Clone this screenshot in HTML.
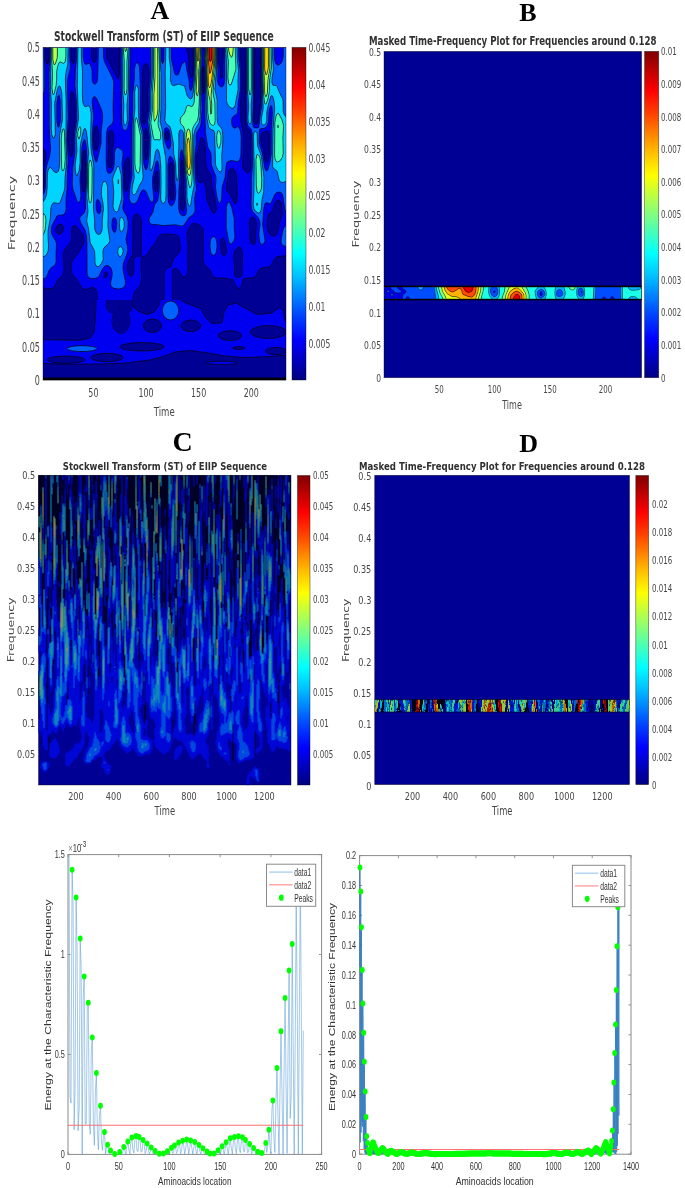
<!DOCTYPE html>
<html><head><meta charset="utf-8"><title>Stockwell Transform figure</title>
<style>html,body{margin:0;padding:0;background:#fff;width:685px;height:1188px;overflow:hidden}svg{display:block;filter:blur(0.5px)}</style>
</head><body>
<svg width="685" height="1188" viewBox="0 0 685 1188"><defs>
<linearGradient id="jg" x1="0" y1="0" x2="0" y2="1"><stop offset="0" stop-color="#800000"/><stop offset="0.06" stop-color="#bf0000"/><stop offset="0.12" stop-color="#ff0000"/><stop offset="0.19" stop-color="#ff4000"/><stop offset="0.25" stop-color="#ff8000"/><stop offset="0.31" stop-color="#ffbf00"/><stop offset="0.38" stop-color="#ffff00"/><stop offset="0.44" stop-color="#bfff40"/><stop offset="0.5" stop-color="#80ff80"/><stop offset="0.56" stop-color="#40ffbf"/><stop offset="0.62" stop-color="#00ffff"/><stop offset="0.69" stop-color="#00bfff"/><stop offset="0.75" stop-color="#0080ff"/><stop offset="0.81" stop-color="#0040ff"/><stop offset="0.88" stop-color="#0000ff"/><stop offset="0.94" stop-color="#0000bf"/><stop offset="1" stop-color="#000080"/></linearGradient>
</defs>
<text x="160" y="18.9" font-size="26" font-weight="bold" font-family="Liberation Serif, serif" text-anchor="middle" fill="#000">A</text>
<text x="54" y="40.7" font-size="14.2" fill="#303030" font-weight="bold" font-family="DejaVu Sans, sans-serif" textLength="219.6" lengthAdjust="spacingAndGlyphs" text-anchor="start">Stockwell Transform (ST) of EIIP Sequence</text>
<rect x="43" y="47.4" width="243" height="332.6" fill="#000094"/>
<clipPath id="ca"><rect x="43" y="47.4" width="243" height="332.6"/></clipPath><g clip-path="url(#ca)"><path fill="#0000f1" d="M44 47.4l1.6 0 .1 11 .3 2.8 1 2.8 1-.8 .6-3.8 .3-12 1.1 0-.1 11-.8 14 .2 56.1 1.3 20.1-1 8-2.6 8-.8 4-.6 11-.4 10.1-.8 3-1.4 2.1 0-5.3 1.1-4.9 0-16 1.9-14-.9-4-2.1-1.2 0-54.1 1.3-3.8 .4-5zM70.1 47.4l1.2 0 .2 11 .6 3.5 1 1.7 1-.9 .8-4.3 .2-11 1.4 0 0 11-1.2 13-.3 15.1 1.4 14 .4 19-2.2 15.1 .5 17-2.3 16-.5 18 1.1 5.1 3.7 10.5 1 1.1 1-.1 1.1-1.5 .7-5-1-16.1 1.4-14 .6-18 1.3-6.1 1-2.1 1 1.2 1 5 .8 10-.6 14 0 16-1 12.1 .1 11-1.3 4.3-3.8 3.7-.8 2 1.1 4 4.5 7.6 1.1 4.4 .7 9.1-.1 28 .7 4 1.6 2 4 .8 4-.9 2-2.1 2.7-5.8 2.1-3 2.3-1.3 2 .2 2.6 2.1 1.2 3 0 5-1.6 8 .8 2.7 2 1.6 3 .8 4-.1 3-1.3 1.5-1.7 .7-3-2.3-12-.3-5 .9-4 3.3-8 .7-4-.2-3-1.7-7.1 2-11 .1-8-.9-4-3.6-6-.7-3 1.1-9-1-11 0-13.1-1-10 1.1-10-.2-3-1.5-2-2-1.4-2-.8-1 .5-1 1.6-.8 3.1-.2 12-1.2 5-1.8 2.8-2 1-1-.3-1-1.2-.9-3.3-.3-10 .3-25 1.1-5.1 1.3-2 3.5-2.9 1-3.1-.3-13 .7-24-.3-3-1.1-3-8-16.1-.9-5 .1-9 3.3 0-.3 7 .8 4.4 11 20.5 1.1-6.9 .2-25 1.5 0 .5 75.1 1.1 6 1.6 1.9 1 0 1-.6 1.4-2.3 1.4-7 1.2-73.1 20.2 0 .4 28.1-1.5 17 .3 16-2.2 13 2.1 15.1-.5 18-.7 7-1 5.8-1 2.3-1-.3-.3-.8-1.3-5-.6-10 0-20-.6-4.1-2-7-.4-4 .2-27-.8-23.1-.4-3-1-2-.8-.6-1 .3-1 1.6-1 4.7 0 9.1-1.7 16 0 15-.8 18-.2 35.1 .3 12-2.1 13.1-.8 9 .4 3 .9 2.4 2 1.7 2-.1 1.7-1 1.3-1.8 4-9.8 1-1 2-.2 2 2.4 3 7.8 2 1.8 1.6-.2 .5-1 .2-3-1.2-13.1 .1-7 2.9-13.3 1-3.1 1-.3 1.1 3.7 .9 9.1 .1 10.9-.6 9.1-1.5 7.3-2.8 3.7-2 8-3.3 5-.3 3 1.3 3 2.1 .8 5 .2 5 .8 12-.8 6.1 1.4 2-.2 2.4-2.2 2.8-5 5.2-4 1.8-3 .3-4-.5-9 1.8-10-1.3-14.1-.3-13 .2-8 1.2-10-.2-8 .7-3 3.1-5.1 1.1-3 1.1-16-.6-17-.1-18.1 1.2-16-.8-10 1.1 0 .9 2.5 .2-2.5 1.1 0-.7 11 .9 12 .1 22.1-.6 14 .8 26.1 2.2 14.4 2.9 5.6 .5 2 .1 10 4.6 12 .3 3-.6 8.1 1.9 11 1.3 3.8 1 .6 1-1 .6-1.4 .6-4 .2-10 2.7-8.1 1.4-14 1.4-3 1.2-.6 3-.4 5 1.2 1-.2 1-.7 1-1.6 1.1-4.7 .3-18-.9-6-1.5-3.4-1-.5-3 1.5-1.6-.7-1.1-2-.6-4 .6-4 .7-1 4-2.2 1-3 .6-9.8 1.6-9 .4-6-.1-16.1-1.6-13-.1-10 1.7 0 0 9 1.6 14 .2 13.1-.2 7-1.4 12 .2 16 .4 4 2.1 9.1 .3 5-.1 17-.9 12 .8 3 1.2 2 1.3 1.5 2 .8 1-.6 1.1-1.9 .8-3.8 .3-5-.5-13 .2-14-.8-3.1-3.6-5-.9-6-.2-73.1 1.2 0 .1 42.1 .6 16-.3 15 1.1 5 3.7 4 .5 4.1 .5 30-1.3 16 .2 11.1-.5 13 .5 5 1.4 3.3 4.6 4.7 2.2 4 .5 3-1.2 9 .4 7 .5 2.5 1 1.7 1 .5 1-.2 1.5-1.4 .6-2.1-2.4-16 1.2-16 1.1-4.9 1-1.1 1 0 3 1.1 1-.7 3.7-8.4 2.4-2.4 3-.3 2 1.5 1.3 4.2 1.5 12 1.2 2.9 0 12.9-2 2-1 2.5-1.6 7.7-.4 4.1 1.2 3 1.8 1.1 2 .5 0 9.4-7 .5-3 1-1.4 1.5-3.7 7-2 1.3-6 .5-2.9 1.2-1.5 2-2.6 5.2-2 1.6-10.1 1-.9 1.2-1 5-1.1 2.5-1 1-2 0-2.4-2.5-1.6-4.6-1-1.5-9.1-1.8-8 0-2-.7-1-1-3-6.5-5-4.9-1.3-3-.4-5 .6-23.1-.8-5-2.2-2.8-4-2.1-3-.4-2.3 1.3-2.8 4-1.5 5 1 11.1-.4 13 .5 11-.8 5-1.7 2.6-2 .7-2-1.4-3-5.4-2.1-1.6-3-.1-1 2.2-.2 109.2-8 0-.1-106.2 1.4-4 1.9-1.6 3.1-1.4 .8-1 2.1-7.1 5.5-5.9 1-3 .2-4-1.1-8.1-1.4-2-1.2-.7-12-1-4 .8-2.1 1.9-2.9 6.3-4.3 4.8-3.8 6.6-2 1.5-3.7 .9-.5 7 .4 15-.4 4-1 3-4.9 5-1.8 4-.4 4.1 .5 10-.1 71.1-36.2 0 .1-82.1-.5-6.1-1.4-3-2.3-1.2-2.9 .2-5.1 1.8-2-.6-1-.8-5.1-8.3-4-4.2-1.3-2.9-.6-3 0-5 1.1-4 1.1-2 4.4-5 5.8-10 .5-5.1-.7-3-1-2-6.3-7.3-2-1-1 .4-1 1.7-.5 2.2 0 9-.7 3.1-1.8 2.7-4 4.3-1.6 4-.3 4 .9 12-.3 3-1 3-1.5 2-3.5 3-2.9 6-1.9 2.2-3 .7-7-.8 0-8.8 2-.8 1.5-1.5 2.9-7 1.6-1.9 4-3 1.1-3.1-.1-9 .5-9-1-3.1-2.5-4-1.3-3-.5-4 .7-4 1.1-2.8 4.1-6.9 1-.7 4-.3 2-.8 1.1-1.5 .9-3.6-.1-9.4 1.1-11 .2-12.1 .9-17-1.3-19 1.2-22.1-.6-36 .5-5 2.2-9.1-.6-14 0-7zM144.3 64.4l-1 2-.5 4-.7 47.1 .3 4 1 2.5 1 1.2 .4-1.7 3.1-14-.3-18 1.4-18.1-.6-6.5-.9-2.5-1.1-.8-1 0zM203.4 66.4l-.7 1.1-.3 2.9 0 17.1 .3 5.3 1 1.5 .5-4.8 0-18.1-.5-5.4zM70.9 92.5l-1 9 0 20-1.7 12.1-.2 7 .6 6 1.5 7.8 1 2.5 1.1-1.3 .9-5.9 .2-17.1 1.9-12.1-.1-16-.6-6-1.4-5-1-2-1 0zM145.1 128.5l-.4 26.1 .7 5.1 1 .5 .5-1.6 .7-5 .4-18-.6-3.9-1-2.6-1-1.5zM110.2 130.6l-1.2 2-.6 3 .3 12-.7 14 .3 3.1 1 2.9 1 .4 1.3-1.4 .8-4-.2-11 1.6-10 .1-4-.4-4-.7-2-1.5-1.3zM200.9 137.6l-4.3 18.3 .5 20.7 .5 3.3 1 2.4 1 .7 3.1-1.3 1 .1 1 1.4 1.1 4.5 .7 11 5.5 13 1.7 1.5 1-.3 1-1.3 .6-2.9-.4-5-1.2-6.6-2.5-9.4-.8-11.1-1.1-3-3.3-5-.9-3-.3-12-1.4-11-1.7-4.7-1-.7zM84.1 149.6l-1 4-1.5 28 .6 7.1 1 3.2 1-.2 1-6.1 .4-29-.4-5.3zM127.5 157.6l-2.2 3.2-1.1 5.8 .3 20.1 .8 4.2 1 .9 1-1.8 .9-4.4 1.7-13-.5-12.6-1-2.8zM231 168.6l-1.4 1-1.2 3-2.1 16.1 .5 2.1 3.4 3.9 3.6 7.8 1 1.1 1-.1 1.3-3.8 .2-5-.6-18.1-.7-4-1.1-2-2.1-1.8zM156.2 171.6l-1.5 5-.4 6 1.1 8.1 1.1 1.8 1.1-2.8 .6-9.1-.7-8.3-1-1.3zM276.7 200.7l-1.7 3-2.5 7-1.6 2-2.6 2-.9 5-.2 7 .7 4.1 1 2.2 2 2.3 3.1 .8 2-1.1 1.9-3.3 1.9-10 2.4-7-.1-7-1.1-5.1-1-1.8-1-.8-1-.1zM227.8 202.7l-1 2.7-.5 3.3 0 20 2.6 13.1 .9 1.6 1 .6 1.9-1.2 1.7-3.1 .5-3-.7-9-.1-10-1.4-7-1.9-5.9-1-1.9-1-.7zM134.5 214.7l-1.2 2-.6 4 .3 20-.5 13.1-.6 2-3.5 5.4-1.2 5.6 .6 5 1.6 3.7 1 1 1 0 1.4-1.7 1.1-4-.1-10 .6-3 2-1.4 4-.3 .5-.3 .3-2 .2-33.1-1-3.4-2-2.5-2-.8zM250.6 217.7l-.7 1.9-.3 2.1 .2 18 1 3.1 1.1 1.3 2 .4 1-.9 .8-3.9-.1-8 .9-7-.1-3-.7-2-1.8-1.9-2-.6zM58.7 224.7l-1.6 1.2-1 1.4-.5 3.4 .9 2 1.6 1.3 2 .2 1-.4 2.1-3.1 .2-4-1.3-2-2-.4zM213.1 236.7l-1.4 .8-1.1 2.2-.5 4.1 .1 5 .5 3.7 1 2.1 1 .6 1.9-.4 1.1-1.4 .9-2.6 .2-8-1.1-4.4-1-1.3zM221.8 238.7l-1.1 5.1 .4 8 .6 2.1 1 1.4 1 .4 1-.3 1.4-1.6 .4-2-.5-6-1.3-5.4-1-1.9-1-.6zM237.1 247.8l-2.3 3-1.2 4 .8 9 0 9 .4 3 .7 1 3.3 .4 2.1-.4 1.2-2 .4-21-.7-3.9-1-2-1-.9-1-.1zM105.2 271.8l-1 2 0 3 1.1 1.1 1-.5 1-1.6 .1-3-1.1-1.3zM84.2 47.4l7.4 0 0 10 1.4 4 1.2 1.5 1-.6 1-3.9 .1-11 2.2 0 0 11-.7 11 0 8.1-.6 4-1 2.1-1 .6-1-.1-1-.9-1.2-3.7 0-9.1-1-4-1.8-2.9-1 0-2 1.1-1-.3-1.1-1.9-.8-4-.2-5 .1-6zM161.5 47.4l2.5 0 0 11-.5 3.7-.8 1.3-1.2-2.4-.4-3.6 0-10zM171.5 47.4l14.8 0 2.3 9.4 .4 13.6 1.6 6 1 1.3 1-2 .6-5.3 0-23 .8 0 .1 26-1.5 12.5-1 3.9-1 .9-1-2.2-.7-9-1.9-8.1-1.4-9.3-1-.3-3 2.8-3 9.6-1 .8-2.1-.1-1-1.8-3.1-13.7-.3-6 .1-6zM217.7 47.4l.5 0 .2 12 2 10 .3 8.4 1 1 .9-3.3-.3-6.1 .8-11 .1-11 1.3 0 .2 10 .2 19.1-.6 7-.7 2-.9 1.1-1 .4-2-.9-1-1.1-1-4.5 .2-11.1-.7-16 0-6zM253.9 47.4l.6 0 0 39.1-.7 32 .2 3 .9 2.6 1 .4 1-.7 .9-2.3 2.7-17 0-57.1 .9 0 0 4 .2 56.1-1.7 10-1 9.7-1 .7-1 .1-3-.5-1.1-2-.2-5 .9-32-.1-41.1zM275 47.4l8.2 0-.2 11-.8 3-1.2 2-2 1.5-1 .2-1-.3-1.6-2.4-1.1-7 .1-8zM59.1 95.2l1.1 5.3 .2 19-1 6-.3 1-1 .7-1.3-5.7 0-18 1.1-7zM93.2 97.4l1-.7 1 .1 1.5 1.7 4.8 11 1.1 5 0 5-1.4 11.1-.1 13-3.4 15-.5 2.5-1 1-1-1.8-1.8-6.7-.8-6-.3-14 1.4-17.1-1.6-15 .2-2zM95.7 126.5l-1.5 4.1-.6 9 .7 8 .9 3 1.1 0 .9-1.5 1.3-4.5 .5-7-1.3-10.1-.5-1.2-1-.5zM270.9 105.5l1 1.2 .5 4.8-1 18-.2 26.1-1.1 6-2.2 7.9-1 1.5-1-.5-1.1-2.9-2.6-15-3-9-.2-5 .4-8 .5-1.6 5-.9 2.5-2.6 1.1-4 .5-10 .9-4.3zM264.6 131.6l-1.7 .6-1.3 1.4-.7 2.3-.2 3.7 .5 3 2.2 6 1.5 10.4 1 2.9 1 .2 1-1.6 1.5-5.9-.2-20-.3-2.2-1-1.4zM165.5 127.8l2 .2 1 .9 1.4 3.7 .9 11-.3 2.3-1 2.7-1 .5-1-.9-2-4.3-.8-3.3-.6-9 .4-2.3zM166 132.6l-.4 3 .8 4 1.1 1.3 1-1.1 .3-3.2-.4-3-.9-1.9-1-.1zM181.6 149.6l1 1.7 1.1 7.3 1.8 24 0 15.1 1.1 11-.4 5-.6 1.2-2 .9-2-.4-1.6-1.7-1-3-.4-4 .3-18 1-12.1-.1-18 .8-6.6zM181.5 159.6l-.5 5 .3 14-.8 27.1 1.1 4.3 1 .7 1-.4 .7-1.6 .3-3-.8-10 .1-16.1-1.1-18-.2-1.4zM170.5 156.2l2 2.1 1.7 5.3 .4 15 1.3 12.1-.7 9-.9 3-1.2 2-1.6 1-1-.2-1-.8-1-2.5-.5-4.5-.1-33.1 .9-6 .7-1.9zM170.6 162.6l-1 3-.3 3 .6 14-.3 12.1 .9 4.7 1 1 1-.4 1-2.5 .5-3.8-.9-13.1 .2-12-.8-5-1-1.3zM97.2 199.2l1 .5 1 1.3 1 2.1 .8 3.6-.4 5-1.4 2.1-1-.2-1-1.3-1-3.6 0-6.8zM114.3 217.6l1 .5 .9 1.6 .5 4-.5 6-.9 2.4-1 .3-1-.9-1-2.5-.5-4.3 .5-5 1-1.8z"/><path fill="#0063ff" d="M43.9 48.4l0 10 .8 13 0 15.1-.4 5-1.3 3.8 0-47.9 .9 0zM50 47.4l.8 0-.2 42.1 .8 15-.1 25 .7 6.4 1 2.1 1 0 1-2.1 .5-2.3-.9-29.1 .7-6 1.8-7.7 1-3.4 1-1.5 1 .5 1.1 3.1 .8 5 .5 25-3 16.1 .2 24-.6 9.2-1 2.6-1 1-2.1 0-4-4.6-1-.2-1 .8-.9 2.2-.9 6 0 11.1-.6 6-1.4 5-2.2 3.1 0-7 1.7-3.1 .8-4 .5-18.1 1-5 2.6-8 1-7-1.3-22.1-.2-55.1 .8-13zM58.8 95.5l-.7 .6-1.2 5.4-.1 18 .7 6 .6 1.7 1-.7 1.1-4 .3-5-.4-18-.6-3-.4-1.3zM68.1 47.4l1.5 0 0 10 .7 10-.5 4-1.8 6.1-.5 5 .6 36-1.2 22.1 1.3 19-.9 17-.2 12.1-1.1 11 .1 9-.5 3-1.5 2.5-2 .8-4 .3-1 .7-4.1 6.9-1.1 2.8-.7 4 .5 4 1.3 3 2.5 4 1 3.1-.5 9 .1 9-1.1 3.1-4 3-1.6 1.9-1.9 5-1.8 3-2.7 1.3 0-22.5 2-.6 1.5-1.2 1.7-4 .4-5-.6-8.1 .1-7 2.4-14 .5-9.4 .9-2.6 1.1-1.5 2-.5 3.1 .7 1-.1 1-.8 4-11.5 .8-4.3 .1-9.1 1.3-11 .4-8-.8-16 .2-40.1-.7-24 .4-5.1 2-9zM77.1 47.4l.9 0-.7 39.1 1.2 32-2.5 15.1 1 17-1.8 14 0 5 .9 5.2 1 .9 2-5.2 1-7.9 0-13 .5-6 2.6-11.9 1-2.8 1-.3 1.3 3 2.1 21-1.1 15 0 17-.6 12.1 1.1 15-1.3 9 2 9 1.5 13.1 3.8 7 .7 2 .4 12 1.1 2.2 1 .7 1 0 1-.5 2-2.4 2-4-.3-8 .6-3 1.8-2.5 3.3-2.5 1.3-3.1-2-14 .2-12-.5-28-1.2-4.1-1.1-.9-1-.1-1.1 .6-.7 1.4-.9 4.1-.3 7 1.6 8 .5 6-1.2 12 .1 7-.4 3-1.7 3.3-2 .5-2.1-1.8-1.4-4 0-8-1.3-12 .5-41.1-.5-5-2-10-.5-6-.2-15 .5-17.7-.9-5.4-1.1-2.3-1-.4-3 1-.5-.3-1.3-2-.7-3-.3-6 .1-24.1-1.1-12-.1-12 1.9 0 0 9 1 6.3 1 1.6 1 .3 2-1.1 1 0 1 1.1 1.2 2.8 .6 3 .2 10.4 1 2.4 1 .9 1 .1 1.7-1.7 .8-4 .8-31.1 4.7 0 .2 9 .9 5 8 16.1 1.1 3 .3 3-.7 24 .3 13-1 3.1-3.5 2.9-1.3 2-1.1 5.1-.3 26 .5 10 .7 2.3 1 1.2 1 .3 2-1 1.8-2.8 1.2-5 .2-12 .8-3.1 1-1.6 1-.5 2 .8 2 1.4 1.5 2 .2 3-1.1 10 1 10 0 13.1 1 11-1.1 9 .7 3 3.6 6 1 5-.2 7-2 11 1.7 7.1 .1 4-1 4-3.2 8-.6 4 .3 4 2.1 10 .1 3-.6 2-1.5 1.7-2 1-3 .5-5-.9-2.4-2.3-.3-3 1.5-7 .1-4-1.3-4-2.4-2-2.2-.3-2 1-2.4 3.3-2.7 5.8-1 1.3-2 1.2-4 .5-3-.8-1.1-1-1-3-.1-30-.5-8.1-1.3-5.4-4.5-7.6-1.1-4 .8-2 3.8-3.7 1.3-4.3-.1-11 1-12.1 0-16 .6-14-.8-10-1-5-1-1.2-1 2.1-1.3 6.1-.6 18-1.4 14 1 16.1-.7 5-1.1 1.5-1 .1-1-1.1-4-11.5-.9-6.1 .6-16 2.2-15-.3-19 2.1-14.1-.4-19-1.4-15 .3-14.1 1.2-13 0-11zM93.2 97.5l-.9 2-.2 2 1.6 15-1.4 17.1 .3 14 .8 6 1.8 6.7 1 1.8 .6-.5 1.1-4 3.2-14 .1-13 1.4-11.1 0-5-1.1-5-4.8-11-1.5-1.7-1-.1zM117.3 166.6l-4.1 10-.6 3 1.2 11.1-.9 13 .2 4 1.2 3 1 .9 2 .2 1-1.3 2.8-9.8 .7-5-.6-21.1-1.9-6.8-1-1.6zM96.9 199.7l-.8 3 .1 6.1 1 3.5 1 1.3 1.1 .1 .9-.9 .7-2.1 0-5-1.7-4.7-1-1.3-1-.5zM114 217.7l-.7 .2-1 1.9-.4 6.9 1.4 4.8 1 .9 1-.3 1.1-3.4 .2-7-.9-3zM120.3 217.7l-.9 6 .5 6 .4 1.4 1 .8 1-.5 1-1.5 1.1-4.2-.5-5-1.6-2.9-1-.6zM120.1 246.8l-.8 .2-1.1 1.8-.4 4 .5 2 1 1.5 1 .3 1-.6 1.4-2.2 .5-3-.9-2.7-1-1.1zM121.3 47.4l.9 0 .4 11 .1 32.1 1.2 15-.6 14 .7 4 .3 1 1 .7 1.3-1.7 .8-4-.5-14 1.5-17 .2-29.1 .5-12 1.2 0-.1 3-1.1 70.1-.5 4-1.3 3.8-1 1.5-1 .6-1 0-1-.9-1-2-.7-6zM151.4 47.4l.8 0 .1 30.1-1.5 15 .2 18-1.9 12 1.9 14.1-1 31 .4 3.1 1-.1 1.1-2.4 2.6-14.6 1.4-3.9 1-.5 1.5 2.4 1.1 6 .8 10 .2 15-.4 16.1 .6 3 1.2 1.4 1 .1 1-.6 1-2.1 .4-2.8 .2-32.1-.6-9-2.4-14-.7-12-2.2-9.1 .8-12 .1-36.1-1.2-15 0-11 1.2 0 .1 11 .3 2.6 1 2.7 1-1.6 .4-2.7 .1-12 1.9 0-.7 27 .5 33.1-.9 10 .3 4 1.1 2 3.3 2.7 1.4 3.3 2.5 14.1 .3 10 2 10 .5 14 .3 2 1.1 1 1-6-.3-14 .6-15-.1-12 .8-3 1-.8 1 .1 1 .8 .7 1.9 .3 3-.2 10 1.9 24 1.6 15 .1 13.1 .6 4.4 1 3 1 1.1 1.2-1.5 1.2-9 2-9-.5-17.1 .2-34 .9-5 4-6.8 1.3-5.3 .5-9 .1-28 .1-11.1 .8-12-.4-11 .7 0 .7 9-1.1 17 .7 36.1-1.1 15-1.1 3-3.1 5.1-.7 3 .2 8-1.2 10-.2 8 .3 13 1.3 14.1-1.8 10 .6 10-.6 3.7-1.6 2.3-4.4 3.1-3.6 5.9-2.4 2.2-2 .2-6.1-1.4-12 .8-5-.8-5-.2-2-.8-1.4-3 .3-3 3.3-5 2-8 2.8-3.7 1.5-7.3 .6-9.1-.1-10.9-.9-9.1-1.1-3.7-1 .3-1 3.1-2.9 13.3-.1 7 1.2 13.1-.2 3-.5 1-1.6 .2-2-1.8-3-7.8-2-2.4-2 .2-1 1-4 9.8-1.3 1.8-1.7 1-2 .1-2-1.7-.9-2.4-.4-3 .8-9 2.1-13.1-.3-12 .2-35.1 .8-18 0-15 1.7-16 0-9.1 1-4.7 1-1.6 1-.3 .8 .6 1 2 .4 3 .8 23.1-.2 27 .4 4 2 7 .6 4.1 0 20 .6 10 1.3 5 .3 .8 1 .3 1-2.3 1-5.8 .7-7 .5-18-2.1-15.1 2.1-12-.2-17 1.5-17-.4-28.1zM136.3 85.5l-.9 2-.7 5 .2 16-1.5 16-.2 39.1 1.1 14-1.9 8.6-.4 4.5 .4 2.8 1 1.3 1-.1 2-2.2 3-7 3-4.9 .8-4-1.2-14 0-28-2.4-10.1-.8-6-.5-11 .1-17.9-1-3.9zM164.9 128.5l-.8 5.1 .8 8 2.6 6.6 1 .9 1-.6 1-2.6 .3-3.3-1.1-11-1.2-2.7-1-.9-2-.2zM181.1 150.6l-.8 3-.5 6 .1 17-1 12.1-.3 19 .6 4 1.4 2.9 2 1.1 1.6 0 1.5-1 .9-4-1.2-14 .1-14.1-1.9-25.6-1-5.7-1-1.7zM169.7 156.6l-1.2 3-.6 6 .1 33.1 .5 3.5 1 2.5 1 .8 1 .2 2-1.5 1.7-4.5 .8-7-1.4-14.1-.2-13-.6-4-1.3-3.3-2-2.1zM169.5 47.4l1.7 0 .2 12 3.1 13.7 1 1.8 2.1 .1 1-.8 3-9.6 3-2.8 1 .3 1.4 9.3 1.9 8.1 .7 9 1 2.2 1-.9 1-3.9 1.3-10.4 .4-8.1-.3-20 .7 0 .4 21-.3 8.1-1.9 19-1.2 3-1.1 .5-2-1.2-1.5-2.3-2.5-9.4-6-2-5.1 1.6-1-.4-1.2-1.8-.9-4 .3-10.1-1.5-12zM205.7 47.4l-.4 11 .6 11 .7 46.1 .9 7 1.2 4.7 1 1.5 4 1.9 1 2.4 .6 29.6 1.4 5.4 3 3.7 1 .3 1.1-1.4-.1-15 1.3-17-.3-6-.7-3.1-1.1-2-2.7-3-.7-2-.4-5 0-18-2.2-10 1.6-19.1-.1-23 .8 0 0 11 .7 12-.2 10.1 .4 3 1.6 2.6 2 .9 1-.4 .9-1.1 .7-2 .6-8-.4-28.1 1.2 0 .8 16-.2 34.1 .4 4 1.1 3.4 2.5 2.6 2.5 .7 1-.4 1-1.3 3.3-17-.2-9 .6-10.1-1.4-13-.2-10 1.7 0 .1 10 1.6 14-.1 19.1-1.8 11-.9 11-.9 2-2.8 1.4-1.7 1.6-.6 4 .6 4 1.1 2 1.6 .7 3-1.5 1 .5 1.8 4.4 .6 6-.4 18-1 3.7-1 1.6-1 .7-7-1-3 .9-1 1.3-.7 2.8-1.1 12-2.9 9.1-.6 13-1.3 3-.5 .4-1-.6-1.6-4.8-1.5-9 .2-12.1-4.6-12-.1-10-.5-2-2.9-5.6-2.2-14.4-.8-26.1 .6-14-.1-22.1-.9-13 .7-10zM246.8 47.4l.6 0 .2 43.1 1.1 15-.7 13 .8 4.6 1.1 1 1-.9 .4-3.7-.2-14 1.4-18-.1-40.1 1 0 .1 41.1-.9 31 .5 7 .8 1 2 .5 2-.1 1-.7 1-9.7 1.7-10-.2-60.1 .8 0 .3 43.1 .7 17-.2 3-1.6 8 0 4 .5 1.6 1 .9 2-.3 1-1.3 .9-3.9 .4-10 2.7-10.6 1-2.7 1-.9 1.3 2.2 1.1 5 .4 6-1.6 19-.7 38.1 .5 2.2 3.1 2.2 1.2 1.6 1.8 7.9 1 2 2 1.1 4-1 0 31-1.3-3.9-1.8-13-.9-2.2-2-1.5-3 .3-2 1.9-4.1 8.9-1 .7-3-1.1-1 0-.9 1-1.1 4-1.3 17 2.4 16-.6 2.1-1.5 1.4-1 .2-1-.5-.8-1.1-1.1-7.1 .1-4 1.1-7-.5-4-2.2-4-4.9-5-1.1-3-.4-3 .2-27.1 1.3-15-.5-30-.5-4.1-3.7-4-1.1-5 .3-15-.6-16-.1-36.1 0-6zM270.4 106.5l-1.4 5-.5 10-1.1 4-2.5 2.6-5 .9-.6 2.6-.1 12 3 9 2.7 15.7 1 2.2 1 .5 1-1.5 2.2-7.9 1.1-6 .2-26.1 1-18-.5-4.8-1-1.2zM254.9 131.6l-1 1.4-.4 3.6 .7 28-.3 28.1-.7 12 .8 4 1.9 2.7 3 1.7 1-.3 .7-1.1 .7-3 .7-9 1.7-8 .3-14.1-2.6-21-3.9-11-.3-12-1.3-2zM272.9 47.4l1.5 0-.1 8 .7 5.6 1 2.7 1 1.1 1 .3 1-.2 1.9-1.5 1.7-3 .7-5-.1-8 2.8 0 0 55.1 0 14.4-1-1-1.2-2.4-.7-3 .1-8-.7-4-2.6-5-2.9-7-1-1-3.1-.3-.7-1.7-.3-4.5 1.6-9.6-.9-13 0-9zM228.8 202.2l1 .7 2 4.8 2.4 11 0 9 .7 9-1 4-2.1 2.9-1 .4-1-.6-1-2-2.6-13.7 .2-20 .9-4 .5-1zM286 225.5l0 20.9-3-1-1-.9-.8-1.7 0-4.1 1.9-9 .9-2.2zM213.7 236.7l1 .4 1.2 1.6 .8 3.1 .3 4-.3 4-.7 3-1.3 1.9-1 .5-2-.6-.9-1.8-.8-7 .3-4 .7-3.1 .7-1.2z"/><path fill="#00d4ff" d="M51 47.4l.7 0 .1 13 .7 12-.5 16.3 1 6 1-.5 2.1-8.6 .6-6.1 0-9.1 1.4-5.6 1-2.2 1-.8 3 1.5 1-.2 1-1.5 .8-5.2 0-9 2.1 0-.2 17-2.1 10-.4 5.1 .8 23-.2 40.1 .8 19-1.7 15-.1 10.1-.7 4-4.1 11.8-1 .8-1 .1-4.1-.7-1.4 1-1.1 2-.7 3-.4 9-2.3 13-.1 7 .6 8.1-.4 5-1.7 4-1.5 1.2-2 .6 0-4.8 0-17.3 1-1.2 1-2.8 1-9.8-.7-5-1.3-1.7-1-.4 0-11.8 2-2.7 1.5-4.4 .6-6 .3-14.1 .6-3.9 1-2.3 1-.8 1 .2 3 3.8 2.1 1.1 1-.3 1-1 1-2.6 .6-7.2-.2-26 3-16.1-.6-26-1.3-6-.5-1.1-1-.5-1 1.5-1 3.4-2.4 11.7 .6 32.1-1.3 3.4-1 0-1.2-3.4-.5-6.1 .1-25-.8-14zM62.8 129.5l-1 3.1-.5 5 .2 27 .6 5.6 1 .7 .6-1.3 1.4-6 .1-6-.7-25-.4-3.4-1-.3zM78.1 47.4l3.2 0 .1 12 1.1 12-.1 25.1 .5 6 1.3 3.6 1 .7 3-1 1 .4 1.1 2.3 .9 5-.5 18.1 .2 15 .6 7 2.3 13-.4 42.1 1.3 12-.2 6 .4 3 1.3 3.2 2 1.6 2-.5 1.7-3.3 .4-3-.1-7 1.2-12-.5-6-1.6-8 .3-7 .9-4.1 .7-1.4 1.1-.6 1 .1 1 .7 1.2 3.2 .6 29.1-.2 12 2 14-1.3 3.1-3.3 2.5-1.8 2.5-.6 3 .4 5-.4 4-1.7 3-2 2.4-2 .5-1.7-1.9-.7-3-.1-10-.7-2-3.8-7-1.5-13.1-1.9-8 0-3 1.2-7-1.1-15 .6-12.1 0-17 1.1-15-1.7-18-.7-4.2-1-1.8-1 .3-1 2.8-2.7 12.9-.4 5 0 13-1 7.9-2 5.2-1-.9-.8-4.2-.2-5 1.9-16-1-15 2.5-16.1-1.2-32zM79.3 127.5l-1.2 2.9-.4 4.2 .4 3.7 1 .6 1.1-2.3 .7-6-.7-3.9zM89.9 160.6l-.7 1.7-.5 5.3-.3 28.1 .8 6.1 1 1.3 .8-1.4 1-8 .2-25.1-1-7.2-1-1.5zM122.3 47.4l.9 0 .9 11 0 30.1 .2 3.5 1 3.1 1-1.4 .7-6.2 0-28.1 1.1-12 1 0-.6 15 0 17.1-.2 12-1.3 13 .3 16-1 3.8-1 .9-1-.7-.6-2-.4-5 .6-12-1.2-15zM152.5 47.4l1 0 0 29.1-1.3 16 .1 18-1.4 10 0 4 2.6 13.5 .6 1.6 .4 .4 2-.4 3 .5 1-1.3 .2-1.2-.2-5-2-5.7-.5-3.4 1.5-15 .1-36.1-.8-25 1.1 0 0 11 1.2 15-.1 36.1-.8 12 2.3 9.9 .7 12.2 2.3 12.9 .5 5.1 .1 32.1-.6 7-1 1.9-1 .6-1-.1-1-1-.6-2.4-.1-34.1-.9-10-1.4-5.3-1-1.1-1 .5-1 2.4-2 11.9-2.1 6.6-1 .1-.4-2.1 1-32-1.9-14.1 1.9-13-.2-16 1.5-16zM166.5 47.4l2.7 0 .1 11 1.4 11-.3 10.1 1.1 4.5 1 1.3 1 .4 5.1-1.6 6 2 2.5 9.4 1.5 2.3 2 1.2 1-.4 1-1.9 1-6.7 1.4-16.6-.3-26 .7 0 .5 25-1.8 30.1-1.5 3.6-1 .5-3-1.1-1 0-.9 1-2.1 6.5-3.7 4.5-.8 3 .6 3 2.9 3.3 1.3 3.8-.3 15 1.1 21 .9 6.9 3 14.1 1-.2 .6-1.8 .7-5 .5-16-.1-34 1.1-4.1 4.2-6.2 1.1-5.8 1-25 .1-18.1 .9-13-.3-11 .6 0 .4 11-.9 13-.4 45.1-1 6-4 7-1.3 5.1-.3 35 .6 16-2.2 11.1-1.1 8-1.2 1.5-1-1.1-1-3-.6-4.4-.1-13.1-1.6-15-1.9-24 .2-10-.3-3-.7-1.9-1-.8-1-.1-1 .8-.8 3 .1 12-.6 15 .3 14-1 6-1.1-1-.3-2-.5-14-2-10-.3-10-2.5-14.1-1.1-3-3.6-3-1.3-3 .8-13-.5-35.1 .7-25zM205.7 48.1l0-.7 .6 0-.3 10 .6 12-.1 12.1 1.1 19 .1 11 1 7.6 1 3.4 2 2.5 2 .2 1-1.2 .3-1.5-.1-20-1.6-8-.3-4 2.4-22.1 .2-21 .8 0 .1 21-1.6 20.1 .3 3 1.5 5.2 .6 5.8 .1 19 .8 3 2.7 3 1.1 2 .8 4.1 .1 6-1.2 16 .4 11-.4 4.2-1 1.2-2-1.1-2-2.9-1.1-3.4-.9-31.6-1-2.4-4-1.9-1-1.5-1.2-4.7-.9-7-.7-46.1-.6-11zM217.4 131.6l-.7 5 .3 7 .7 3.4 1 1.3 1-1 1.3-5.7-.1-7-1.2-3.2-1-.7zM225.8 47.4l1.1 0 1.2 12-.2 18.1 .9 6.1 1 1.4 1-.2 .7-1.3 4.3-13.2 .3-3.9-.8-10-.1-9 1.7 0 .2 10 1.4 12-.6 11.1 .2 9-3 16-1.3 2.3-2 .4-2-1-2-2.3-.9-2.4-.5-4 .1-35.1zM247.8 47.4l.9 0 .1 43.4 1.1 4.2 1-2.1 .3-3.4-.1-42.1 1.3 0 0 29.1 0 15-1.3 14 .2 15-.4 2.7-1 .9-1.1-1-.6-2.6-.2-4 .7-10-1.2-18-.1-41.1zM262.9 47.4l.5 44.1 1 10 .5 2.2 1 .6 2-5 1.2-5.8 .6-14 1.7-12.1-.3-20 1.5 0 0 10 .9 12-1.5 9.1-.1 4 1 2.7 3.1 .3 1 1 2.9 7 2.6 5 .5 2 .2 11 1 3 1.8 2.4 0 39.7 0 25-4 1-2-1.1-1-2-1.8-7.9-1.2-1.6-2.4-1.4-1-2 .5-38.1 1.6-21-.7-7-1.1-3.7-1-1.5-1 .9-1 2.7-2.5 9.6-.6 4 0 7-.9 3.9-1 1.3-2 .3-1-.9-.5-1.6 0-4 1.8-10-1.1-42.1 .1-19zM277.7 113.5l-.7 .5-1 2.3-1.2 7.2-.1 32.1 .3 3 1 2.6 1 .7 1 0 2.1-1.3 2.1-3 1-4-.3-16 .6-11.1-.6-4-1.6-4-2.3-4.5-1-.7zM136.4 85.3l1 .4 1 3.9-.1 17.9 .5 11 .8 6 2.4 10.1 0 28 1.2 14-.8 4-3 4.9-3.1 7.2-1.9 2-1 .1-1-1.3-.4-2.8 .4-4.5 1.9-8.6-1.1-14 .2-39.1 1.5-16-.2-16 .7-5zM135.9 118.5l-.5 1-.5 5 0 40.1 1.5 6.5 1 1.6 1 .3 1-1.3 .9-9.1 .3-27-3.2-15.2-1-2.7zM254.9 131.5l1 .1 1.3 2 .3 12 3.9 11 2.6 21-.3 14.1-1.7 8-.8 10-1.3 3-1 .4-1-.3-2.7-2.1-1.3-2.3-.7-3.7 .7-12 .3-28.1-.7-28 .4-3.6zM257.2 154.6l-.8 2-.4 5 .3 25.1 .6 4.1 1 2.3 1 0 1-.9 1.4-3.5 .6-5.1-.8-18-1.2-7.8-1-2.3-1-1zM256.7 203.7l.2 1.8 .7-.8-.7-1.6zM117.3 166.5l1-.3 1 1.6 1.9 6.8 .6 21.1-.5 4.1-3 10.7-1 1.3-1 .2-2-1.3-1.3-4 .8-15-1.2-12.1 .6-3zM118.3 179.6l0 4zM120.3 217.6l1-.4 1 .6 1 1.3 .9 2.6 0 5-1.4 4-1.5 1.2-1-.8-.6-2.4-.3-6zM120.3 246.7l1 .3 1 1.1 .9 2.7-.9 3.9-2 1.9-1-.3-1-1.5-.6-3 .6-3.4 1-1.4z"/><path fill="#47ffb8" d="M52 47.4l.8 0 .1 12 1.1 5.2 1-.2 .5-1 1.6-5 .3-4-.1-7 8.6 0 0 9-.8 5.2-1 1.5-1 .2-3-1.5-1 .8-2 5.8-.5 4 0 8.1-.7 6-1.9 7.7-1 .5-.3-1.2-.7-6 .5-14.1-.8-15 0-11zM123.3 47.4l1.4 0 .6 4.2 1-.9 .4-3.3 1.4 0-1.2 14 0 28.1-.6 4.2-1 1.4-1.1-4.6 0-30.1zM154.5 47.4l.4 0 .2 28.1-1.2 18 .2 27 .4 1 2-4.1 1-3.8 .4-4.1-.3-62.1 1.2 0 .8 25-.2 37.1-1.4 14 .5 3.4 2 5.7 .2 5-.2 1.2-1 1.3-3-.5-2 .4-1-2-2.8-15.5 1.6-12-.1-18 1.3-16 0-29.1zM195.6 47.4l.5 0 1 24-1 19.1 .5 4.6 1 .8 1.1-5.4 0-19.1 1.2-13-.2-11 .7 0 .3 10-.9 14-.1 20.1-1.4 26-1.3 4-3.6 5-1.1 4.1 .1 17 0 18-.5 16-.3 2.7-1 3.1-1 .2-3-14.1-.9-6.9-1.1-21 .3-15-1.3-3.8-2.9-3.3-.6-3 .8-3 3.7-4.5 2.1-6.5 .9-1 1 0 3 1.1 1-.5 1.5-3.6 1.8-30.1zM187.6 129.5l-1 3.7-1 10.4 .8 21 1.2 8.1 1 2.4 1 .4 .5-.9 .8-3 .5-7-.5-25-1.3-9.5-1-1.2zM206.7 47.4l.7 37.1 1.3 10.5 1.4 5.5 .6 13.7 .8-.7 .1-1 .2-8-.7-6 0-4 3.3-28.1 .4-19 .8 0 0 12-.4 12-2.2 19.1 .3 4 1.6 8 .2 19-.4 2.5-1 1.2-2-.2-1-.8-1-1.7-1-3.4-1-7.6-1.7-53.1 .3-11zM227.8 47.4l.6 0 .4 3.5 1 3.5 1 2.2 1 .7 1-3.7 .4-6.2 2 0 .9 20-.3 3-1.1 3-3.7 11.1-1.2 .5-1.1-1.5-.8-7 .4-15.1-1.4-14zM248.8 47.4l2.3 0 .2 40.1-.4 5.4-.8 1.6-.2 .5-.7-2.5-.5-4zM263.7 48.4l0 19 .9 13.1 0 10 .3 4 1 2.3 1-1.8 .5-2.5 .6-13 1.8-11.1 0-21 1.3 0 0 8 .3 12-1.7 12.1-.4 13-2.4 10-1 1.8-1-.6-1-5.1-.4-5.1-.6-25.1 0-21 .8 0zM278 113.3l1 .7 2.8 5.5 1.3 4 .4 3-.6 11.1 .3 16-1 4-2.2 3.2-2 1.1-1 0-1-.7-1-2.6-.4-4 .3-32.1 1.1-6.2 1-2.3zM277.9 125.5l.1 2zM136.4 117.7l1 2.7 3.2 16.2-.5 29-.5 5-.8 2-.4 .4-1-.3-1-1.6-1-3.1-.5-4.4 0-39.1 .5-5zM80.2 126.7l.6 2.8-.2 5.1-1.5 4.3-.6-.3-.8-3 .2-4 1.2-3.9zM63.1 128.9l1 .3 .4 3.4 .7 27-.6 7-.5 2.5-.9 1.5-.1 .3-1-.7-.5-3.6-.3-27 .4-6zM217.7 131l1-.3 1 .7 1.3 4.2-.1 7-1.4 5-.8 .7-1-1.3-.8-4.4-.1-7zM257.9 154.5l1 1 1 2.3 .7 3.8 1.2 18-.3 8.1-.6 2.4-1.6 2.6-.4 .4-1 0-.7-1.4-.9-6.1-.3-26 .9-4.9zM90.2 159.9l1.3 2.7 .7 6.4-.3 25.7-.6 6-.8 2-.3 .4-1-1.3-.8-6.1 .3-28.1 .5-5.3zM118.3 179.6l0 4.2zM256.9 203.1l.7 1.6-.7 .8zM43.3 213.7l1.7 1.3 1 4.7-.5 8-1.5 5.6-1 1.2z"/><path fill="#b8ff47" d="M53 47.4l4.3 0 0 9-.7 4-1.1 3-.5 1-1 .2-1-3.4-.3-7.8zM125.3 47.4l1.4 0-.4 3.3-.7 .7-.9-4zM155.5 47.4l2.1 0 .4 26-.1 36.1-.4 4.1-2 6.4-1 1.5-.6-3 0-25 1.1-15-.1-31.1zM196.6 47.4l.5 0 .5 13.8 1-.8 .1-1 0-12 1 0 .2 10-1.2 13 .1 12.1-.2 8.4-1 5-1-.8-.4-3.6 .9-19.1-.9-18-.1-7zM207.4 48.4l0 10 1.3 27.8 1 1.6 1-2.6 1-5.2 2.1-18.6 .2-14 .8 0 0 10-1.2 17-2.4 18.1-.1 6 .7 8-.3 7-.8 .7-.6-13.7-1.4-5.5-1.3-11.5-.7-27.1 .2-9 .6 0zM228.8 47.4l4.4 0-.4 6.2-.7 2.8-.3 .9-1-.7-1-2.2-1.1-4-.3-3zM263.9 47.4l.9 0-.1 20 .2 3.3 1 4.1 1-.6 1.2-4.8 .4-5-.1-17 1.4 0 0 21-1.8 11.1-.8 14-1.3 3.3-1-2.3-1.2-27.1zM278 125.1l0 2.8zM187.6 129.5l1-.6 1.1 1.7 .9 5 .4 7 .4 23-.8 7.7-1 2.2-1-.4-1-2.4-1.3-9.1-.6-21 .9-9.4zM188 138.6l-.5 1-.6 5 .2 17 .5 5.6 1.2 2.4 .8-.7 .3-1.3 .4-7-.7-17.3-1-5.2z"/><path fill="#ffd500" d="M197.6 47.4l1.1 0-.1 13-1 .8-.2-2.8-.3-11zM207.7 47.4l.5 0 0 11 1.5 15.2 1-1.4 2-10.2 .4-14.6 .9 0-.2 14-2 18.1-1.1 5.7-1 2.6-1-1.6-1.4-28.8zM264.9 47.4l3.5 0 0 19-.5 4.4-1 3.4-1 .6-1.1-5.4zM188.6 138.1l1 5.2 .7 18.3-.6 7-1.1 1.1-1-2.5-.3-2.6-.4-19 .7-6.8z"/><path fill="#ff6300" d="M208.7 47.4l.5 0 .3 12 .2 1.3 1 1 1.1-4.3 .1-10 1.2 0-.2 12-2.2 12.8-1 1.4-1.6-16.2 .1-10z"/><path fill="#f10000" d="M209.7 47.4l2.2 0-.1 10-1 4-1.1-.7-.4-3.3-.1-10z"/><path fill="none" stroke="#000" stroke-width="0.7" stroke-opacity="0.85" d="M45.6 47.4l.1 11 .3 2.8 1 2.8 1-.8 .6-3.8 .3-12M71.3 47.4l.2 11 .6 3.5 1 1.7 1-.9 .8-4.3 .2-11M91.6 47.4l0 10 1.4 4 1.2 1.5 1-.6 1-3.9 .1-11M106.8 47.4l-.3 7 .8 4.4 11 20.5 1.1-6.9 .2-25M186.3 47.4l2.3 9.4 .4 13.6 1.6 6 1 1.3 1-2 .7-6.3-.1-22M202.8 47.4l.9 2.5 .2-2.5M218.2 47.4l.3 13 1.9 9 .3 8.1 1 1.3 .9-3.3-.3-6.1 .8-11 .1-11M240.3 47.4l0 9 1.6 14 .2 13.1-.2 7-1.4 12 .2 16 .4 4 2.1 9.1 .3 5-.1 17-.9 12 .8 3 1.2 2 1.3 1.5 2 .8 1-.6 1.1-1.9 1-4.9-.4-17.9 .4-11-1-5-3.6-5.1-.8-5-.3-74.1M254.5 47.4l0 43.1-.7 29 .8 4 1.3 1 1-.7 1-2.8 2.7-18.5-.1-55.1M43 189.5l1.1-3.9 0-17 1.9-14-.9-4-2.1-1.2M286 255.8l-7 .5-3 1-1.4 1.5-3.7 7-2 1.3-6 .5-2.9 1.2-1.5 2-2.6 5.2-2 1.6-10.1 1-.9 1.2-1 5-1.1 2.5-1 1-2 0-2.4-2.5-1.6-4.6-1-1.5-9.1-1.8-8 0-2-.7-1-1-3-6.5-5-4.9-1.3-3-.4-5 .6-23.1-.8-5-2.4-3-4.8-2.2-3 .2-2 1.7-2.5 4.3-1.1 4 1 11.1-.4 13 .5 11-.8 5-1.7 2.6-2 .7-2-1.4-3-5.4-2.1-1.6-3-.1-.8 1.2-.4 2 0 108.2M97.3 380l.1-82.1-.5-6.1-1.4-3-2.3-1.2-2.9 .2-5.1 1.8-2-.6-1-.8-5.1-8.3-4-4.2-1.3-2.9-.6-3 0-5 1.1-4 1.1-2 4.4-5 5.8-10 .5-5.1-.7-3-1-2-6.3-7.3-2-1-1 .4-1 1.7-.5 2.2 0 9-.7 3.1-1.8 2.7-4 4.3-1.6 4-.3 4 .9 12-.3 3-1 3-1.5 2-3.5 3-2.9 6-1.9 2.2-3 .7-7-.8M164.3 380l-.1-106.2 1.4-4 1.9-1.6 3.1-1.4 .8-1 2.1-7.1 5.5-5.9 1-3 .2-3-.8-8.1-.8-2-1-1.1-3.1-1-10-.6-3 .4-2.2 1.3-1.4 2-2.4 5.3-4.3 4.8-3.8 6.6-2 1.5-3.7 .9-.3 .6-.2 11.4 .4 10-.4 4-1.7 4-4.9 5-1.4 5 .4 12.1-.1 71.1M144.4 64.3l-1.1 2.1-.5 4-.7 47.1 .3 4 1 2.5 1 1.2 .2-.7 3.3-15-.3-18 1.4-17.1-.3-6-.8-3-.5-1.1-1-.7zM203.7 66l-1 1.5-.4 5.9 .2 17.1 .2 2.3 1 1.5 .5-4.8 0-17.1-.5-6.4M71.1 91.5l-1.2 10 0 20-1.6 11.1-.3 7 .4 6 1.7 8.8 1 2.5 1-1.2 1-6 .2-17.1 1.9-12.1-.1-16-1-8.1-2-4.9zM96.2 125.8l-1 1.3-1 3.2-.6 7.3 .6 9.6 1 3.4 1 .2 2-4.8 .8-6.4-.8-9.9-1-3.4zM145.4 127.6l-.5 4-.3 21 .8 7.1 1 .5 1.2-5.6 .5-18-.7-4.9-2-4.1M110.3 130.5l-1.3 2.1-.6 3 .3 12-.7 14 .3 3.1 1 2.9 1 .4 1-.8 1.1-3.6-.2-12 1.6-10 .1-4-.4-4-.7-2-1.5-1.3zM264.9 131.5l-2 .7-1.3 1.4-.7 2.3-.2 3.7 .5 3 2.2 6 1.5 10.4 .9 2.6 1.1 .5 1-1.6 1.3-4.9 .4-4-.4-16-.3-3.2-1-1.4zM166.5 131.6l-.8 2 0 3 .8 3.3 1 1 .4-.3 .8-2 0-4-1.2-2.9zM201.7 137.2l-1.1 .6-.2 .8-1.1 7-2.6 10 0 16 .5 6 1.4 4.7 1 .7 3.1-1.3 1 .1 1 1.4 1.1 4.5 .7 11 5.2 12.6 1 1.4 1 .5 1.2-.5 1.1-2 .3-3-.6-5-1.1-6-2.4-9-.8-11.1-.7-2.2-3.2-4.8-1.2-3-.5-4 0-9-1.1-10-1-3.9-1-1.8-1-.7M84.2 149.5l-1.1 4.1-1.5 28 .6 7.1 1 3.2 1-.2 1-6.1 .4-28-.4-6.3zM128.4 157.2l-1.1 .5-2 3.1-1.1 4.8 .3 20 .8 5.3 .9 .8 1.1-1.7 .6-2.3 2-14.1-.4-12zM181.6 159.5l-.6 5.1 .3 14-.8 26.1 .5 4 .6 1.3 1.1 .7 1.2-1 .7-4-.8-10-.2-23.8-1-11.7zM171.5 162.3l-1 .4-.7 1.9-.5 6 .6 12-.2 13.1 .8 3.7 1 1 1-.4 1-2.3 .5-5-.9-12.1 .2-13-.8-4-1-1.3M231.8 168.5l-2 .8-1.2 2.3-2.3 17.1 .5 2.1 3.4 3.9 3.2 7 1.4 1.9 1-.1 1.3-3.8-.4-22.1-.4-4-.7-2-1.8-2.2zM156.5 171l-1.4 3.6-.8 6 .3 6.1 1.3 5 .6 .8 1-2.1 .6-6.8-.4-10-.2-1.3zM277 200.4l-1.6 2.3-2.9 8-1.6 2-2.6 2-.7 3-.4 8 .7 5 2 3.7 3 1.8 2.1-.4 1-.8 1.9-3.3 1.9-10 2.4-7-.1-7-1.1-5.1-1-1.8-1-.8zM135.4 214.2l-1 .6-1 1.7-.6 3.2 .2 21-.5 13.1-.6 2-3.5 5.4-1.2 4.6 .3 5 1.4 4 1.5 1.7 1 0 1-.8 1-2.2 .5-2.7-.1-10 .6-3 2-1.4 4-.3 .5-.3 .3-2 .2-33.1-.8-3-1.2-2-2-1.4zM250.9 217.5l-.8 1.2-.5 3 .2 18 1 3.1 1.1 1.3 2 .4 .8-.7 1-4.1-.1-8 .9-7-.1-3-.7-2-1.8-1.9-2-.6zM59.1 224.5l-2.7 2.2-.9 3 1 3 2.6 1.6 2-.5 1-1 1.1-2.1 .3-2-.4-2.9-.9-1.1-1.1-.4-2 .2M222.7 237.9l-1 .9-.6 1.9-.4 7.7 1 5.5 1 1.4 1 .4 1-.3 1.4-1.6 .5-4-1.9-9.4-1-1.9-1-.6M237.8 247.3l-3 3.5-1.2 5 .8 8 .1 11 1 2 2.3 .5 3.1-.5 1.2-2 .4-19-.2-4-1-3-1.5-1.8-2 .3M105.3 271.8l-1 1.7-.3 2.3 .3 1.2 1.1 .8 .9-.4 1-1.5 .3-2.1-1-2zM43.9 47.4l.8 39.1-.4 5-1.3 3.8M69.6 47.4l.6 21-2.2 9.1-.5 5 .6 36-1.2 22.1 1.3 19-.9 17-.2 12.1-1.1 10 0 11-.8 3-1.1 1.5-2 .8-4 .3-1 .7-5.1 9.3-.8 4.4 .5 4 1.3 3 2.5 4 1 3.1-.5 9 .1 9.2-1.1 2.9-4 3-1.6 1.9-2.9 7-1.5 1.5-2 .8M83.2 47.4l0 9 1 6.3 1 1.6 1 .3 2-1.1 1 0 1 1.1 1.2 2.8 .6 3 .2 10.4 1 2.4 1 .9 1 .1 1.7-1.7 .8-4 .8-31.1M103.5 47.4l-.1 9 .9 5 8 16.1 1.1 3 .3 3-.7 24 .3 13-1 3.1-3.5 2.9-1.3 2-1.1 5.1-.3 26 .5 10 .7 2.3 1 1.2 1 .3 2-1 1.8-2.8 1.2-5 .2-12 .8-3.1 1-1.6 1-.5 2 .8 2 1.4 1.5 2 .2 3-1.1 10 1 10 0 13.1 1 11-1.1 9 .7 3 3.6 6 1 5-.2 7-2 11 1.7 7.1 .1 4-1 4-3.2 8-.6 4 .3 4 2.1 10 .1 3-.6 2-1.5 1.7-2 1-3 .5-5-.9-2.4-2.3-.3-3 1.5-7 .1-4-1.3-4-2.4-2-2.2-.3-2 1-2.4 3.3-2.7 5.8-1 1.3-2 1.2-4 .5-3-.8-1.1-1-1-3-.1-30-.5-8.1-1.3-5.4-4.5-7.6-1.1-4 .8-2 3.8-3.7 1.3-4.3-.1-11 1-12.1 0-16 .6-14-.8-10-1-5-1-1.2-1 2.1-1.3 6.1-.6 18-1.4 14 1 16.1-.7 5-1.1 1.5-1 .1-1-1.1-4-11.5-.8-5.1 .5-17 2.2-15-.3-19 2.1-14.1-.4-19-1.4-14 .3-15.1 1.2-13 0-11M130.3 47.4l-1.2 73.1-1.4 7-1.4 2.3-1 .6-1 0-1.6-1.9-1.1-6-.5-75.1M161.1 47.4l.1 11 .3 2.6 1 2.7 1-1.6 .4-2.7 .1-12M171.2 47.4l.2 12 3.3 14 .8 1.5 1 .3 2.1-1 3-9.6 3-2.8 1 .3 1.4 9.3 1.9 8.1 .7 9 1 2.2 1-.9 1-3.9 1.3-10.4 .4-8.1-.3-20M201.7 47.4l.8 10-1.2 16 .1 18.1 .6 17-1.1 16-1.1 3-3.1 5.1-.7 3 .2 8-1.2 10-.2 8 .3 13 1.3 14.1-1.8 10 .4 12-1.4 3.4-5 3.7-4 6.5-1 1-2 .8-6.1-1.4-12 .9-6-.9-5-.2-2.1-.8-1-1.5-.4-2.5 .4-2 3.3-5 2-8 2.8-3.7 1.2-5.3 .8-9 .1-11.1-.8-10-1.3-4.7-1 .3-1 3.1-2.9 13.3-.1 7 1.2 13.1-.2 3-.5 1-1.6 .2-1.5-1.2-3.5-8.4-1-1.6-2-1-2 1.4-4 9.8-2 2.3-2 .7-2-.7-1.2-1.5-.9-3 .2-8 2.5-16.1-.3-12 .2-35.1 .8-18 0-15 1.7-16 0-9.1 1-4.7 1-1.6 1-.3 .8 .6 1 2 .4 3 .8 23.1-.2 27 .4 4 2 7 .6 4.1 0 20 .6 10 1.3 5 .3 .8 1 .3 1-2.3 1-5.8 .7-7 .5-18-2.1-15.1 2.2-13-.3-16 1.5-17-.4-28.1M217.2 47.4l0 11 .7 12-.2 11.1 1 3.5 1 1.1 2 .9 1-.4 1-1.3 1-5.1-.2-32.8M238.6 47.4l.1 10 1.6 14-.1 19.1-1.8 11-.9 11-.9 2-2.8 1.4-1.7 1.6-.6 4 .6 4 1.1 2 1.6 .7 3-1.5 1 .5 1.5 3.4 .9 6-.3 18-1.1 4.7-1 1.6-1 .7-7-1-3 .9-1 1.3-.7 2.8-1.1 12-2.9 9.1-.4 12-1 3.4-1 1-1-.6-1-2.4-1-4.4-1.2-9 .6-7.1-.3-3-4.6-12-.1-10-.5-2-2.9-5.6-2.2-14.4-.8-26.1 .6-14-.1-22.1-.9-12 .7-11M253.4 47.4l.1 41.1-.8 35 .4 3 .8 1 3 .5 1.8-.5 .3-1 .9-9 1.9-12-.4-58.1M274.4 47.4l-.1 8 .5 5 1.2 3.3 1 1.1 1 .3 1-.2 1.9-1.5 1.7-3 .7-5-.1-8M43 194.8l1.4-2.1 .8-3 .8-20.1 1-5 2.6-8 1-7-1.3-21.1-.2-56.1 .8-14 .1-11M286 212.6l-1.3-3.9-1.8-13-.9-2.2-2-1.5-3 .3-2 1.9-4.1 8.9-1 .7-3-1.1-1 0-1 1.1-1.1 4.9-1.2 16 2.4 16-1.1 2.8-2 .9-1-.5-1-1.7-.8-4.5-.1-5 1.2-9-.5-3-2.2-4-4.6-4.7-1.4-3.3-.5-5 .5-13-.2-11.1 1.3-16-.5-30-.5-4.1-3.7-4-1.1-5 .3-15-.6-16-.1-42.1M286 246.4l-2-.5-1.8-1.1-1-2-.2-2.1 2.1-11 .9-2.2 2-2M59.1 95.2l-1.2 1.3-1.1 7 0 18 1.3 5.7 1-.7 .3-1 1-6-.2-19-1.1-5.3M93.2 97.4l-.9 2.1-.2 2 1.6 15-1.4 17.1 .3 14 .8 6 1.8 6.7 1 1.8 1-1 .5-2.5 3.4-15 .1-13 1.4-11.1 0-5-1.1-5-4.8-11-1.5-1.7-1-.1zM270.9 105.5l-1 1.7-.9 4.3-.5 10-1.1 4-2.5 2.6-5 .9-.7 3.6-.2 8 .4 4 2.8 8 2.7 15.7 1 2.2 1 .5 1-1.5 2-7 1.4-8.9 .1-24.1 1-18-.5-4.8-1-1.2M165.5 127.8l-1 1.5-.4 2.3 .6 9 .8 3.3 2 4.3 1 .9 1-.5 1-2.7 .3-2.3-.9-11-1.4-3.7-1-.9zM181.6 149.6l-1 2.4-.8 6.6 .1 18-1 12.1-.3 18 .4 4 1 3 1.6 1.7 2 .4 2-.9 .6-1.2 .4-5-1.1-11 0-15.1-1.8-24-1.1-7.3zM170.5 156.2l-1 .5-.7 1.9-.9 6 .1 33.1 .5 4.5 1 2.5 1 .8 1 .2 1.6-1 1.2-2 .9-3 .7-9-1.3-12.1-.4-15-1.7-5.3zM97.2 199.2l-1 2.7 0 6.8 1 3.6 1 1.3 1 .2 1.4-2.1 .4-5-.8-3.6-1-2.1-1-1.3zM228.8 202.2l1 .7 2 4.8 2.4 11 0 9 .7 9-1 4-2.1 2.9-1 .4-1-.6-1-2-2.6-13.7 .2-20 .9-4 .5-1zM114.3 217.6l-1 .3-1 1.8-.5 5 .5 4.3 1 2.5 1 .9 1-.3 .9-2.4 .5-6-.5-4-.9-1.6zM213.7 236.7l1 .4 1.2 1.6 .8 3.1 .3 4-.3 4-.7 3-1.3 1.9-1 .5-2-.6-.9-1.8-.8-7 .3-4 .7-3.1 .7-1.2zM68 47.4l-.2 17-2 9-.4 5.1 .7 24-.2 40.1 .8 16-.4 8-1.3 11-.2 10.1-.7 3.3-4 11.5-1 .8-1 .1-4.1-.7-1.4 1-1.1 2-.7 3-.4 9-2.3 13-.1 7 .6 8.1-.4 5-1.7 4-1.5 1.2-2 .6M81.3 47.4l.1 12 1.1 12-.1 24.1 .3 6 .7 3 1.3 2 .5 .3 3-1 1 .4 1.1 2.3 .9 5.4-.5 17.7 .2 15 .5 6 2 10 .5 5-.5 41.1 1.3 12 0 8 1.4 4 2.1 1.8 2-.5 1.7-3.3 .4-3-.1-7 1.2-12-.5-6-1.6-8 .3-7 .9-4.1 .7-1.4 1.1-.6 1 .1 1.1 .9 1.2 4.1 .5 28-.2 12 2 14-1.3 3.1-3.3 2.5-1.8 2.5-.6 3 .3 8-2 4-2 2.4-1 .5-1 0-1-.7-1.1-2.2-.4-12-.7-2-3.8-7-1.5-13.1-2-9 1.3-9-1.1-15 .6-12.1 0-17 1.1-15-2.1-21-1.3-3-1 .3-1 2.8-2.6 11.9-.5 6 0 13-1 7.9-2 5.2-1-.9-.9-5.2 0-5 1.8-14-1-17 2.5-15.1-1.2-32 .7-39.1M129.1 47.4l-.6 15-.1 26.1-1.5 17 .5 14-.8 4-1.3 1.7-1-.7-.3-1-.7-4 .6-14-1.2-15 0-30.1-.5-13M159.9 47.4l0 11 1.2 15-.1 36.1-.8 12 2.2 9.1 .8 13 2.3 13 .5 8 0 32.1-.5 4-1 1.9-1 .6-1-.1-1-1-.8-3.4 .4-16.1-.3-16-.8-10-1.4-6-1.1-1.4-1 .5-1 2.4-2 11.9-2.1 6.6-1 .1-.4-3.1 1-31-1.9-14.1 2-14-.3-16 1.5-16-.1-29.1M169.2 47.4l.1 11 1.4 11-.3 10.1 .9 4 1.2 1.8 1 .4 5.1-1.6 6 2 2.5 9.4 1.5 2.3 2 1.2 1.1-.5 1.2-3 1.7-17 .5-10.1-.4-21M201 47.4l.4 11-.9 13-.4 45.1-1 6-4 7-1.3 5.1-.3 35 .6 16-2.2 11.1-1.1 8-1.2 1.5-1-1.1-1-3-.6-4.4-.1-13.1-1.6-15-1.9-24 .2-10-.3-3-.7-1.9-1-.8-1-.1-1 .8-.8 3 .1 12-.6 15 .3 14-1 6-1.1-1-.3-2-.5-14-2-10-.3-10-2.5-14.1-1.1-3-3.6-3-1.3-3 .8-13-.5-33.1 .7-27M216.4 47.4l.1 23-1.6 19.1 2.2 10 0 18 .4 5 .7 2 2.7 3 1.1 2 .9 6.1-.1 8-1.1 13 .3 12-.3 2.2-1 1.2-1-.3-2-2-1.6-3.1-.7-3-.8-31-.9-2-4-1.9-1-1.5-1.8-8.7-.6-8-.4-41.1-.6-11 .4-11M236.9 47.4l.2 10 1.4 13-.6 10.1 .2 9-3 16-1 2-1.3 .7-2-.4-2-1.5-1.6-2.8-.7-3 0-37.1-.8-16M252.4 47.4l0 42.1-1.3 16 .2 15-.4 2.7-1 .9-1.3-1.6-.6-4 .7-13-1.1-16-.2-42.1M272.6 47.4l0 10 .9 12-1.5 9.1-.1 4 1 2.7 3.1 .3 1 1 2.9 7 2.6 5 .6 3 .1 10 1 3 1.8 2.4M286 181.6l-4 1-2-1.1-1-2-1.8-7.9-1.2-1.6-2.4-1.4-1-2 .5-38.1 1.6-20-.4-6-1.4-5.7-1-1.5-1 .9-3 10.3-1 5-.2 9-.8 2.9-1 1.3-2 .3-1-.9-.5-1.6 0-4 1.6-8 .2-3-.7-17-.3-43.1M43 201.8l2-2.7 1.5-4.4 .6-6 .3-14.1 .6-3.9 1-2.3 1-.8 1 .2 3 3.8 2.1 1.1 1-.3 1-1 1-2.6 .6-7.2-.2-26 3-16.1-.6-26-1.3-6-.5-1.1-1-.5-1 1.5-1 3.4-2.4 11.7 .6 32.1-1.3 3.4-1 0-1.2-3.4-.5-6.1 .1-25-.8-14 .2-42.1M136.4 85.3l1 .4 1 3.9-.1 17.9 .5 11 .8 6 2.4 10.1 0 28 1.2 14-.8 4-3 4.9-3.1 7.2-1.9 2-1 .1-1-1.3-.4-2.8 .4-4.5 1.9-8.6-1.1-14 .2-39.1 1.5-16-.2-16 .7-5zM254.9 131.5l1 .1 1.3 2 .3 12 3.9 11 2.6 21-.3 14.1-1.7 8-.8 10-1.3 3-1 .4-1-.3-2.7-2.1-1.3-2.3-.7-3.7 .7-12 .3-28.1-.7-28 .4-3.6zM117.3 166.5l1-.3 1 1.6 1.9 6.8 .6 21.1-.5 4.1-3 10.7-1 1.3-1 .2-2-1.3-1.3-4 .8-15-1.2-12.1 .6-3zM120.3 217.6l1-.4 1 .6 1 1.3 .9 2.6 0 5-1.4 4-1.5 1.2-1-.8-.6-2.4-.3-6zM120.3 246.7l1 .3 1 1.1 .9 2.7-.9 3.9-2 1.9-1-.3-1-1.5-.6-3 .6-3.4 1-1.4zM65.9 47.4l0 9-.8 5.2-1 1.5-1 .2-3-1.5-1 .8-1.5 3.8-.9 5 0 8.1-.6 6.1-2.1 8.6-1 .5-1-6.2 .5-15.1-.7-13-.1-13M128.1 47.4l-1.2 15 .1 26.1-.7 5.2-1 1.4-1-3.1-.2-2.5 .1-29.1-1-13M158.8 47.4l.8 25-.1 35.1-1.5 16 .4 3 2.1 6 .2 2.1-.2 4.2-1 1.3-3-.5-2 .4-.4-.4-.6-1.6-2.7-14.5 1.6-14-.2-17 1.3-16 0-29.1M200.4 47.4l.3 11-.9 13-.1 18.1-1 25-1.1 5.8-4.2 6.2-1.1 4.1 .1 34-.5 16-.7 5-.6 1.8-1 .2-3-14.1-.9-6.9-1.1-21 .3-15-1.3-3.8-2.9-3.3-.6-3 .8-3 3.7-4.5 2.1-6.5 .9-1 1 0 3 1.1 1-.5 1.5-3.6 1.8-30.1-.5-25M215.6 47.4l-.2 21-2.4 22.1 .3 4 1.6 8 .2 18-.4 3.5-1 1.2-1 .2-2-1.2-1-1.7-1.1-4-.8-6-.2-12-1-18 0-13.1-.6-12 .3-10M235.2 47.4l.7 22-4.1 13.5-1 1.9-1 .2-1.1-1.5-.8-5 .4-17.1-1.4-14M251.1 47.4l.2 40.1-.4 5.4-1 2.1-1.2-6.5 0-41.1M271.1 47.4l.3 20-1.7 12.1-.3 12-1.5 7.8-2 5-1-.6-.3-1.2-1.1-9-.6-46.1M43 213.6l1 .4 1.3 1.7 .7 5-1 9.8-1 2.8-1 1.2M278 113.3l1 .7 2.8 5.5 1.3 4 .4 3-.6 11.1 .3 16-1 4-2.2 3.2-2 1.1-1 0-1-.7-1-2.6-.4-4 .3-32.1 1.1-6.2 1-2.3zM136.4 117.7l1 2.7 3.2 16.2-.5 29-.5 5-.8 2-.4 .4-1-.3-1-1.6-1-3.1-.5-4.4 0-39.1 .5-5zM80.2 126.7l.6 2.8-.2 5.1-1.5 4.3-.6-.3-.8-3 .2-4 1.2-3.9zM63.1 128.9l1 .3 .4 3.4 .7 27-.6 7-.5 2.5-.9 1.5-.1 .3-1-.7-.5-3.6-.3-27 .4-6zM217.7 131l1-.3 1 .7 1.3 4.2-.1 7-1.4 5-.8 .7-1-1.3-.8-4.4-.1-7zM257.9 154.5l1 1 1 2.3 .7 3.8 1.2 18-.3 8.1-.6 2.4-1.6 2.6-.4 .4-1 0-.7-1.4-.9-6.1-.3-26 .9-4.9zM90.2 159.9l1.3 2.7 .7 6.4-.3 25.7-.6 6-.8 2-.3 .4-1-1.3-.8-6.1 .3-28.1 .5-5.3zM118.3 179.6l0 4.2zM256.9 203.1l.7 1.6-.7 .8zM57.3 47.4l.1 7-.3 4-1.6 5-.5 1-1 .2-1.1-5.2-.1-12M126.7 47.4l-.4 3.3-1 .9-.6-4.2M157.6 47.4l.3 62.1-.4 4.1-1 3.8-2 4.1-.6-3 0-24 1.1-17-.1-30.1M199.7 47.4l.2 10-1.2 14 0 18.1-1.1 6.4-1-.8-.5-4.6 1-18.1-1-25M214.8 47.4l-.4 19-3.3 28.1 0 4 .7 6-.2 8-.1 1-.8 .7-.6-13.7-1.4-5.5-1.3-10.5-.7-27.1 .2-10M233.2 47.4l-.4 6.2-1 3.7-1-.7-1-2.2-1-3.5-.4-3.5M269.8 47.4l0 21-1.8 11.1-.6 13-.5 2.5-1 1.8-1-2.3-.3-4 0-10-.9-13.1 0-20M278 125.1l0 2.8zM187.6 129.5l1-.6 1.1 1.7 .9 5 .4 7 .4 23-.8 7.7-1 2.2-1-.4-1-2.4-1.3-9.1-.6-21 .9-9.4zM198.7 47.4l0 12-.1 1-1 .8-.5-13.8M214 47.4l-.4 16-1.9 16.6-1 5.2-1 2.6-1-1.6-.5-4.7-.1-12.1-.8-12 .2-10M268.4 47.4l0 20-1.5 6.8-1 .6-1-4.1-.2-3.3 .1-20M188.6 138.1l1 5.2 .7 18.3-.6 7-1.1 1.1-1-2.5-.3-2.6-.4-19 .7-6.8zM213.1 47.4l-.4 14.6-2 10.2-1 1.4-1.5-15.2 0-11M211.9 47.4l-.1 10-1.1 4.3-1-1-.3-2.3-.2-11"/></g><clipPath id="cab"><rect x="43" y="300" width="243" height="80"/></clipPath><g clip-path="url(#cab)"><rect x="43" y="300" width="243" height="80" fill="#000094"/><path d="M96 297 L127 297 L131 304 L138 311 L147 314.5 L154 312 L159 305 L161 297 L176 297 L186 303 L200.6 308.5 L206 318 L212 323.5 L222 322.7 L224 312 L228 305 L236 303 L245 308 L257.6 314.5 L272 313 L279 307.5 L283 310 L284.5 318 L286.5 323 L286.5 355 L270 356.5 L245 357.5 L225 356 L205 352.5 L190 350.5 L175 352 L165 356 L150 360 L125 363 L100 364 L70 364.2 L42.5 363.5 L42.5 339.6 L60 340 L80 340.3 L90 338 L94 332 L95.5 318 L96 300Z" fill="#0000f1" stroke="#000" stroke-width="0.8" stroke-opacity="0.85"/><ellipse cx="82" cy="348.6" rx="15" ry="2.9" fill="#0063ff" stroke="#000" stroke-width="0.8" stroke-opacity="0.85"/><ellipse cx="170.5" cy="310.5" rx="8.2" ry="9.5" fill="#0063ff" stroke="#000" stroke-width="0.8" stroke-opacity="0.85"/><ellipse cx="113" cy="304.5" rx="7" ry="8.5" fill="#000094" stroke="#000" stroke-width="0.8" stroke-opacity="0.85"/><ellipse cx="126" cy="305" rx="6.5" ry="9" fill="#000094" stroke="#000" stroke-width="0.8" stroke-opacity="0.85"/><ellipse cx="121" cy="321" rx="9" ry="12.5" fill="#000094" stroke="#000" stroke-width="0.8" stroke-opacity="0.85"/><ellipse cx="113" cy="304.5" rx="7" ry="8.5" fill="#000094"/><ellipse cx="126" cy="305" rx="6.5" ry="9" fill="#000094"/><ellipse cx="121" cy="321" rx="9" ry="12.5" fill="#000094"/><ellipse cx="152.5" cy="325.8" rx="9" ry="6.8" fill="#000094" stroke="#000" stroke-width="0.8" stroke-opacity="0.85"/><ellipse cx="190.8" cy="325.8" rx="9.8" ry="5.8" fill="#000094" stroke="#000" stroke-width="0.8" stroke-opacity="0.85"/><ellipse cx="230" cy="335.6" rx="11.6" ry="4.9" fill="#000094" stroke="#000" stroke-width="0.8" stroke-opacity="0.85"/><ellipse cx="268.5" cy="332" rx="18" ry="6.5" fill="#000094" stroke="#000" stroke-width="0.8" stroke-opacity="0.85"/><ellipse cx="142" cy="346.8" rx="22" ry="4.2" fill="#000094" stroke="#000" stroke-width="0.8" stroke-opacity="0.85"/><ellipse cx="66" cy="359.7" rx="19" ry="3.6" fill="#000094" stroke="#000" stroke-width="0.8" stroke-opacity="0.85"/><ellipse cx="107" cy="357.5" rx="16" ry="4.2" fill="#000094" stroke="#000" stroke-width="0.8" stroke-opacity="0.85"/><ellipse cx="238.8" cy="348.1" rx="6.2" ry="1.4" fill="#000094" stroke="#000" stroke-width="0.8" stroke-opacity="0.85"/><ellipse cx="276" cy="351" rx="10.5" ry="3.6" fill="#000094" stroke="#000" stroke-width="0.8" stroke-opacity="0.85"/><ellipse cx="222" cy="362.8" rx="16" ry="1.6" fill="#0000f1" stroke="#000" stroke-width="0.8" stroke-opacity="0.85"/></g><rect x="43" y="377.6" width="243" height="2.6" fill="#000"/>
<rect x="292" y="47.4" width="14" height="332.6" fill="url(#jg)"/>
<text transform="translate(39.9,384.9) scale(0.6,1)" font-size="13.4" text-anchor="end" fill="#474747" font-family="DejaVu Sans, sans-serif">0</text>
<text transform="translate(39.9,351.65) scale(0.6,1)" font-size="13.4" text-anchor="end" fill="#474747" font-family="DejaVu Sans, sans-serif">0.05</text>
<text transform="translate(39.9,318.4) scale(0.6,1)" font-size="13.4" text-anchor="end" fill="#474747" font-family="DejaVu Sans, sans-serif">0.1</text>
<text transform="translate(39.9,285.15) scale(0.6,1)" font-size="13.4" text-anchor="end" fill="#474747" font-family="DejaVu Sans, sans-serif">0.15</text>
<text transform="translate(39.9,251.9) scale(0.6,1)" font-size="13.4" text-anchor="end" fill="#474747" font-family="DejaVu Sans, sans-serif">0.2</text>
<text transform="translate(39.9,218.65) scale(0.6,1)" font-size="13.4" text-anchor="end" fill="#474747" font-family="DejaVu Sans, sans-serif">0.25</text>
<text transform="translate(39.9,185.4) scale(0.6,1)" font-size="13.4" text-anchor="end" fill="#474747" font-family="DejaVu Sans, sans-serif">0.3</text>
<text transform="translate(39.9,152.15) scale(0.6,1)" font-size="13.4" text-anchor="end" fill="#474747" font-family="DejaVu Sans, sans-serif">0.35</text>
<text transform="translate(39.9,118.9) scale(0.6,1)" font-size="13.4" text-anchor="end" fill="#474747" font-family="DejaVu Sans, sans-serif">0.4</text>
<text transform="translate(39.9,85.65) scale(0.6,1)" font-size="13.4" text-anchor="end" fill="#474747" font-family="DejaVu Sans, sans-serif">0.45</text>
<text transform="translate(39.9,52.4) scale(0.6,1)" font-size="13.4" text-anchor="end" fill="#474747" font-family="DejaVu Sans, sans-serif">0.5</text>
<text transform="translate(93.4,397) scale(0.635,1)" font-size="12.5" text-anchor="middle" fill="#474747" font-family="DejaVu Sans, sans-serif">50</text>
<text transform="translate(146,397) scale(0.635,1)" font-size="12.5" text-anchor="middle" fill="#474747" font-family="DejaVu Sans, sans-serif">100</text>
<text transform="translate(198.6,397) scale(0.635,1)" font-size="12.5" text-anchor="middle" fill="#474747" font-family="DejaVu Sans, sans-serif">150</text>
<text transform="translate(251.2,397) scale(0.635,1)" font-size="12.5" text-anchor="middle" fill="#474747" font-family="DejaVu Sans, sans-serif">200</text>
<text transform="translate(164.2,415.5) scale(0.68,1)" font-size="12.6" text-anchor="middle" fill="#474747" font-family="DejaVu Sans, sans-serif">Time</text>
<text transform="translate(14.9,213) rotate(-90) scale(1,0.58)" font-size="14.4" text-anchor="middle" fill="#474747" font-family="DejaVu Sans, sans-serif">Frequency</text>
<text transform="translate(308.4,347.5) scale(0.62,1)" font-size="12.4" text-anchor="start" fill="#474747" font-family="DejaVu Sans, sans-serif">0.005</text>
<text transform="translate(308.4,310.6) scale(0.62,1)" font-size="12.4" text-anchor="start" fill="#474747" font-family="DejaVu Sans, sans-serif">0.01</text>
<text transform="translate(308.4,273.7) scale(0.62,1)" font-size="12.4" text-anchor="start" fill="#474747" font-family="DejaVu Sans, sans-serif">0.015</text>
<text transform="translate(308.4,236.8) scale(0.62,1)" font-size="12.4" text-anchor="start" fill="#474747" font-family="DejaVu Sans, sans-serif">0.02</text>
<text transform="translate(308.4,199.9) scale(0.62,1)" font-size="12.4" text-anchor="start" fill="#474747" font-family="DejaVu Sans, sans-serif">0.025</text>
<text transform="translate(308.4,163) scale(0.62,1)" font-size="12.4" text-anchor="start" fill="#474747" font-family="DejaVu Sans, sans-serif">0.03</text>
<text transform="translate(308.4,126.1) scale(0.62,1)" font-size="12.4" text-anchor="start" fill="#474747" font-family="DejaVu Sans, sans-serif">0.035</text>
<text transform="translate(308.4,89.2) scale(0.62,1)" font-size="12.4" text-anchor="start" fill="#474747" font-family="DejaVu Sans, sans-serif">0.04</text>
<text transform="translate(308.4,52.3) scale(0.62,1)" font-size="12.4" text-anchor="start" fill="#474747" font-family="DejaVu Sans, sans-serif">0.045</text>
<text x="528" y="21.2" font-size="26" font-weight="bold" font-family="Liberation Serif, serif" text-anchor="middle" fill="#000">B</text>
<text x="369" y="45" font-size="12.3" fill="#303030" font-weight="bold" font-family="DejaVu Sans, sans-serif" textLength="287.5" lengthAdjust="spacingAndGlyphs" text-anchor="start">Masked Time-Frequency Plot for Frequencies around 0.128</text>
<rect x="384" y="51.4" width="257.6" height="326.3" fill="#000094"/>
<clipPath id="cb"><rect x="384" y="286.8" width="257.6" height="12.399999999999977"/></clipPath><g clip-path="url(#cb)"><path fill="#0000e6" d="M385.5 286.8l5 0 .5 2.1 2.5 1.5 1 2.1 2 .4 4-.2 .5-.4 .4-.9-.4-1.1-2-.9-1.2-1-.5-1.6 5 0 .2 1.6 2.5 1.3 1 1.2-.3 1.6-1.7 1.3-1 .6-.3 .7-.2 4.1-5.4 0-.2-1-.9-.6-1 .6-.1 1-5.8 0-.1-1-1-.6-1 .6-.1 1-2.9 0 0-3.1 1-.4 .3-.6-.3-1.1-1-.4 0-4.9 .8-.3 .3-1.6zM387.2 290.4l-.6 1 .4 .8 1 .4 1-.2 .6-1-.5-1-1.1-.3zM391.6 293.5l-.8 .5-.1 1.1 .8 .8 1 0 .9-.8-.1-1.1-.7-.5zM494 290.8l.7 .1 .5 .5-.7 1.3-.5 .2-.5-.9-.1-.6zM541.1 291.4l.6 .6 .7 2.6-.3 .6-1 .5-1-.5-.4-.6 .7-2.6zM581.1 291.4l.6 0-.1 1.2-.6-.6zM611.6 296.6l1-.1 1.6 1.7 .2 1-1.3 0-3 0 .5-1.6zM407 296.8l1-.2 1.3 1 .5 1.6-1.3 0-2.8 0 .3-1.4zM603.6 297l1 0 1.3 1.2 .2 1-1.5 0-2.5 0 .2-1z"/><path fill="#004dff" d="M384.5 286.8l.6 0-.3 1.6-.8 .3 0-1.9zM391 286.8l6.3 0 .1 1 .6 .8 3.1 1.8 .3 1-.6 1.1-.8 .3-3 .1-2.5-.4-1-2.1-2.5-1.5-.5-2.1zM402.5 286.8l15.4 0 .1 1 .7 1.1 1.3 1 1 .2 1-.4 .9-.8 .5-1.1 .1-1 10.7 0 1.6 12.4-2.8 0-23.2 0-.2-1-.6-.9-1.5-.7-1.4 1-.4 1.6-3.2 0 .4-4.6 2.4-1.6 .8-1.6-.9-1.5-2.7-1.5-.2-1.6zM491.5 286.8l5.3 0 1.3 4.6-.7 3.2-1.3 1.5-1.6 .8-1-.1-2.1-2.2-1.1-3.2 1-4.6zM493.8 290.9l-.4 .5 .1 .6 .5 .9 .7-.4 .5-1.1-.7-.6zM596.1 286.8l24.2 0 .6 12.4-6.3 0-1-1.9-1.5-.9-1.5 1.2-.5 1.6-4 0-.6-1.6-1.4-.7-1.4 .7-.6 1.6-6.9 0 .3-8.3 .4-4.1zM579.6 288l2.5 .6 1.2 2.3-.1 4.2-.6 1-1 .5-2.5-.8-.8-1.2-.2-3.7 .7-2zM581 291.4l.1 .8 .5 .3 .1-1.1zM540.6 289.3l1.5 .2 2 1.4 .6 3.1-.1 1.1-.5 1-2.8 2.1-.7 0-2-1.2-1-1.3-.4-1.1 .4-3.2 1-1zM540.9 291.4l-.5 .6-.7 2.6 .9 1 .9 0 .7-.5 .1-1.1-.6-2zM559.1 289.4l1-.2 1.5 1.3 .6 .9 .6 2.6-.2 1.1-.5 .5-2 1.1-2.5-.4-.8-.7-.4-1 .7-3.8 .5-.6zM387.5 290.2l1 0 1 .7-.1 1.1-.7 .5-1.2 0-.7-.5-.1-1.1zM392 293.5l1 .2 .4 .9-.3 1-1.1 .4-1.1-.4-.3-1 .4-.8zM384.5 293.7l.5 .3 .3 1.1-.8 .9-.5 .1 0-2.5zM388 297.6l1 .6 .1 1-1.1 0-1.1 0 .1-1zM396 297.6l.9 .6 .2 1-1.1 0-1.1 0 .1-1z"/><path fill="#00b3ff" d="M418 286.8l5.5 0-.1 1-.9 1.5-1.5 .8-1-.2-1.8-1.5zM434.5 286.8l1.6 0 .4 2.6 2.2 8.2 .2 1.6-.4 0-2.7 0-1.5-10.8-.1-1.6zM489 286.8l2.3 0-1 4.1 .1 1.1 1.3 3.1 1.3 1.3 1 .5 1-.2 1.5-.9 1.1-1.8 .5-3.1-1.2-3.1-.1-1 2.3 0 0 1 .5 4.2-.3 3.1-.8 2-1.3 1.6-.1 .5-5.2 0-.4-1-1.9-2.1-.6-2.1-.5-2.5zM538.6 286.8l5.4 0 .3 1 1.5 2.1 .5 4.1-.3 2.6-1.1 2.6-2.3 0-6 0-1.2-4.1-.5-3.7 1.2-2 1.7-1.6 .3-1zM540.2 289.4l-1.6 1-1 1-.3 3.7 .8 1.4 1 .9 1.5 .8 1-.1 2-1.5 1-1.3-.1-3.3-.4-1.1-1.2-1-1.3-.6zM555.6 286.8l8.3 0 .1 1 1.2 3.6 0 3.2-.5 2-1.2 1.6-.4 1-6.9 0-1-2.6-.3-2 0-3.7zM559 289.4l-1.4 .8-.6 .7-.4 2-.1 2.2 1.1 1.2 2 .4 .8-.1 2.2-1.5 0-2.1-.4-1.6-1.1-1.4-1-.8zM577.6 286.8l6.3 0 .8 4.6-.2 3.2-.4 2.2-1 1.8-.2 .6-3.7 0-1.8-2.1-.6-2-.1-3.7 .5-4.6zM579.2 288.4l-.6 1-.5 2 .4 3.7 1.1 1 1.5 .5 1-.1 .8-.9 .4-1 .1-3.2-.2-1-.6-1.2-1-.9-1.5-.3zM594.1 286.8l1.8 0-.8 12.4-1.8 0zM620.6 286.8l1.8 0 .1 12.4-.4 0-1.2 0-.6-11.4 0-1zM628.6 286.8l12.2 0-.4 1.6-.8 .8-4 1.1-4.5-.2-1.5-.6-1-1-.4-1.7zM630.1 297.1l2-.5 3.5 .3 1.1 .7 .6 1.1 .1 .5-1.3 0-7.5 0 .2-1z"/><path fill="#1affe5" d="M436.5 286.8l2 0 .2 1.6 1.3 4.5 2.7 5.3 .2 1-.4 0-3.6 0-.7-4.1-1.9-6.7-.2-1.6zM484 286.8l5 0-.5 4.6 .5 2.6 .6 2.1 1.9 2.1 .4 1-2.4 0-8.3 0 .6-3.6 1.2-4.2 .6-4.6zM499.5 286.8l5.4 0-.4 4.6-1.7 4.2-.8 3.6-4.9 0 .1-.5 1.3-1.7 .8-1.9 .4-3.7-.6-4.6zM526.6 286.8l11.5 0-.3 1-1.7 1.6-1.2 2 .9 5.2 .8 2.6-7.4 0-.1-4.6-1-3.7-1.8-3.1-.1-1zM544.1 286.8l11.5 0-.7 4.1 0 3.7 .3 2 1 2.6-1.1 0-10.2 0 1.3-3.6 0-3.6-.6-2.6-1.3-1.6zM564.1 286.8l4.8 0 .2 1 1 1.1 1.5 .8 1.5 .3 1.5-1.1 .5-2.1 2.1 0-.5 4.6 .1 3.7 .6 2 1.2 1.3 .6 .8-16.1 0 1.6-2.6 .5-2 0-3.2-1.2-3.6zM584.1 286.8l9.8 0-.6 12.4-1.7 0-8.7 0 1.2-2.4 .4-1.7 .2-3.7-.7-3.6zM622.6 286.8l5.6 0 .3 1.6 1.6 1.4 1.5 .4 3 .1 4.5-.8 1.3-1.1 .4-1.6 .8 0 0 11.9 0 .5-4.2 0-.3-1.1-1.5-1.2-3.5-.3-1.5 .2-1 .6-.8 .8-.2 1-6.1 0-.2-7.8 .1-4.6z"/><path fill="#80ff80" d="M439 286.8l2.5 0 1 4.6 2.4 4.2 1.1 2.6 0 1-3.1 0-.2-1-1.7-3-1.3-3.2-1.1-4.2-.1-1zM481 286.8l2.6 0-.7 5.2-1 3.1-.9 4.1-2.9 0 2.4-7.8zM505 286.8l4.2 0-.1 1-3.1 6.8-.7 3.6-.1 1-3.2 0 .8-3.6 1.7-4.2zM522.6 286.8l3.6 0 .1 1 1.5 2.6 1.2 3.6 .1 5.2-2.9 0-.2-4.6-1.1-2.6-2.6-4.2-.1-1zM569.1 286.8l6 0-.2 1.6-.8 1.1-1.5 .5-1.7-.6-1.8-1.6z"/><path fill="#e5ff1a" d="M441.5 286.8l2.7 0 .2 1.6 .9 2.5 2.2 3.1 4.5 2.5 4 .2 1.5 .5 2 1 .6 .5 .1 .5-.2 0-13.9 0-.1-1-1.1-2.6-2.4-4.2zM479 286.8l2 0-.4 4.1-2.5 8.3-1.1 0-1.5 0 0-.5 2.5-7.3 .5-4.6zM509.5 286.8l12.7 0 .1 1 2.8 4.4 1 2.9 .1 4.1-2.1 0-.2-4.6-1.3-2.1-2.3-2.6-3.2-2-1.5 .2-2.5 1-2.6 1.9-1.5 2.2-.8 1.9-.6 4.1-2.4 0 .8-4.6 3.1-6.8 .1-1z"/><path fill="#ffb300" d="M444.5 286.8l2.1 0 .1 1 .8 1.3 2.9 2.3 1.6 .7 2-.5 5-3.2 1-.2 1.6 2.2 .8 3.1 .6 .9 4.5 1.8 4 1 1.5-.8 1.8-1.8 1-3.7 .4-4.1 .8 0 1.5 0 0 1.6-.5 3-2.5 7.8-15.3 0-.7-1-3-1.4-4.5-.3-4.5-2.5-1-1-2-4.1-.3-2.1zM515.1 288.2l2-.3 1.5 .7 2 1.5 2.4 2.9 1 2.1 .1 4.1-2 0-.2-3.6-.3-1-1.5-1.8-3-1.8-3 1.1-2.9 2.5-.6 1.5-.5 3.1-2.5 0 .6-4.1 1.8-3.6 2.5-2.1z"/><path fill="#ff4c00" d="M447 286.8l16.4 0 .3 1.6 1.7 2.5 1.6 1.1 1.5 .4 2.5-.7 1-.8 1-2.5 .2-1.6 3 0-.4 4.1-1 3.7-1.8 1.8-1.5 .8-4-1-4-1.5-1-.8-.7-3-.8-1.5-1-1.2-.5 0-6 3.6-1 .3-1-.1-1.1-.6-3.1-2.5-.7-1.6 0-.5zM515.6 291.4l1.5-.4 1 .5 2.5 1.8 1.2 1.8 .3 4.1-2.3 0-.2-2-.8-2.1-1.2-.8-1-.1-1.3 .9-.7 .9-1 2.1-.2 1.1-3.3 0 .5-3.1 .6-1.5 2.4-2.2z"/><path fill="#e50000" d="M463.5 286.8l9.7 0-.2 1.6-1 2.5-1 .8-2 .6-1 .1-1.1-.4-1.5-1.1-.9-1-1-2.1zM516.1 294.5l1-.3 1 .4 1 1 .5 1.6 .2 2-2.7 0-3.7 0 .7-2.3 1.2-1.8z"/><path fill="none" stroke="#000" stroke-width="0.5" stroke-opacity="0.8" d="M385.1 286.8l-.1 1.2-1 .7M397.3 286.8l.5 1.6 1.2 1 2 .9 .4 1.1-.4 .9-.5 .4-4 .2-2-.4-1-2.1-2.5-1.5-.5-2.1M384 293.6l1 .4 .3 1.1-.3 .6-1 .4M386.9 299.2l.1-1 1-.6 1 .6 .1 1M394.9 299.2l.1-1 1-.6 .9 .6 .2 1M402.5 299.2l.4-4.6 2.4-1.6 .8-1.6-.9-1.5-2.7-1.5-.2-1.6M409.8 299.2l-.2-1-.6-.9-1.5-.7-1.4 1-.4 1.6M606.1 299.2l-.6-1.6-1.4-.7-1.4 .7-.6 1.6M614.4 299.2l-.5-1.6-.8-.8-1-.4-1.5 1.2-.5 1.6M387.5 290.2l1 0 1 .7-.1 1.1-.7 .5-1.2 0-.7-.5-.1-1.1zM494 290.8l-.6 .6 .6 1.5 .5-.2 .7-1.3-.5-.5-.7-.1M541.1 291.4l-.7 .6-.7 2.6 .4 .6 1 .5 1-.5 .3-.6-.7-2.6zM581.1 291.4l-.1 .6 .6 .6 .1-1.2zM392 293.5l1 .2 .4 .9-.3 1-1.1 .4-1.1-.4-.3-1 .4-.8zM423.5 286.8l-.1 1-.5 1.1-.9 .8-1 .4-1-.2-1.3-1-.7-1.1-.1-1M491.3 286.8l-1 4.1 .1 1.1 1.3 3.1 1.3 1.3 1 .5 1-.2 1.5-.9 1.1-1.8 .5-3.1-1.2-3.1-.1-1M595.9 286.8l-.7 12.4M435.8 299.2l-1.6-12.4M620.9 299.2l-.6-12.4M579.6 288l-.8 .9-.7 2 .2 3.7 .8 1.2 2.5 .8 1-.5 .6-1 .1-4.2-1.2-2.3zM540.6 289.3l-2 1.1-1 1-.4 3.2 .4 1.1 1 1.3 2 1.2 .7 0 2.8-2.1 .5-1 .1-1.1-.6-3.1-2-1.4zM559.1 289.4l-1.5 .8-.5 .6-.7 3.8 .4 1 .8 .7 2.5 .4 2-1.1 .5-.5 .2-1.1-.6-2.6-.6-.9-1.5-1.3-1 .2M489 286.8l-.5 4.6 .5 2.6 .6 2.1 1.9 2.1 .4 1M538.1 286.8l-.3 1-1.7 1.6-1.2 2 .5 3.7 1.2 4.1M555.6 286.8l-.7 4.1 0 3.7 .3 2 1 2.6M577.2 286.8l-.5 4.6 .2 4.2 .7 1.8 1.6 1.8M593.9 286.8l-.6 12.4M628.2 286.8l.3 1.6 1.6 1.4 1.5 .4 3 .1 3-.4 1.8-.5 1-1 .4-1.6M438.9 299.2l-.7-4.1-1.7-5.6-.4-2.7M497.1 299.2l1.7-2.6 .6-2 .3-3.2-.6-4.6M544.9 299.2l1.3-3.6 0-3.6-.6-2.6-1.3-1.6-.3-1M563.1 299.2l1.6-2.6 .5-2 0-3.2-1.2-3.6-.1-1M582.9 299.2l1.3-2.6 .3-2 .2-3.2-.8-4.6M622.5 299.2l-.1-12.4M637.4 299.2l-.3-1-1.1-1.1-.9-.4-2-.1-2 .1-1.1 .4-1.2 1.1-.2 1M483.6 286.8l-.6 4.6-1.2 4.2-.6 3.6M526.2 286.8l.1 1 1.5 2.6 1.2 3.6 .2 5.2M575.1 286.8l-.5 2.1-1.5 1.1-1.5-.3-1.5-.8-1-1.1-.2-1M442.9 299.2l-.2-1-2.7-5.3-1.3-4.5-.2-1.6M502 299.2l.8-3.6 1.7-4.2 .4-4.6M481 286.8l-.5 4.6-2.4 7.8M522.2 286.8l.1 1 2.6 4.2 1.1 2.6 .2 4.6M446.1 299.2l-.1-1-1.1-2.6-2.4-4.2-1-4.6M505.2 299.2l.8-4.6 3.1-6.8 .1-1M478.5 286.8l-.5 4.6-2.5 7.8M460.2 299.2l-.7-1-2-1-1.5-.5-4-.2-4.5-2.5-2.2-3.1-.9-2.5-.2-1.6M507.6 299.2l.6-4.1 1.8-3.6 3.6-2.7 3-1 1 .2 2.5 1.7 3.2 3.8 .7 1.6 .1 4.1M476.2 286.8l-.4 4.1-1 3.7-1.8 1.8-1.5 .8-4-1-4.5-1.8-.6-.9-.8-3.1-1.6-2.2-1 .2-5 3.2-2 .5-1.6-.7-2.9-2.3-.8-1.3-.1-1M510.1 299.2l.5-3.1 .6-1.5 2.9-2.5 3-1.1 3 1.8 1.5 1.8 .3 1 .2 3.6M473.2 286.8l-.2 1.6-1 2.5-1 .8-2.5 .7-1.5-.4-1.6-1.1-1.7-2.5-.3-1.6M513.4 299.2l.3-1.6 1.1-2 1.1-1 1.2-.4 1 .4 1 1 .7 3.6"/></g><rect x="384" y="285.6" width="257.6" height="1.6" fill="#000"/><rect x="384" y="298.8" width="257.6" height="1.5" fill="#000"/>
<rect x="644.6" y="51.4" width="14.1" height="326.3" fill="url(#jg)"/>
<text transform="translate(381,381.8) scale(0.68,1)" font-size="11.2" text-anchor="end" fill="#474747" font-family="DejaVu Sans, sans-serif">0</text>
<text transform="translate(381,349.17) scale(0.68,1)" font-size="11.2" text-anchor="end" fill="#474747" font-family="DejaVu Sans, sans-serif">0.05</text>
<text transform="translate(381,316.54) scale(0.68,1)" font-size="11.2" text-anchor="end" fill="#474747" font-family="DejaVu Sans, sans-serif">0.1</text>
<text transform="translate(381,283.91) scale(0.68,1)" font-size="11.2" text-anchor="end" fill="#474747" font-family="DejaVu Sans, sans-serif">0.15</text>
<text transform="translate(381,251.28) scale(0.68,1)" font-size="11.2" text-anchor="end" fill="#474747" font-family="DejaVu Sans, sans-serif">0.2</text>
<text transform="translate(381,218.65) scale(0.68,1)" font-size="11.2" text-anchor="end" fill="#474747" font-family="DejaVu Sans, sans-serif">0.25</text>
<text transform="translate(381,186.02) scale(0.68,1)" font-size="11.2" text-anchor="end" fill="#474747" font-family="DejaVu Sans, sans-serif">0.3</text>
<text transform="translate(381,153.39) scale(0.68,1)" font-size="11.2" text-anchor="end" fill="#474747" font-family="DejaVu Sans, sans-serif">0.35</text>
<text transform="translate(381,120.76) scale(0.68,1)" font-size="11.2" text-anchor="end" fill="#474747" font-family="DejaVu Sans, sans-serif">0.4</text>
<text transform="translate(381,88.13) scale(0.68,1)" font-size="11.2" text-anchor="end" fill="#474747" font-family="DejaVu Sans, sans-serif">0.45</text>
<text transform="translate(381,55.5) scale(0.68,1)" font-size="11.2" text-anchor="end" fill="#474747" font-family="DejaVu Sans, sans-serif">0.5</text>
<text transform="translate(439.2,392.7) scale(0.66,1)" font-size="10.7" text-anchor="middle" fill="#474747" font-family="DejaVu Sans, sans-serif">50</text>
<text transform="translate(494.6,392.7) scale(0.66,1)" font-size="10.7" text-anchor="middle" fill="#474747" font-family="DejaVu Sans, sans-serif">100</text>
<text transform="translate(550,392.7) scale(0.66,1)" font-size="10.7" text-anchor="middle" fill="#474747" font-family="DejaVu Sans, sans-serif">150</text>
<text transform="translate(605.4,392.7) scale(0.66,1)" font-size="10.7" text-anchor="middle" fill="#474747" font-family="DejaVu Sans, sans-serif">200</text>
<text transform="translate(512,409.4) scale(0.67,1)" font-size="12" text-anchor="middle" fill="#474747" font-family="DejaVu Sans, sans-serif">Time</text>
<text transform="translate(358.6,214) rotate(-90) scale(1,0.64)" font-size="13" text-anchor="middle" fill="#474747" font-family="DejaVu Sans, sans-serif">Frequency</text>
<text transform="translate(661,381.6) scale(0.66,1)" font-size="10.7" text-anchor="start" fill="#474747" font-family="DejaVu Sans, sans-serif">0</text>
<text transform="translate(661,348.97) scale(0.66,1)" font-size="10.7" text-anchor="start" fill="#474747" font-family="DejaVu Sans, sans-serif">0.001</text>
<text transform="translate(661,316.34) scale(0.66,1)" font-size="10.7" text-anchor="start" fill="#474747" font-family="DejaVu Sans, sans-serif">0.002</text>
<text transform="translate(661,283.71) scale(0.66,1)" font-size="10.7" text-anchor="start" fill="#474747" font-family="DejaVu Sans, sans-serif">0.003</text>
<text transform="translate(661,251.08) scale(0.66,1)" font-size="10.7" text-anchor="start" fill="#474747" font-family="DejaVu Sans, sans-serif">0.004</text>
<text transform="translate(661,218.45) scale(0.66,1)" font-size="10.7" text-anchor="start" fill="#474747" font-family="DejaVu Sans, sans-serif">0.005</text>
<text transform="translate(661,185.82) scale(0.66,1)" font-size="10.7" text-anchor="start" fill="#474747" font-family="DejaVu Sans, sans-serif">0.006</text>
<text transform="translate(661,153.19) scale(0.66,1)" font-size="10.7" text-anchor="start" fill="#474747" font-family="DejaVu Sans, sans-serif">0.007</text>
<text transform="translate(661,120.56) scale(0.66,1)" font-size="10.7" text-anchor="start" fill="#474747" font-family="DejaVu Sans, sans-serif">0.008</text>
<text transform="translate(661,87.93) scale(0.66,1)" font-size="10.7" text-anchor="start" fill="#474747" font-family="DejaVu Sans, sans-serif">0.009</text>
<text transform="translate(661,55.3) scale(0.66,1)" font-size="10.7" text-anchor="start" fill="#474747" font-family="DejaVu Sans, sans-serif">0.01</text>
<text x="182.5" y="450.5" font-size="28" font-weight="bold" font-family="Liberation Serif, serif" text-anchor="middle" fill="#000">C</text>
<text x="62.8" y="470.4" font-size="11" fill="#303030" font-weight="bold" font-family="DejaVu Sans, sans-serif" textLength="204.2" lengthAdjust="spacingAndGlyphs" text-anchor="start">Stockwell Transform (ST) of EIIP Sequence</text>
<rect x="38.5" y="475.3" width="252.5" height="309.7" fill="#000094"/>
<g><path stroke="#000008" stroke-width="1.0" d="M39 475.3v41M39 527.3v31M39 675.3v44M40 475.3v57M40 607.3v29M41 475.3v30M42 475.3v129M42 731.3v3M42 736.3v1M42 740.3v4M43 475.3v12M43 573.3v53M44 475.3v114M45 516.3v28M47 475.3v86M47 598.3v132M48 475.3v51M48 537.3v19M48 586.3v43M49 475.3v46M49 737.3v14M50 475.3v96M50 626.3v17M51 553.3v2M51 608.3v34M52 494.3v33M52 559.3v60M53 483.3v96M53 659.3v6M53 666.3v2M53 669.3v2M54 475.3v41M55 475.3v43M56 475.3v50M56 632.3v1M56 634.3v9M57 482.3v63M58 503.3v118M59 475.3v107M60 475.3v37M60 543.3v64M61 475.3v44M61 534.3v68M62 730.3v1M63 480.3v23M63 532.3v22M63 589.3v9M64 475.3v30M64 531.3v67M65 478.3v1M65 578.3v28M66 489.3v80M67 494.3v46M67 694.3v11M68 499.3v63M68 607.3v23M68 683.3v16M69 484.3v96M70 509.3v35M70 562.3v32M71 475.3v1M71 560.3v14M72 536.3v3M72 587.3v11M72 639.3v26M73 475.3v19M73 495.3v1M73 510.3v38M73 568.3v18M74 475.3v20M74 550.3v46M75 475.3v49M75 569.3v25M76 475.3v27M76 521.3v43M77 475.3v104M78 561.3v39M79 496.3v19M79 556.3v28M79 606.3v29M80 548.3v30M81 522.3v58M82 475.3v15M82 513.3v49M83 475.3v19M83 528.3v83M84 475.3v8M84 552.3v21M85 475.3v11M85 582.3v29M85 657.3v39M86 492.3v56M86 589.3v25M86 627.3v11M87 506.3v77M87 609.3v19M88 478.3v42M88 560.3v56M88 665.3v29M89 535.3v58M89 674.3v1M90 475.3v5M90 505.3v32M90 554.3v52M91 475.3v33M91 529.3v12M92 519.3v31M93 475.3v9M93 517.3v28M94 475.3v18M94 548.3v19M94 649.3v19M95 475.3v49M95 574.3v40M96 475.3v6M96 563.3v56M97 540.3v3M97 544.3v1M97 576.3v12M98 475.3v61M98 558.3v33M98 668.3v19M99 475.3v45M99 618.3v2M99 623.3v53M100 475.3v60M100 641.3v21M101 490.3v78M102 475.3v22M103 539.3v84M104 516.3v12M104 581.3v40M105 606.3v18M106 574.3v72M107 475.3v17M107 595.3v33M108 475.3v22M108 550.3v51M109 520.3v18M109 617.3v10M110 475.3v74M110 647.3v26M111 475.3v31M111 527.3v35M112 530.3v36M112 581.3v56M112 676.3v7M113 482.3v103M114 481.3v35M115 493.3v6M115 543.3v22M116 624.3v47M116 673.3v1M117 491.3v31M118 475.3v71M119 475.3v77M120 479.3v2M120 482.3v10M120 493.3v25M120 556.3v64M121 475.3v19M121 546.3v8M121 613.3v28M122 542.3v42M123 475.3v50M124 530.3v147M125 475.3v21M125 554.3v2M125 557.3v2M125 562.3v1M125 566.3v39M125 655.3v30M127 475.3v2M127 537.3v11M127 550.3v2M128 475.3v53M128 565.3v28M129 475.3v48M129 596.3v33M130 475.3v33M131 475.3v68M131 573.3v36M132 475.3v32M132 508.3v2M133 475.3v39M133 658.3v4M134 475.3v53M135 475.3v60M135 540.3v13M136 509.3v103M136 637.3v32M137 475.3v27M137 503.3v2M137 547.3v21M138 475.3v31M138 584.3v3M138 591.3v1M138 603.3v28M139 509.3v30M139 629.3v30M140 476.3v4M140 513.3v48M141 477.3v32M141 566.3v1M142 475.3v46M142 543.3v30M143 475.3v47M143 671.3v29M145 542.3v74M145 673.3v52M146 475.3v27M146 543.3v34M147 475.3v42M148 475.3v54M148 555.3v6M149 475.3v67M150 475.3v18M151 475.3v7M151 497.3v93M152 475.3v30M152 508.3v120M153 475.3v82M154 475.3v56M154 572.3v1M154 579.3v17M154 597.3v2M155 475.3v23M155 534.3v86M156 475.3v40M156 531.3v12M156 611.3v27M157 475.3v24M157 533.3v20M157 606.3v30M158 475.3v90M158 640.3v26M159 504.3v74M160 482.3v16M160 561.3v13M160 635.3v6M161 486.3v40M162 475.3v132M163 475.3v53M163 586.3v32M164 475.3v79M165 475.3v34M165 549.3v59M166 475.3v63M166 554.3v55M167 475.3v76M168 475.3v47M169 560.3v47M169 619.3v65M170 535.3v80M170 644.3v1M171 475.3v9M171 593.3v81M172 612.3v11M172 719.3v5M172 725.3v15M173 475.3v24M173 624.3v13M174 475.3v7M175 503.3v52M175 587.3v59M176 475.3v2M176 553.3v45M177 516.3v47M177 579.3v93M178 475.3v45M178 662.3v31M179 502.3v35M180 475.3v77M180 607.3v19M181 475.3v4M181 543.3v26M181 580.3v21M182 504.3v35M182 579.3v16M183 475.3v14M183 518.3v32M183 598.3v16M184 544.3v59M184 628.3v21M185 475.3v38M185 584.3v19M186 475.3v53M188 475.3v25M188 525.3v29M189 521.3v48M190 475.3v59M191 475.3v22M191 500.3v83M192 497.3v40M193 475.3v114M193 638.3v22M194 486.3v72M194 636.3v28M194 715.3v21M195 475.3v26M195 538.3v39M195 700.3v24M196 475.3v38M197 484.3v20M197 628.3v20M198 475.3v125M199 475.3v46M200 475.3v9M201 475.3v34M202 475.3v11M202 555.3v37M203 475.3v147M204 475.3v2M204 521.3v45M204 601.3v36M205 475.3v13M206 524.3v56M207 526.3v17M207 568.3v8M207 577.3v2M208 490.3v1M208 495.3v87M209 477.3v40M210 533.3v14M210 598.3v14M210 683.3v48M211 475.3v99M212 494.3v36M212 600.3v46M213 510.3v24M214 475.3v34M214 577.3v10M214 643.3v18M215 509.3v78M216 475.3v44M216 520.3v13M216 544.3v35M216 592.3v63M217 475.3v39M217 583.3v56M218 475.3v40M218 579.3v10M219 475.3v29M219 565.3v10M219 655.3v36M220 475.3v15M221 506.3v66M221 602.3v6M222 480.3v74M222 564.3v60M223 488.3v31M224 538.3v73M226 525.3v31M226 622.3v22M227 515.3v69M227 602.3v25M227 672.3v7M229 548.3v24M229 629.3v11M230 475.3v56M230 646.3v11M231 475.3v28M231 569.3v31M231 696.3v17M232 475.3v38M232 578.3v44M233 511.3v27M233 541.3v1M233 545.3v14M233 724.3v37M234 506.3v89M235 475.3v127M235 643.3v6M236 475.3v78M236 621.3v19M237 519.3v49M238 475.3v58M238 554.3v6M239 475.3v135M240 480.3v98M241 475.3v54M241 614.3v3M242 475.3v159M243 475.3v101M243 580.3v1M243 638.3v21M244 488.3v55M244 650.3v23M245 501.3v71M245 616.3v4M246 475.3v3M246 552.3v29M247 498.3v42M247 592.3v23M248 483.3v27M248 553.3v7M248 622.3v14M249 475.3v26M249 524.3v31M249 641.3v16M250 475.3v13M250 575.3v38M250 620.3v38M250 674.3v9M251 505.3v44M251 620.3v36M252 499.3v1M252 501.3v46M253 475.3v37M254 475.3v102M254 664.3v16M255 475.3v5M255 731.3v25M256 475.3v8M256 593.3v29M257 475.3v7M257 528.3v22M257 637.3v13M258 545.3v19M258 611.3v40M259 475.3v34M259 556.3v35M260 475.3v19M260 522.3v19M261 475.3v29M262 475.3v60M262 620.3v33M263 475.3v55M263 636.3v18M264 475.3v172M265 475.3v50M265 594.3v12M266 475.3v1M266 513.3v62M266 614.3v18M267 475.3v52M267 616.3v6M267 623.3v1M268 475.3v20M268 615.3v24M269 475.3v7M270 475.3v14M270 528.3v24M270 600.3v34M271 475.3v36M271 703.3v8M271 713.3v5M272 475.3v3M272 515.3v29M273 475.3v35M273 622.3v21M274 475.3v67M275 505.3v81M276 475.3v11M276 528.3v29M277 475.3v59M278 515.3v94M278 685.3v5M278 691.3v12M279 498.3v67M279 575.3v42M279 679.3v36M280 475.3v28M280 539.3v53M280 646.3v9M281 567.3v12M281 661.3v13M282 475.3v40M282 563.3v15M283 475.3v31M283 522.3v75M284 502.3v30M284 572.3v34M285 475.3v16M285 552.3v8M285 578.3v47M286 512.3v19M286 609.3v7M287 514.3v34M287 591.3v2M289 475.3v7M289 519.3v25M290 475.3v47"/><path stroke="#0008ec" stroke-width="1.0" d="M39 558.3v10M39 594.3v15M39 628.3v8M39 645.3v8M39 671.3v4M39 719.3v14M40 562.3v34M40 644.3v7M40 664.3v7M40 700.3v31M41 505.3v1M41 567.3v37M41 641.3v10M41 658.3v7M41 706.3v28M41 763.3v5M42 604.3v24M42 632.3v24M42 714.3v17M42 734.3v2M42 762.3v8M43 528.3v11M43 632.3v22M43 721.3v24M43 761.3v2M43 766.3v5M44 631.3v22M44 672.3v14M44 728.3v19M44 761.3v2M44 769.3v3M45 555.3v8M45 595.3v15M45 634.3v22M45 667.3v31M45 704.3v45M45 761.3v1M45 770.3v2M46 478.3v56M46 558.3v64M46 624.3v13M46 652.3v31M46 684.3v1M46 689.3v61M46 761.3v1M46 769.3v2M47 569.3v27M47 730.3v20M47 762.3v8M48 561.3v11M48 634.3v26M48 703.3v30M48 748.3v1M48 762.3v7M49 525.3v35M49 574.3v13M49 609.3v39M49 657.3v20M49 708.3v26M49 751.3v1M49 763.3v4M50 571.3v10M50 615.3v11M50 678.3v8M50 713.3v21M50 743.3v13M51 542.3v11M51 555.3v7M51 570.3v18M51 602.3v6M51 685.3v6M51 714.3v19M51 742.3v15M52 475.3v3M52 527.3v21M52 665.3v22M52 712.3v18M52 741.3v17M53 589.3v17M53 665.3v1M53 709.3v8M53 723.3v7M53 740.3v18M54 584.3v42M54 638.3v13M54 695.3v18M54 725.3v7M54 739.3v19M55 580.3v31M55 614.3v16M55 688.3v20M55 727.3v6M55 738.3v20M56 529.3v29M56 568.3v16M56 600.3v27M56 679.3v10M56 727.3v6M56 739.3v18M57 564.3v11M57 607.3v41M57 649.3v30M57 727.3v5M57 741.3v15M58 621.3v16M58 668.3v8M58 725.3v4M58 743.3v12M59 582.3v4M59 638.3v15M59 654.3v1M59 657.3v29M59 721.3v5M59 747.3v6M60 512.3v7M60 541.3v2M60 607.3v15M60 627.3v49M60 717.3v8M61 522.3v12M61 702.3v13M61 720.3v7M62 495.3v18M62 540.3v4M62 641.3v8M62 673.3v2M62 696.3v22M62 723.3v7M63 475.3v5M63 554.3v11M63 635.3v47M63 696.3v21M63 724.3v8M64 598.3v5M64 642.3v41M64 695.3v21M64 722.3v7M65 475.3v3M65 489.3v14M65 536.3v42M65 693.3v18M65 720.3v7M66 589.3v11M66 692.3v13M66 718.3v6M66 753.3v12M67 583.3v6M67 611.3v10M67 676.3v18M67 717.3v6M67 752.3v14M68 579.3v8M68 630.3v2M68 671.3v12M68 719.3v5M68 752.3v14M69 480.3v4M69 591.3v18M69 614.3v23M69 670.3v30M69 722.3v4M69 751.3v15M70 489.3v8M70 594.3v23M70 646.3v2M70 649.3v50M70 724.3v3M70 751.3v13M71 490.3v13M71 549.3v11M71 589.3v10M71 622.3v18M71 642.3v1M71 646.3v2M71 649.3v52M71 724.3v3M71 750.3v13M72 477.3v7M72 510.3v10M72 541.3v26M72 628.3v11M72 667.3v39M72 720.3v6M72 749.3v13M73 554.3v8M73 586.3v9M73 605.3v11M73 667.3v58M73 748.3v13M74 546.3v4M74 596.3v14M74 620.3v20M74 688.3v37M74 747.3v12M75 524.3v4M75 540.3v29M75 616.3v25M75 676.3v50M75 744.3v14M76 502.3v19M76 564.3v44M76 637.3v7M76 675.3v50M76 742.3v16M77 579.3v24M77 637.3v16M77 665.3v57M77 743.3v14M78 497.3v9M78 549.3v12M78 600.3v19M78 643.3v12M78 679.3v40M78 744.3v11M79 491.3v5M79 590.3v11M79 681.3v37M79 743.3v10M80 475.3v18M80 518.3v20M80 588.3v8M80 622.3v8M80 658.3v25M80 701.3v26M80 742.3v10M81 475.3v19M81 512.3v10M81 605.3v25M81 647.3v34M81 699.3v33M81 740.3v10M82 501.3v12M82 611.3v71M82 691.3v24M82 725.3v11M82 737.3v12M83 656.3v11M83 685.3v12M83 726.3v21M84 509.3v4M84 514.3v23M84 573.3v1M84 600.3v5M84 644.3v20M84 682.3v9M84 726.3v18M84 756.3v4M85 495.3v50M85 566.3v8M85 611.3v46M85 696.3v38M85 752.3v11M86 487.3v5M86 560.3v18M86 614.3v13M86 638.3v12M86 659.3v23M86 683.3v20M86 712.3v18M86 750.3v9M86 761.3v2M87 475.3v16M87 583.3v8M87 628.3v49M87 688.3v8M87 717.3v15M87 748.3v6M87 762.3v2M88 475.3v3M88 541.3v5M88 616.3v3M88 718.3v17M88 746.3v6M88 762.3v2M89 500.3v8M89 616.3v7M89 676.3v12M89 718.3v18M89 742.3v8M89 762.3v1M90 480.3v7M90 550.3v4M90 606.3v28M90 645.3v14M90 680.3v5M90 719.3v29M90 762.3v1M91 508.3v12M91 558.3v49M91 722.3v25M91 760.3v2M92 475.3v7M92 507.3v11M92 550.3v22M92 581.3v32M92 662.3v6M92 723.3v23M92 759.3v2M93 484.3v5M93 581.3v15M93 619.3v35M93 662.3v11M93 721.3v22M93 758.3v2M94 493.3v7M94 530.3v7M94 571.3v9M94 630.3v19M94 668.3v6M94 716.3v22M94 756.3v4M95 524.3v3M95 569.3v5M95 669.3v63M95 755.3v4M96 481.3v27M96 540.3v9M96 639.3v20M96 690.3v45M96 755.3v3M97 475.3v4M97 493.3v5M97 528.3v12M97 627.3v9M97 655.3v11M97 686.3v52M97 754.3v3M98 619.3v5M98 656.3v12M98 687.3v52M98 753.3v4M99 520.3v18M99 565.3v21M99 606.3v12M99 620.3v3M99 676.3v65M99 752.3v5M100 594.3v24M100 689.3v20M100 732.3v13M100 749.3v7M101 475.3v10M101 597.3v19M101 641.3v29M101 684.3v24M101 733.3v23M102 518.3v23M102 597.3v26M102 637.3v72M102 730.3v12M102 746.3v11M102 763.3v4M103 475.3v14M103 623.3v1M103 700.3v13M103 726.3v15M103 744.3v24M104 475.3v2M104 621.3v25M104 693.3v62M104 757.3v5M104 763.3v6M105 475.3v1M105 498.3v16M105 545.3v9M105 573.3v33M105 624.3v1M105 648.3v77M105 729.3v23M105 758.3v4M105 763.3v9M106 475.3v5M106 511.3v15M106 662.3v13M106 690.3v30M106 740.3v11M106 760.3v13M107 500.3v26M107 587.3v8M107 645.3v77M107 742.3v9M107 762.3v12M108 515.3v12M108 601.3v27M108 664.3v14M108 686.3v39M108 742.3v8M108 763.3v6M108 770.3v4M109 538.3v2M109 546.3v51M109 608.3v9M109 663.3v38M109 706.3v21M109 742.3v8M109 764.3v10M110 549.3v21M110 597.3v17M110 617.3v30M110 673.3v58M110 740.3v9M110 765.3v7M111 510.3v1M111 586.3v26M111 623.3v40M111 667.3v67M111 736.3v11M111 766.3v1M112 475.3v3M112 511.3v19M112 578.3v3M112 637.3v39M112 683.3v62M113 477.3v5M113 603.3v6M113 659.3v85M114 475.3v6M114 516.3v50M114 601.3v6M114 652.3v48M114 701.3v20M114 727.3v16M115 503.3v27M115 598.3v7M115 628.3v38M115 668.3v2M115 671.3v22M115 728.3v13M116 484.3v49M116 540.3v15M116 573.3v41M116 671.3v2M116 674.3v16M116 728.3v12M117 522.3v20M117 572.3v15M117 644.3v34M117 687.3v11M117 727.3v12M118 546.3v66M118 615.3v18M118 647.3v31M118 686.3v22M118 724.3v14M119 552.3v48M119 635.3v5M119 641.3v27M119 703.3v39M120 475.3v4M120 653.3v8M120 700.3v45M121 494.3v22M121 605.3v8M121 641.3v24M121 697.3v40M121 741.3v6M122 475.3v38M122 514.3v1M122 526.3v16M122 630.3v12M122 662.3v6M122 691.3v10M122 707.3v14M122 744.3v4M123 525.3v27M123 636.3v13M123 660.3v7M123 683.3v7M123 709.3v8M123 745.3v4M124 685.3v7M124 705.3v11M124 746.3v5M125 496.3v9M125 544.3v9M125 705.3v15M125 746.3v5M126 475.3v40M126 517.3v1M126 521.3v15M126 558.3v11M126 607.3v8M126 629.3v12M126 675.3v5M126 709.3v24M126 747.3v5M127 479.3v9M127 503.3v13M127 552.3v2M127 621.3v33M127 680.3v8M127 697.3v36M127 747.3v6M128 630.3v8M128 652.3v10M128 708.3v24M128 747.3v6M129 531.3v16M129 575.3v13M129 629.3v4M129 650.3v10M129 707.3v10M129 723.3v10M129 745.3v7M130 516.3v9M130 581.3v40M130 634.3v10M130 702.3v12M130 726.3v8M130 745.3v6M131 626.3v12M131 668.3v43M131 729.3v7M131 743.3v8M132 556.3v12M132 676.3v33M132 731.3v18M133 533.3v11M133 681.3v31M133 733.3v15M134 540.3v8M134 581.3v7M134 653.3v11M134 705.3v15M134 732.3v17M135 553.3v12M135 631.3v36M135 712.3v39M136 632.3v5M136 726.3v6M136 738.3v14M137 538.3v9M137 617.3v10M137 645.3v26M137 741.3v12M138 506.3v33M138 554.3v19M138 574.3v1M138 592.3v11M138 642.3v13M138 668.3v9M138 697.3v19M138 748.3v7M139 475.3v26M139 539.3v5M139 600.3v27M139 675.3v10M139 692.3v27M139 751.3v5M140 475.3v1M140 480.3v30M140 566.3v71M140 678.3v29M140 712.3v12M140 752.3v4M141 520.3v11M141 559.3v7M141 567.3v12M141 596.3v56M141 667.3v16M141 695.3v13M141 716.3v23M141 753.3v3M142 542.3v1M142 579.3v73M142 662.3v9M142 689.3v15M142 719.3v20M142 753.3v3M143 534.3v13M143 558.3v15M143 609.3v23M143 644.3v11M143 665.3v6M143 723.3v17M143 753.3v2M144 531.3v12M144 547.3v13M144 654.3v22M144 681.3v24M144 722.3v6M144 736.3v4M144 752.3v3M145 537.3v5M145 660.3v13M145 725.3v3M145 735.3v5M145 751.3v3M146 502.3v2M146 577.3v17M146 631.3v35M146 670.3v33M146 719.3v21M146 751.3v3M147 620.3v41M147 683.3v19M147 720.3v6M147 735.3v5M147 750.3v4M148 550.3v5M148 561.3v9M148 603.3v30M148 671.3v29M148 737.3v4M148 750.3v4M149 565.3v9M149 589.3v11M149 613.3v11M149 684.3v21M149 738.3v5M149 749.3v5M150 572.3v44M150 648.3v6M150 669.3v46M150 738.3v15M151 597.3v11M151 643.3v8M151 665.3v31M151 708.3v10M151 739.3v13M152 628.3v48M152 712.3v7M152 739.3v11M153 602.3v11M153 641.3v3M153 645.3v1M153 656.3v23M153 710.3v8M154 609.3v31M154 661.3v17M154 711.3v9M154 740.3v2M155 620.3v12M155 666.3v18M155 710.3v13M155 727.3v18M156 515.3v8M156 554.3v57M156 658.3v7M156 712.3v35M157 564.3v42M157 636.3v3M157 655.3v6M157 706.3v42M158 571.3v18M158 707.3v42M159 709.3v41M160 506.3v26M160 574.3v29M160 708.3v24M160 733.3v18M161 526.3v2M161 562.3v9M161 612.3v6M161 669.3v22M161 710.3v17M161 736.3v16M162 607.3v10M162 662.3v20M162 683.3v12M162 738.3v15M163 618.3v14M163 633.3v1M163 676.3v19M163 738.3v15M164 554.3v37M164 602.3v36M164 678.3v15M164 737.3v17M165 509.3v6M165 526.3v21M165 616.3v18M165 671.3v7M165 736.3v18M166 538.3v2M166 553.3v1M166 621.3v55M166 716.3v37M167 551.3v68M167 635.3v10M167 663.3v8M167 716.3v16M167 740.3v12M168 544.3v35M168 584.3v18M168 639.3v9M168 664.3v8M168 718.3v15M168 742.3v10M169 504.3v13M169 529.3v31M169 719.3v14M169 742.3v8M170 509.3v26M170 646.3v36M170 717.3v17M170 740.3v9M171 493.3v13M171 527.3v66M171 682.3v15M171 711.3v35M172 491.3v27M172 558.3v28M172 601.3v8M172 655.3v8M172 686.3v30M172 740.3v3M173 551.3v31M173 607.3v8M173 656.3v6M173 696.3v16M173 731.3v9M174 482.3v17M174 546.3v12M174 595.3v12M174 655.3v7M174 728.3v11M175 475.3v25M175 555.3v28M175 662.3v9M175 688.3v9M175 727.3v10M175 750.3v10M176 477.3v4M176 615.3v11M176 636.3v12M176 698.3v12M176 724.3v14M176 748.3v11M177 704.3v35M177 747.3v12M178 520.3v15M178 554.3v24M178 580.3v1M178 596.3v12M178 652.3v6M178 710.3v30M178 746.3v12M179 475.3v27M179 537.3v81M179 654.3v9M179 729.3v11M179 746.3v10M180 597.3v10M180 649.3v9M180 732.3v9M180 745.3v10M181 511.3v15M181 601.3v5M181 644.3v10M181 666.3v42M181 713.3v7M181 730.3v9M181 745.3v8M182 490.3v14M182 595.3v10M182 640.3v7M182 664.3v12M182 702.3v40M182 746.3v5M183 489.3v18M183 559.3v22M183 589.3v9M183 637.3v8M183 673.3v9M183 703.3v39M184 489.3v14M184 683.3v63M185 524.3v19M185 639.3v6M185 682.3v37M185 725.3v21M186 528.3v39M186 585.3v14M186 651.3v20M186 672.3v1M186 678.3v11M186 694.3v20M186 733.3v14M187 488.3v7M187 527.3v24M187 563.3v29M187 603.3v15M187 625.3v21M187 660.3v10M187 679.3v7M187 735.3v15M188 563.3v74M188 681.3v5M188 734.3v18M189 475.3v13M189 495.3v16M189 606.3v38M189 676.3v11M189 734.3v20M190 534.3v2M190 604.3v8M190 631.3v18M190 678.3v35M190 733.3v9M190 743.3v13M191 596.3v14M191 627.3v54M191 709.3v12M191 733.3v9M191 748.3v10M192 537.3v4M192 595.3v25M192 661.3v15M192 715.3v9M192 733.3v7M192 751.3v8M193 590.3v15M193 660.3v25M193 716.3v6M193 734.3v7M193 752.3v7M194 475.3v11M194 560.3v30M194 629.3v7M194 687.3v12M194 713.3v2M194 736.3v6M194 752.3v6M195 590.3v13M195 625.3v12M195 686.3v11M195 734.3v8M195 750.3v7M196 539.3v10M196 606.3v57M196 685.3v28M196 732.3v24M197 475.3v9M197 525.3v11M197 553.3v14M197 599.3v10M197 671.3v36M197 730.3v25M198 603.3v11M198 678.3v26M198 726.3v28M199 564.3v32M199 619.3v3M199 651.3v27M199 684.3v16M199 718.3v35M200 488.3v117M200 628.3v8M200 651.3v45M200 713.3v11M200 732.3v21M201 509.3v41M201 597.3v12M201 641.3v11M201 669.3v27M201 714.3v8M201 732.3v22M202 502.3v14M202 534.3v12M202 612.3v16M202 656.3v33M202 713.3v9M202 731.3v24M203 622.3v9M203 647.3v15M203 677.3v7M203 710.3v9M203 732.3v25M204 485.3v26M204 582.3v12M204 637.3v19M204 668.3v11M204 687.3v24M204 734.3v24M205 563.3v22M205 617.3v35M205 669.3v9M205 690.3v17M205 733.3v26M206 580.3v10M206 607.3v9M206 632.3v26M206 667.3v14M206 688.3v15M206 732.3v6M206 742.3v18M207 475.3v51M207 543.3v6M207 550.3v1M207 565.3v3M207 576.3v1M207 579.3v13M207 601.3v13M207 630.3v70M207 730.3v7M207 744.3v17M207 763.3v4M208 483.3v7M208 491.3v4M208 582.3v34M208 637.3v17M208 680.3v24M208 723.3v12M208 746.3v22M209 563.3v76M209 664.3v17M209 686.3v15M209 720.3v12M209 753.3v2M209 764.3v3M210 475.3v6M210 502.3v31M210 547.3v30M210 619.3v16M211 634.3v9M211 672.3v4M211 677.3v1M211 684.3v22M211 717.3v13M212 484.3v8M212 555.3v11M212 655.3v24M212 696.3v34M213 501.3v9M213 556.3v70M213 648.3v8M213 706.3v12M213 727.3v1M214 661.3v36M215 475.3v9M215 504.3v5M215 587.3v5M215 676.3v18M216 519.3v1M216 579.3v4M216 584.3v8M216 677.3v17M216 739.3v7M217 514.3v14M217 564.3v19M217 678.3v20M217 732.3v18M218 528.3v51M218 600.3v25M218 665.3v36M218 730.3v22M219 522.3v14M219 549.3v12M219 605.3v10M219 640.3v15M219 691.3v21M219 726.3v16M219 748.3v5M220 490.3v5M220 514.3v17M220 632.3v10M220 666.3v18M220 707.3v39M220 749.3v6M221 490.3v16M221 637.3v38M221 710.3v16M221 735.3v12M221 750.3v6M222 475.3v5M222 624.3v31M222 657.3v1M222 659.3v22M222 713.3v10M222 735.3v22M223 478.3v10M223 557.3v7M223 604.3v3M223 622.3v14M223 682.3v6M223 713.3v11M223 734.3v23M224 475.3v20M224 624.3v21M224 685.3v8M224 715.3v9M224 734.3v19M224 754.3v5M225 475.3v77M225 585.3v10M225 610.3v19M225 652.3v40M225 733.3v19M225 754.3v5M226 480.3v9M226 556.3v33M226 607.3v9M226 644.3v20M226 670.3v10M226 691.3v8M226 716.3v7M226 733.3v20M226 754.3v6M227 480.3v5M227 586.3v16M227 628.3v30M227 679.3v3M227 695.3v27M227 732.3v29M228 491.3v10M228 551.3v1M228 553.3v39M228 631.3v49M228 699.3v20M228 732.3v7M228 746.3v16M229 503.3v17M229 521.3v27M229 572.3v23M229 674.3v10M229 700.3v14M229 733.3v5M229 749.3v3M229 753.3v8M229 762.3v3M230 531.3v21M230 608.3v13M230 670.3v15M230 698.3v14M230 733.3v6M231 515.3v14M231 543.3v8M231 604.3v42M231 656.3v12M231 689.3v7M231 734.3v7M232 520.3v9M232 550.3v8M232 636.3v29M232 681.3v8M232 701.3v9M232 733.3v8M233 586.3v11M233 633.3v34M233 674.3v10M233 701.3v11M234 485.3v12M234 617.3v13M234 642.3v38M234 695.3v48M235 602.3v1M235 633.3v1M235 636.3v7M235 649.3v32M235 691.3v52M236 553.3v3M236 591.3v26M236 640.3v55M236 704.3v11M236 721.3v23M237 475.3v4M237 568.3v34M237 627.3v20M237 685.3v27M237 724.3v36M238 533.3v8M238 599.3v11M238 618.3v33M238 658.3v52M238 724.3v6M238 739.3v23M239 610.3v32M239 693.3v17M239 725.3v2M239 742.3v8M239 758.3v5M240 621.3v25M240 663.3v12M240 693.3v32M240 760.3v3M241 541.3v1M241 618.3v10M241 654.3v8M241 674.3v8M241 692.3v36M241 760.3v2M242 643.3v20M242 682.3v15M242 699.3v33M242 759.3v3M243 576.3v4M243 581.3v17M243 607.3v16M243 665.3v31M243 698.3v15M243 725.3v16M243 759.3v2M244 475.3v13M244 543.3v51M244 602.3v20M244 624.3v26M244 673.3v36M244 730.3v12M244 758.3v3M245 490.3v11M245 604.3v12M245 620.3v86M245 730.3v12M245 757.3v3M246 487.3v35M246 595.3v7M246 629.3v70M246 728.3v16M246 757.3v3M247 475.3v13M247 540.3v24M247 625.3v6M247 666.3v29M247 727.3v18M247 757.3v3M247 778.3v6M248 560.3v62M248 679.3v27M248 725.3v23M248 756.3v4M248 774.3v11M249 501.3v3M249 520.3v4M249 555.3v8M249 579.3v18M249 621.3v9M249 638.3v3M249 657.3v12M249 678.3v73M249 755.3v5M249 774.3v9M250 528.3v35M250 658.3v2M250 684.3v8M250 715.3v44M250 772.3v4M250 777.3v1M251 475.3v12M251 549.3v5M251 583.3v6M251 656.3v3M251 719.3v40M251 771.3v5M252 548.3v54M252 655.3v13M252 722.3v36M252 770.3v7M253 512.3v31M253 613.3v11M253 646.3v10M253 722.3v36M253 768.3v9M254 577.3v6M254 592.3v9M254 623.3v8M254 651.3v11M254 681.3v76M254 767.3v11M255 551.3v6M255 596.3v7M255 619.3v10M255 653.3v36M255 690.3v41M255 766.3v4M255 771.3v8M256 519.3v15M256 622.3v5M256 636.3v16M256 663.3v61M256 730.3v1M256 732.3v1M256 749.3v5M256 767.3v2M256 776.3v4M257 482.3v1M257 519.3v9M257 550.3v9M257 578.3v19M257 612.3v9M257 650.3v34M257 712.3v21M257 748.3v5M257 767.3v3M257 779.3v2M258 475.3v16M258 537.3v8M258 574.3v14M258 590.3v2M258 593.3v11M258 651.3v28M258 722.3v13M258 747.3v5M258 768.3v11M258 781.3v1M259 538.3v6M259 591.3v7M259 624.3v57M259 699.3v12M259 730.3v7M259 747.3v4M259 769.3v12M260 541.3v9M260 576.3v5M260 626.3v7M260 654.3v12M260 685.3v33M260 732.3v10M260 745.3v5M260 772.3v3M261 526.3v18M261 610.3v10M261 664.3v15M261 713.3v9M261 731.3v19M262 535.3v14M262 675.3v10M262 718.3v30M263 530.3v25M263 607.3v22M263 635.3v1M263 681.3v6M263 724.3v6M264 662.3v12M264 683.3v7M265 525.3v12M265 659.3v34M266 498.3v9M266 576.3v21M266 632.3v12M266 654.3v10M266 680.3v17M266 706.3v17M267 527.3v24M267 574.3v21M267 622.3v1M267 624.3v1M267 642.3v21M267 707.3v22M268 495.3v3M268 544.3v33M268 594.3v8M268 643.3v56M268 700.3v1M268 702.3v1M268 704.3v38M269 513.3v40M269 609.3v3M269 616.3v19M269 694.3v50M270 494.3v21M270 516.3v12M270 552.3v6M270 591.3v9M270 691.3v11M270 715.3v31M271 536.3v20M271 584.3v8M271 616.3v23M271 689.3v9M271 712.3v1M271 718.3v31M272 478.3v7M272 489.3v26M272 544.3v46M272 615.3v26M272 693.3v25M272 740.3v12M273 510.3v10M273 643.3v30M273 698.3v15M273 740.3v11M274 614.3v27M274 671.3v7M274 699.3v14M274 740.3v11M275 475.3v1M275 586.3v8M275 601.3v15M275 626.3v21M275 675.3v13M275 697.3v19M275 722.3v11M275 739.3v10M276 486.3v11M276 518.3v10M276 557.3v36M276 630.3v16M276 684.3v9M276 701.3v45M277 539.3v10M277 561.3v13M277 613.3v32M277 685.3v47M277 737.3v9M278 478.3v34M278 609.3v64M278 679.3v6M278 703.3v25M278 739.3v7M279 485.3v13M279 569.3v6M279 622.3v13M279 646.3v19M279 715.3v9M279 741.3v7M280 503.3v16M280 592.3v11M280 620.3v12M280 655.3v13M280 682.3v40M280 741.3v7M281 475.3v27M281 517.3v18M281 556.3v8M281 602.3v59M281 674.3v35M281 718.3v7M281 741.3v7M282 515.3v37M282 578.3v26M282 608.3v17M282 676.3v10M282 694.3v13M282 715.3v15M282 741.3v7M283 610.3v12M283 632.3v25M283 680.3v5M283 701.3v28M283 742.3v6M284 479.3v11M284 533.3v26M284 606.3v58M284 676.3v8M284 701.3v26M284 743.3v6M285 491.3v15M285 543.3v9M285 560.3v2M285 625.3v9M285 697.3v29M285 742.3v7M286 485.3v27M286 603.3v6M286 698.3v32M286 742.3v7M287 548.3v22M287 617.3v1M287 640.3v32M287 703.3v13M287 718.3v18M287 739.3v10M288 475.3v12M288 532.3v18M288 589.3v31M288 659.3v12M288 709.3v3M288 724.3v26M289 494.3v10M289 512.3v7M289 556.3v11M289 594.3v7M289 625.3v7M289 650.3v9M289 708.3v43M290 551.3v17M290 592.3v8M290 633.3v21M290 673.3v10M290 689.3v45M290 741.3v9"/><path stroke="#0060f8" stroke-width="1.0" d="M39 568.3v26M39 636.3v9M40 559.3v3M40 596.3v11M40 636.3v8M40 671.3v4M40 696.3v4M41 506.3v8M41 566.3v1M41 604.3v37M41 665.3v5M41 699.3v7M42 628.3v4M42 656.3v7M42 703.3v11M43 525.3v3M43 539.3v4M43 626.3v6M43 654.3v11M43 677.3v12M43 699.3v22M43 763.3v3M44 625.3v6M44 653.3v19M44 686.3v42M44 763.3v6M45 554.3v1M45 610.3v6M45 628.3v6M45 656.3v11M45 698.3v6M45 762.3v8M46 475.3v3M46 534.3v4M46 555.3v3M46 622.3v2M46 762.3v7M47 596.3v2M48 536.3v1M48 572.3v14M48 629.3v5M49 560.3v14M49 648.3v9M50 654.3v24M51 522.3v7M51 530.3v12M51 562.3v8M51 678.3v7M52 478.3v9M52 634.3v7M52 657.3v8M53 477.3v1M53 606.3v35M53 655.3v4M53 717.3v6M54 580.3v4M54 713.3v12M55 577.3v3M55 611.3v3M55 708.3v5M55 724.3v3M56 525.3v4M56 558.3v10M56 689.3v22M56 725.3v2M57 562.3v2M57 648.3v1M57 679.3v12M57 701.3v8M57 725.3v2M58 475.3v11M58 637.3v6M58 650.3v18M58 676.3v10M58 721.3v4M59 653.3v1M59 655.3v2M59 686.3v35M60 622.3v5M60 676.3v12M60 694.3v23M61 641.3v15M61 696.3v6M61 715.3v5M62 513.3v27M62 544.3v15M62 571.3v13M62 637.3v4M62 649.3v24M62 675.3v21M62 718.3v5M63 503.3v1M63 565.3v2M63 631.3v4M63 682.3v14M63 717.3v7M64 505.3v2M64 603.3v5M64 632.3v10M64 683.3v12M64 716.3v6M65 503.3v3M65 531.3v5M65 664.3v3M65 668.3v1M65 670.3v1M65 677.3v16M65 711.3v9M66 583.3v6M66 600.3v15M66 681.3v11M66 705.3v13M67 581.3v2M67 621.3v5M67 669.3v7M67 705.3v12M68 575.3v4M68 632.3v5M68 665.3v6M68 699.3v11M68 714.3v5M69 475.3v5M69 587.3v4M69 609.3v5M69 637.3v33M69 700.3v7M69 718.3v4M70 497.3v3M70 699.3v6M70 720.3v4M71 503.3v4M71 546.3v3M71 599.3v3M71 615.3v7M71 701.3v5M71 720.3v4M72 475.3v2M72 520.3v5M72 539.3v2M72 567.3v20M72 598.3v5M72 622.3v6M72 665.3v2M72 706.3v14M73 562.3v2M73 616.3v51M74 610.3v10M74 640.3v6M74 663.3v25M75 609.3v7M75 641.3v4M75 669.3v7M76 644.3v4M76 669.3v6M77 653.3v12M78 506.3v2M78 546.3v3M78 619.3v10M78 631.3v12M78 655.3v24M79 588.3v2M79 653.3v1M79 655.3v1M79 672.3v9M80 493.3v4M80 511.3v7M80 538.3v7M80 586.3v2M80 630.3v6M80 645.3v13M81 494.3v8M81 506.3v6M81 597.3v8M81 630.3v17M82 608.3v3M82 715.3v10M83 621.3v13M83 639.3v17M83 697.3v29M84 537.3v2M84 605.3v3M84 638.3v6M84 691.3v35M85 545.3v5M85 563.3v3M86 554.3v6M86 650.3v9M86 682.3v1M86 759.3v2M87 591.3v3M87 677.3v11M87 754.3v8M88 539.3v2M88 752.3v10M89 495.3v5M89 508.3v5M89 612.3v4M89 750.3v12M90 748.3v5M90 756.3v6M91 747.3v13M92 746.3v13M93 596.3v23M93 654.3v8M93 743.3v15M94 500.3v4M94 528.3v2M94 580.3v3M94 621.3v9M94 738.3v18M95 638.3v31M95 732.3v16M95 751.3v4M96 549.3v2M96 633.3v6M96 659.3v12M96 679.3v11M96 735.3v13M96 750.3v5M97 623.3v4M97 666.3v20M97 738.3v16M98 617.3v2M98 739.3v14M99 538.3v5M99 561.3v4M99 586.3v7M99 597.3v9M99 741.3v11M100 588.3v6M100 618.3v10M100 640.3v1M100 745.3v4M101 485.3v5M101 594.3v3M101 616.3v6M101 630.3v11M102 514.3v4M102 541.3v3M102 593.3v4M102 623.3v14M102 742.3v4M103 489.3v3M103 624.3v25M103 688.3v12M103 741.3v3M104 477.3v4M104 528.3v6M104 646.3v4M104 683.3v10M104 762.3v1M105 476.3v6M105 490.3v8M105 554.3v4M105 567.3v6M105 725.3v4M105 762.3v1M106 480.3v4M106 506.3v5M106 720.3v20M107 492.3v8M107 722.3v20M108 509.3v6M108 628.3v36M108 725.3v17M108 769.3v1M109 519.3v1M109 597.3v11M109 649.3v14M109 701.3v5M109 727.3v15M110 570.3v27M110 731.3v9M111 506.3v4M111 511.3v16M111 576.3v10M111 734.3v2M112 478.3v3M112 508.3v3M112 566.3v12M113 600.3v3M114 566.3v2M114 598.3v3M114 700.3v1M114 721.3v6M115 501.3v2M115 530.3v3M115 595.3v3M115 666.3v2M115 670.3v1M115 693.3v22M115 717.3v11M116 481.3v3M116 533.3v7M116 614.3v10M116 690.3v9M116 725.3v3M117 587.3v14M117 637.3v7M117 698.3v11M117 723.3v4M118 612.3v3M118 708.3v16M119 600.3v7M119 623.3v12M119 640.3v1M119 668.3v35M120 518.3v1M120 645.3v8M120 661.3v8M120 689.3v11M121 516.3v6M121 580.3v25M121 665.3v4M121 690.3v7M121 737.3v4M122 623.3v7M122 668.3v3M122 685.3v6M122 721.3v15M122 737.3v7M123 552.3v5M123 629.3v7M123 667.3v7M123 675.3v8M123 717.3v8M123 742.3v3M124 681.3v4M124 716.3v9M124 743.3v3M125 553.3v1M125 605.3v10M125 720.3v13M125 743.3v3M126 515.3v2M126 518.3v3M126 569.3v12M126 603.3v4M126 641.3v5M126 670.3v5M126 733.3v9M126 743.3v4M127 477.3v2M127 516.3v3M127 548.3v2M127 554.3v7M127 615.3v6M127 654.3v14M127 673.3v7M127 733.3v4M127 743.3v4M128 626.3v4M128 662.3v7M128 689.3v19M128 732.3v4M128 740.3v7M129 527.3v4M129 588.3v3M129 660.3v9M129 693.3v14M129 733.3v12M130 508.3v8M130 644.3v4M130 666.3v36M130 734.3v11M131 638.3v4M131 662.3v6M131 736.3v7M132 568.3v22M132 601.3v25M132 667.3v9M133 544.3v3M133 579.3v3M133 583.3v1M133 662.3v19M134 548.3v2M134 573.3v8M134 588.3v8M134 637.3v16M134 664.3v41M135 565.3v2M135 625.3v6M135 667.3v5M135 684.3v28M136 669.3v7M136 682.3v44M136 732.3v6M137 534.3v4M137 627.3v18M137 671.3v6M137 688.3v37M137 729.3v1M137 731.3v10M138 539.3v15M138 635.3v7M138 677.3v20M138 716.3v7M138 732.3v16M139 501.3v8M139 544.3v56M139 627.3v2M139 685.3v7M139 719.3v32M140 510.3v3M140 561.3v5M140 724.3v28M141 475.3v2M141 509.3v11M141 683.3v12M141 739.3v14M142 538.3v4M142 671.3v18M142 739.3v4M142 744.3v1M142 748.3v5M143 522.3v12M143 573.3v7M143 596.3v13M143 632.3v12M143 740.3v3M143 748.3v5M144 500.3v12M144 528.3v3M144 560.3v2M144 594.3v10M144 648.3v6M144 676.3v5M144 740.3v6M144 747.3v5M145 531.3v6M145 649.3v11M145 740.3v3M145 745.3v6M146 504.3v4M146 542.3v1M146 594.3v5M146 622.3v9M146 740.3v3M146 746.3v5M147 576.3v18M147 614.3v6M147 740.3v10M148 529.3v21M148 570.3v7M148 592.3v11M148 633.3v5M148 656.3v15M148 741.3v9M149 574.3v15M149 624.3v5M149 656.3v28M149 743.3v6M150 616.3v7M150 644.3v4M151 608.3v9M151 627.3v16M151 696.3v12M152 676.3v23M152 705.3v7M153 593.3v9M153 679.3v21M153 702.3v8M154 599.3v10M154 678.3v10M154 706.3v5M155 684.3v10M155 700.3v10M156 523.3v5M156 551.3v3M156 665.3v19M156 703.3v9M157 499.3v3M157 561.3v3M157 661.3v6M157 698.3v8M158 567.3v4M158 589.3v34M158 700.3v7M159 578.3v3M159 629.3v22M159 703.3v6M160 502.3v4M160 532.3v4M160 603.3v7M160 669.3v39M160 732.3v1M161 528.3v4M161 561.3v1M161 618.3v2M161 649.3v20M161 691.3v19M161 727.3v9M162 617.3v8M162 642.3v20M162 695.3v35M162 733.3v5M163 632.3v1M163 634.3v11M163 671.3v5M163 695.3v8M163 710.3v21M163 732.3v6M164 638.3v6M164 672.3v6M164 693.3v8M164 712.3v25M165 547.3v2M165 634.3v37M165 678.3v18M165 713.3v23M166 540.3v6M166 547.3v6M166 676.3v40M167 619.3v16M167 671.3v5M167 694.3v22M167 732.3v8M168 602.3v9M168 636.3v3M168 672.3v5M168 696.3v22M168 733.3v9M169 503.3v1M169 710.3v9M169 733.3v9M170 504.3v5M170 643.3v1M170 645.3v1M170 682.3v35M170 734.3v6M171 490.3v3M171 697.3v14M172 475.3v16M172 518.3v3M172 555.3v3M172 609.3v3M172 646.3v9M173 499.3v6M173 550.3v1M173 615.3v6M173 648.3v8M174 499.3v5M174 541.3v5M174 607.3v48M175 500.3v3M175 583.3v4M175 646.3v16M176 481.3v3M176 545.3v8M176 611.3v4M176 648.3v8M176 667.3v31M177 698.3v6M178 578.3v2M178 581.3v15M178 658.3v4M178 701.3v9M179 663.3v39M179 704.3v2M179 707.3v22M180 583.3v14M180 658.3v12M180 686.3v18M180 709.3v23M181 526.3v4M181 654.3v12M181 708.3v5M181 720.3v10M182 647.3v17M183 507.3v4M183 556.3v3M183 645.3v4M183 667.3v6M184 486.3v3M184 503.3v9M184 543.3v1M184 678.3v5M185 519.3v5M185 645.3v5M185 677.3v5M186 567.3v8M186 576.3v9M186 671.3v1M186 673.3v5M187 486.3v2M187 618.3v7M187 670.3v9M188 637.3v25M188 676.3v5M189 488.3v7M189 603.3v3M189 644.3v32M190 536.3v3M190 602.3v2M190 742.3v1M191 583.3v13M191 681.3v28M191 742.3v6M192 541.3v26M192 590.3v5M192 620.3v10M192 647.3v14M192 676.3v10M192 696.3v19M192 740.3v11M193 589.3v1M193 605.3v7M193 685.3v18M193 709.3v7M193 741.3v11M194 558.3v2M194 590.3v5M194 624.3v5M194 699.3v14M194 742.3v10M195 524.3v13M195 603.3v10M195 616.3v1M195 618.3v7M195 697.3v3M195 742.3v8M196 535.3v4M197 512.3v13M197 536.3v17M197 609.3v5M197 662.3v9M198 614.3v5M198 671.3v7M199 560.3v4M200 484.3v4M200 605.3v5M200 623.3v5M200 724.3v8M201 609.3v7M201 624.3v17M201 652.3v17M201 722.3v10M202 499.3v3M202 546.3v5M202 628.3v8M202 643.3v13M202 722.3v9M203 631.3v16M203 719.3v13M204 594.3v7M204 679.3v8M204 711.3v8M204 731.3v3M205 585.3v4M205 612.3v5M205 678.3v12M205 707.3v7M205 730.3v3M206 590.3v7M206 598.3v2M206 601.3v6M206 681.3v7M206 703.3v10M206 728.3v4M207 549.3v1M207 551.3v14M207 592.3v9M207 700.3v9M207 719.3v1M207 722.3v8M208 481.3v2M208 704.3v19M209 543.3v20M209 639.3v25M209 681.3v5M209 701.3v7M209 715.3v5M210 635.3v3M210 669.3v4M210 674.3v9M211 643.3v29M211 676.3v1M211 678.3v6M211 706.3v11M212 482.3v2M212 530.3v1M212 552.3v3M212 646.3v9M213 497.3v4M213 553.3v3M213 626.3v22M215 592.3v4M215 668.3v8M216 533.3v1M216 670.3v7M217 528.3v2M217 559.3v5M217 669.3v9M218 594.3v6M218 625.3v18M218 645.3v20M219 561.3v2M219 599.3v6M219 615.3v25M219 742.3v6M220 531.3v5M220 549.3v16M220 625.3v7M220 684.3v23M220 746.3v3M221 482.3v8M221 628.3v9M221 675.3v9M221 705.3v5M221 726.3v9M221 747.3v3M222 555.3v1M222 558.3v1M222 681.3v9M222 706.3v7M222 723.3v12M223 541.3v16M223 564.3v7M223 595.3v9M223 607.3v15M223 688.3v8M223 708.3v5M223 724.3v10M224 495.3v7M224 619.3v5M224 693.3v7M224 709.3v6M224 724.3v10M224 753.3v1M225 552.3v3M225 581.3v4M225 629.3v23M225 692.3v6M225 711.3v22M225 752.3v2M226 476.3v4M226 616.3v6M226 664.3v6M226 699.3v17M226 723.3v10M226 753.3v1M227 477.3v3M227 627.3v1M227 658.3v9M227 671.3v1M227 722.3v10M228 489.3v2M228 592.3v6M228 613.3v18M228 719.3v13M229 501.3v2M229 595.3v4M229 640.3v34M229 714.3v19M230 621.3v23M230 658.3v12M230 712.3v9M230 730.3v3M231 507.3v8M231 529.3v6M231 536.3v1M231 540.3v3M231 646.3v10M231 713.3v5M231 719.3v1M231 730.3v4M232 529.3v1M232 548.3v2M232 622.3v14M232 689.3v12M232 710.3v23M233 597.3v36M233 684.3v17M233 712.3v12M234 483.3v2M234 680.3v15M235 681.3v10M236 715.3v6M237 479.3v11M237 647.3v38M237 712.3v12M238 541.3v2M238 567.3v16M238 596.3v3M238 710.3v14M238 730.3v9M239 710.3v15M239 727.3v15M239 750.3v8M240 478.3v2M240 616.3v5M240 725.3v35M241 530.3v11M241 542.3v7M241 617.3v1M241 662.3v12M241 728.3v32M242 663.3v19M242 697.3v2M242 732.3v27M243 598.3v9M243 696.3v2M243 741.3v9M243 753.3v6M244 594.3v8M244 742.3v16M245 572.3v21M245 594.3v10M245 742.3v15M246 522.3v6M246 593.3v2M246 744.3v13M247 564.3v16M247 587.3v5M247 631.3v6M247 644.3v22M247 745.3v12M248 481.3v2M248 643.3v36M248 748.3v8M249 563.3v16M249 630.3v8M249 669.3v9M249 751.3v4M250 488.3v2M250 523.3v5M250 660.3v14M250 683.3v1M250 692.3v23M251 487.3v4M251 659.3v10M251 680.3v1M251 682.3v14M251 713.3v6M252 547.3v1M252 668.3v25M252 715.3v7M253 543.3v3M253 581.3v32M253 656.3v26M253 708.3v14M254 601.3v3M254 620.3v3M254 662.3v2M254 680.3v1M255 550.3v1M255 603.3v3M255 613.3v6M255 770.3v1M256 515.3v4M256 769.3v7M257 483.3v6M257 512.3v7M257 597.3v15M257 684.3v28M257 770.3v9M258 491.3v4M258 532.3v5M258 588.3v2M258 592.3v1M258 604.3v7M258 679.3v43M258 779.3v2M259 534.3v4M259 681.3v18M259 711.3v19M260 516.3v6M260 633.3v5M260 646.3v8M260 718.3v14M261 521.3v5M261 620.3v5M261 656.3v8M261 722.3v9M262 549.3v5M262 604.3v11M262 663.3v12M263 555.3v7M263 604.3v3M263 660.3v21M264 647.3v15M264 674.3v9M265 537.3v4M265 575.3v11M265 589.3v2M265 606.3v26M265 652.3v7M266 495.3v3M266 575.3v1M266 597.3v4M266 644.3v10M267 551.3v4M267 570.3v4M267 595.3v3M267 614.3v2M268 498.3v6M268 542.3v2M268 602.3v13M269 553.3v2M269 591.3v18M269 612.3v4M269 635.3v23M269 687.3v7M270 515.3v1M270 558.3v2M270 587.3v4M270 634.3v5M270 686.3v5M271 533.3v3M271 556.3v1M271 581.3v3M271 639.3v4M271 684.3v5M272 485.3v4M272 641.3v39M272 683.3v10M272 718.3v22M273 673.3v5M273 692.3v6M273 713.3v27M274 678.3v21M274 713.3v27M275 616.3v10M275 688.3v9M275 716.3v6M275 733.3v6M276 693.3v8M277 549.3v12M277 732.3v5M278 690.3v1M278 728.3v11M279 565.3v4M279 617.3v5M279 724.3v6M279 736.3v5M280 519.3v8M280 603.3v17M280 722.3v7M280 736.3v5M281 535.3v3M281 554.3v2M281 709.3v9M281 725.3v16M282 625.3v51M282 707.3v8M282 730.3v11M283 622.3v10M283 657.3v6M283 675.3v5M283 729.3v13M284 490.3v4M284 532.3v1M284 559.3v5M284 664.3v12M284 727.3v5M284 737.3v6M285 506.3v3M285 537.3v6M285 562.3v12M285 726.3v6M285 734.3v8M286 475.3v10M286 531.3v35M286 600.3v3M286 730.3v12M287 570.3v6M287 604.3v13M287 618.3v22M287 736.3v3M288 550.3v3M288 584.3v5M288 620.3v3M288 650.3v9M289 492.3v2M289 567.3v3M289 591.3v3M289 632.3v18M290 568.3v5M290 588.3v4M290 683.3v6"/><path stroke="#10b0cc" stroke-width="1.0" d="M39 525.3v1M40 550.3v9M40 675.3v6M40 690.3v6M41 514.3v8M41 563.3v3M41 670.3v5M41 695.3v4M42 663.3v8M42 698.3v5M43 521.3v4M43 543.3v7M43 566.3v7M43 665.3v12M43 689.3v10M44 589.3v36M45 544.3v10M45 616.3v12M46 538.3v17M48 526.3v10M50 643.3v11M51 475.3v47M51 529.3v1M51 642.3v8M51 651.3v27M52 487.3v7M52 619.3v15M52 641.3v16M53 475.3v2M53 478.3v5M53 641.3v14M54 574.3v6M55 570.3v7M55 713.3v11M56 711.3v14M57 475.3v7M57 545.3v17M57 691.3v10M57 709.3v16M58 486.3v8M58 643.3v7M58 686.3v35M60 688.3v6M61 602.3v2M61 635.3v6M61 656.3v40M62 559.3v12M62 584.3v18M62 632.3v5M63 504.3v10M63 517.3v15M63 567.3v22M63 598.3v3M63 602.3v1M63 627.3v4M64 507.3v12M64 608.3v24M65 506.3v25M65 626.3v1M65 630.3v34M65 667.3v1M65 669.3v1M65 671.3v6M66 574.3v9M66 615.3v28M66 667.3v14M67 540.3v7M67 576.3v5M67 626.3v6M67 664.3v5M68 562.3v13M68 637.3v8M68 657.3v8M68 710.3v4M69 580.3v7M69 707.3v11M70 500.3v7M70 705.3v4M70 712.3v8M71 507.3v39M71 602.3v13M71 706.3v14M72 525.3v11M72 603.3v19M73 564.3v4M74 646.3v17M75 594.3v15M75 645.3v7M75 661.3v8M76 648.3v21M78 508.3v5M78 540.3v6M78 629.3v2M79 535.3v21M79 584.3v4M79 638.3v15M79 654.3v1M79 656.3v16M80 497.3v14M80 545.3v3M80 581.3v5M80 636.3v9M81 502.3v4M81 587.3v10M82 562.3v46M83 611.3v10M83 634.3v5M84 539.3v5M84 608.3v11M84 622.3v16M85 550.3v13M86 548.3v6M87 594.3v15M88 520.3v3M88 534.3v5M89 488.3v7M89 513.3v7M89 532.3v3M89 593.3v19M90 753.3v3M94 504.3v24M94 583.3v4M94 612.3v9M95 617.3v1M95 619.3v19M95 748.3v3M96 551.3v5M96 625.3v8M96 671.3v8M96 748.3v2M97 543.3v1M97 545.3v2M97 618.3v5M98 554.3v4M98 613.3v4M99 543.3v18M99 593.3v4M100 535.3v11M100 577.3v11M100 628.3v12M101 588.3v6M101 622.3v8M102 508.3v6M102 544.3v49M103 492.3v8M103 520.3v1M103 522.3v5M103 530.3v1M103 649.3v10M103 675.3v13M104 481.3v16M104 502.3v14M104 534.3v8M104 650.3v7M104 671.3v12M105 482.3v8M105 558.3v9M106 484.3v22M108 497.3v12M109 475.3v8M109 513.3v6M109 627.3v22M111 562.3v14M112 481.3v6M112 501.3v7M113 585.3v15M114 568.3v9M114 592.3v6M115 499.3v2M115 533.3v10M115 565.3v16M115 582.3v13M115 715.3v2M116 475.3v6M116 699.3v7M116 709.3v16M117 601.3v13M117 627.3v10M117 709.3v14M119 607.3v16M120 519.3v30M120 620.3v25M120 669.3v20M121 522.3v13M121 573.3v7M121 669.3v7M121 681.3v9M122 607.3v16M122 671.3v14M122 736.3v1M123 557.3v24M123 620.3v9M123 674.3v1M123 725.3v17M124 677.3v4M124 725.3v18M125 556.3v1M125 615.3v18M125 636.3v1M125 654.3v1M125 733.3v10M126 581.3v22M126 646.3v24M126 742.3v1M127 519.3v18M127 561.3v20M127 608.3v7M127 668.3v5M127 737.3v6M128 621.3v5M128 669.3v20M128 736.3v4M129 523.3v4M129 591.3v5M129 669.3v24M130 648.3v18M131 642.3v8M131 653.3v9M132 590.3v11M132 626.3v12M132 660.3v7M133 547.3v7M133 569.3v10M133 582.3v1M133 584.3v13M133 633.3v25M134 550.3v7M134 562.3v1M134 564.3v9M134 596.3v8M134 630.3v7M135 567.3v10M135 618.3v7M135 672.3v12M136 475.3v11M136 676.3v6M137 528.3v6M137 677.3v11M137 725.3v4M137 730.3v1M138 631.3v4M138 723.3v9M142 527.3v11M142 743.3v1M142 745.3v3M143 580.3v16M143 743.3v5M144 493.3v7M144 512.3v16M144 562.3v10M144 584.3v10M144 604.3v44M144 746.3v1M145 475.3v3M145 517.3v14M145 616.3v33M145 743.3v2M146 508.3v12M146 531.3v11M146 599.3v23M146 743.3v3M147 517.3v2M147 568.3v8M147 594.3v20M148 577.3v15M148 638.3v18M149 629.3v7M149 645.3v11M150 623.3v21M151 493.3v4M151 617.3v10M152 505.3v3M152 699.3v6M153 557.3v36M153 700.3v2M154 543.3v24M154 596.3v1M154 688.3v10M154 700.3v6M155 694.3v6M156 528.3v3M156 543.3v8M156 684.3v19M157 502.3v8M157 554.3v7M157 667.3v31M158 565.3v2M158 623.3v17M158 685.3v15M159 581.3v9M159 593.3v1M159 597.3v1M159 599.3v30M159 651.3v9M159 673.3v30M160 498.3v4M160 536.3v8M160 557.3v4M160 610.3v10M160 641.3v28M161 475.3v11M161 532.3v6M161 558.3v3M161 620.3v5M161 642.3v7M162 625.3v17M162 730.3v3M163 645.3v26M163 703.3v7M163 731.3v1M164 644.3v28M164 701.3v11M165 696.3v17M166 546.3v1M167 676.3v18M168 611.3v11M168 630.3v6M168 677.3v19M169 475.3v14M169 494.3v9M169 684.3v26M170 475.3v29M170 615.3v2M170 638.3v5M171 484.3v6M172 521.3v6M172 547.3v8M172 631.3v15M173 505.3v10M173 545.3v5M173 621.3v3M173 637.3v11M174 504.3v37M176 484.3v15M176 531.3v14M176 604.3v7M176 656.3v11M177 563.3v11M177 672.3v26M178 693.3v8M179 702.3v2M179 706.3v1M180 552.3v31M180 670.3v16M180 704.3v5M181 530.3v7M183 511.3v7M183 551.3v5M183 649.3v18M184 480.3v6M184 512.3v31M184 649.3v5M184 669.3v9M185 513.3v6M185 650.3v27M186 575.3v1M187 475.3v11M188 662.3v14M189 596.3v7M190 539.3v6M190 596.3v6M192 567.3v23M192 630.3v17M192 686.3v10M193 612.3v13M193 633.3v5M193 703.3v6M194 595.3v14M194 616.3v8M195 501.3v23M195 537.3v1M195 613.3v3M195 617.3v1M196 526.3v9M197 504.3v8M197 614.3v14M197 650.3v12M198 619.3v19M198 644.3v27M199 521.3v39M200 610.3v13M201 616.3v8M202 486.3v13M202 551.3v4M202 636.3v7M204 719.3v12M205 589.3v23M205 714.3v16M206 597.3v1M206 600.3v1M206 713.3v15M207 709.3v10M207 720.3v2M208 475.3v6M209 476.3v1M209 525.3v18M209 708.3v7M210 638.3v11M210 652.3v17M210 673.3v1M212 477.3v5M212 531.3v21M213 489.3v8M213 544.3v9M214 509.3v16M214 559.3v18M214 603.3v40M215 596.3v11M215 625.3v43M216 534.3v10M216 658.3v12M217 530.3v29M217 659.3v10M218 589.3v5M218 643.3v2M219 563.3v2M219 575.3v9M219 589.3v10M220 536.3v13M220 565.3v11M220 604.3v21M221 475.3v7M221 572.3v2M221 609.3v1M221 611.3v17M221 684.3v11M221 701.3v4M222 554.3v1M222 556.3v2M222 559.3v5M222 690.3v16M223 519.3v22M223 571.3v24M223 696.3v12M224 502.3v7M224 537.3v1M224 611.3v8M224 700.3v9M225 555.3v26M225 698.3v3M225 706.3v5M226 475.3v1M227 475.3v2M227 667.3v4M228 480.3v9M228 598.3v15M229 496.3v5M229 599.3v14M229 628.3v1M230 644.3v2M230 657.3v1M230 721.3v9M231 503.3v4M231 535.3v1M231 537.3v3M231 718.3v1M231 720.3v10M232 530.3v18M234 475.3v8M237 490.3v29M238 543.3v11M238 560.3v7M238 583.3v13M240 475.3v3M240 605.3v11M241 529.3v1M241 549.3v14M241 610.3v4M243 750.3v3M245 593.3v1M246 528.3v24M246 586.3v7M247 580.3v7M247 637.3v7M248 475.3v6M248 636.3v7M250 490.3v6M250 515.3v8M251 491.3v9M251 669.3v11M251 681.3v1M251 696.3v17M252 693.3v22M253 546.3v8M253 572.3v9M253 682.3v26M254 604.3v16M255 547.3v3M255 606.3v7M256 483.3v5M256 507.3v8M257 489.3v23M258 495.3v9M258 519.3v13M259 527.3v7M260 507.3v9M260 638.3v8M261 510.3v11M261 625.3v5M261 650.3v6M262 554.3v34M262 589.3v15M262 615.3v5M262 653.3v10M263 562.3v13M263 598.3v6M263 654.3v6M265 541.3v34M265 586.3v3M265 591.3v3M265 632.3v20M266 488.3v7M266 601.3v13M267 555.3v15M267 598.3v16M268 504.3v11M268 533.3v9M269 555.3v5M269 581.3v10M269 658.3v29M270 560.3v6M270 578.3v9M270 639.3v12M270 679.3v7M271 511.3v22M271 557.3v5M271 577.3v4M271 643.3v18M271 663.3v21M272 680.3v3M273 678.3v14M279 730.3v6M280 527.3v7M280 729.3v7M281 538.3v16M283 506.3v16M283 663.3v12M284 494.3v8M284 564.3v8M284 732.3v5M285 509.3v8M285 529.3v8M285 574.3v4M285 732.3v2M286 566.3v12M286 594.3v6M287 576.3v15M287 593.3v11M288 553.3v15M288 573.3v11M288 623.3v5M288 643.3v7M289 487.3v5M289 570.3v21M290 573.3v15"/><path stroke="#50c890" stroke-width="1.0" d="M39 516.3v9M39 526.3v1M40 532.3v18M40 681.3v9M41 522.3v8M41 559.3v4M41 675.3v20M42 671.3v27M43 487.3v5M43 517.3v4M43 550.3v16M51 650.3v1M54 535.3v22M54 566.3v1M54 568.3v6M55 518.3v4M55 538.3v32M58 494.3v9M61 604.3v6M61 629.3v6M62 602.3v5M62 627.3v5M63 514.3v3M63 601.3v1M63 603.3v24M64 519.3v12M65 606.3v20M65 627.3v3M66 569.3v5M66 643.3v24M67 547.3v29M67 632.3v16M67 651.3v13M68 645.3v12M70 507.3v2M70 709.3v3M75 652.3v9M78 513.3v6M78 532.3v8M79 515.3v20M79 635.3v3M80 578.3v3M81 580.3v7M84 544.3v8M84 619.3v3M88 523.3v11M89 475.3v1M89 477.3v11M89 520.3v12M94 587.3v25M95 614.3v3M95 618.3v1M96 556.3v7M96 619.3v6M97 547.3v8M97 589.3v7M97 610.3v8M98 536.3v18M98 609.3v4M100 546.3v14M100 562.3v15M101 568.3v20M102 497.3v11M103 500.3v20M103 521.3v1M103 527.3v3M103 531.3v8M103 659.3v16M104 497.3v5M104 542.3v9M104 579.3v2M104 657.3v14M109 483.3v12M109 504.3v1M109 506.3v7M112 487.3v14M114 577.3v15M115 475.3v18M115 581.3v1M116 706.3v3M117 614.3v13M120 549.3v7M121 535.3v11M121 567.3v6M121 676.3v5M122 584.3v23M123 581.3v39M125 559.3v3M125 563.3v3M125 633.3v3M125 637.3v17M127 581.3v27M128 528.3v37M128 611.3v10M131 650.3v3M132 638.3v22M133 554.3v15M133 597.3v12M133 615.3v18M134 557.3v5M134 563.3v1M134 604.3v7M134 619.3v11M135 577.3v41M136 486.3v23M137 502.3v1M137 505.3v1M137 519.3v9M142 521.3v6M144 484.3v9M144 572.3v12M145 478.3v39M146 520.3v11M147 519.3v16M147 540.3v2M147 548.3v1M147 551.3v1M147 557.3v2M147 560.3v8M149 636.3v9M151 483.3v10M154 531.3v12M154 567.3v5M154 573.3v6M154 698.3v2M155 498.3v31M155 530.3v4M157 510.3v5M157 553.3v1M158 666.3v19M159 475.3v5M159 492.3v1M159 495.3v9M159 590.3v3M159 594.3v3M159 598.3v1M159 660.3v13M160 475.3v7M160 544.3v13M160 620.3v15M161 538.3v20M161 625.3v9M161 635.3v7M168 622.3v8M169 489.3v5M169 607.3v12M170 617.3v12M170 634.3v4M172 527.3v20M172 623.3v8M173 515.3v30M176 499.3v32M176 598.3v6M177 475.3v2M177 511.3v5M177 574.3v5M181 537.3v6M181 573.3v7M182 576.3v3M183 550.3v1M184 475.3v5M184 654.3v15M189 587.3v9M190 545.3v28M190 585.3v11M193 625.3v8M194 609.3v7M196 515.3v11M197 648.3v2M198 638.3v6M209 475.3v1M209 517.3v8M210 649.3v3M212 475.3v2M213 475.3v14M213 534.3v10M214 525.3v34M214 587.3v16M215 607.3v18M216 655.3v3M217 648.3v11M219 584.3v5M220 576.3v9M220 593.3v11M221 574.3v5M221 601.3v1M221 608.3v1M221 610.3v1M221 695.3v6M224 509.3v5M224 530.3v7M225 701.3v5M228 475.3v5M229 475.3v21M229 613.3v15M240 578.3v27M241 563.3v13M241 606.3v4M246 581.3v5M250 496.3v19M251 500.3v5M252 475.3v24M252 500.3v1M253 554.3v18M255 480.3v17M255 526.3v21M256 488.3v19M258 504.3v15M259 518.3v9M260 494.3v13M261 504.3v6M261 630.3v5M261 637.3v2M261 640.3v10M262 588.3v1M263 575.3v12M263 588.3v10M266 476.3v12M268 515.3v18M269 560.3v8M269 569.3v2M269 572.3v9M270 566.3v12M270 651.3v28M271 562.3v15M271 661.3v2M280 534.3v5M285 517.3v12M286 578.3v16M288 568.3v5M288 628.3v15M289 482.3v5"/><path stroke="#c0c840" stroke-width="1.0" d="M41 530.3v29M43 492.3v25M54 516.3v19M54 557.3v9M54 567.3v1M55 522.3v16M61 610.3v19M62 607.3v20M67 648.3v3M78 519.3v13M89 476.3v1M97 555.3v21M97 588.3v1M97 596.3v14M98 591.3v18M100 560.3v2M104 551.3v28M109 495.3v9M109 505.3v1M121 554.3v13M128 593.3v18M133 609.3v6M134 611.3v8M137 506.3v13M144 475.3v9M147 535.3v5M147 542.3v6M147 549.3v2M147 552.3v5M147 559.3v1M151 482.3v1M155 529.3v1M157 515.3v18M159 480.3v12M159 493.3v2M161 634.3v1M170 629.3v5M177 477.3v34M181 569.3v4M182 539.3v37M189 569.3v18M190 573.3v12M196 513.3v2M217 639.3v9M220 585.3v8M221 579.3v22M224 514.3v16M241 576.3v30M255 497.3v29M259 509.3v9M261 635.3v2M261 639.3v1M263 587.3v1M269 568.3v1M269 571.3v1"/><linearGradient id="cdark" x1="0" y1="0" x2="0" y2="1"><stop offset="0" stop-color="#000" stop-opacity="0.22"/><stop offset="0.45" stop-color="#000" stop-opacity="0.06"/><stop offset="0.6" stop-color="#000" stop-opacity="0"/></linearGradient><rect x="38.5" y="475.3" width="252.5" height="309.7" fill="url(#cdark)"/></g>
<rect x="297.5" y="475.5" width="12.5" height="309.5" fill="url(#jg)"/>
<text transform="translate(35.2,757.95) scale(0.76,1)" font-size="10.7" text-anchor="end" fill="#474747" font-family="DejaVu Sans, sans-serif">0.05</text>
<text transform="translate(35.2,727) scale(0.76,1)" font-size="10.7" text-anchor="end" fill="#474747" font-family="DejaVu Sans, sans-serif">0.1</text>
<text transform="translate(35.2,696.05) scale(0.76,1)" font-size="10.7" text-anchor="end" fill="#474747" font-family="DejaVu Sans, sans-serif">0.15</text>
<text transform="translate(35.2,665.1) scale(0.76,1)" font-size="10.7" text-anchor="end" fill="#474747" font-family="DejaVu Sans, sans-serif">0.2</text>
<text transform="translate(35.2,634.15) scale(0.76,1)" font-size="10.7" text-anchor="end" fill="#474747" font-family="DejaVu Sans, sans-serif">0.25</text>
<text transform="translate(35.2,603.2) scale(0.76,1)" font-size="10.7" text-anchor="end" fill="#474747" font-family="DejaVu Sans, sans-serif">0.3</text>
<text transform="translate(35.2,572.25) scale(0.76,1)" font-size="10.7" text-anchor="end" fill="#474747" font-family="DejaVu Sans, sans-serif">0.35</text>
<text transform="translate(35.2,541.3) scale(0.76,1)" font-size="10.7" text-anchor="end" fill="#474747" font-family="DejaVu Sans, sans-serif">0.4</text>
<text transform="translate(35.2,510.35) scale(0.76,1)" font-size="10.7" text-anchor="end" fill="#474747" font-family="DejaVu Sans, sans-serif">0.45</text>
<text transform="translate(35.2,479.4) scale(0.76,1)" font-size="10.7" text-anchor="end" fill="#474747" font-family="DejaVu Sans, sans-serif">0.5</text>
<text transform="translate(75.9,799.6) scale(0.76,1)" font-size="10.7" text-anchor="middle" fill="#474747" font-family="DejaVu Sans, sans-serif">200</text>
<text transform="translate(113.6,799.6) scale(0.76,1)" font-size="10.7" text-anchor="middle" fill="#474747" font-family="DejaVu Sans, sans-serif">400</text>
<text transform="translate(151.3,799.6) scale(0.76,1)" font-size="10.7" text-anchor="middle" fill="#474747" font-family="DejaVu Sans, sans-serif">600</text>
<text transform="translate(189,799.6) scale(0.76,1)" font-size="10.7" text-anchor="middle" fill="#474747" font-family="DejaVu Sans, sans-serif">800</text>
<text transform="translate(226.7,799.6) scale(0.76,1)" font-size="10.7" text-anchor="middle" fill="#474747" font-family="DejaVu Sans, sans-serif">1000</text>
<text transform="translate(264.4,799.6) scale(0.76,1)" font-size="10.7" text-anchor="middle" fill="#474747" font-family="DejaVu Sans, sans-serif">1200</text>
<text transform="translate(164.8,814.6) scale(0.71,1)" font-size="11.8" text-anchor="middle" fill="#474747" font-family="DejaVu Sans, sans-serif">Time</text>
<text transform="translate(13.6,629.8) rotate(-90) scale(1,0.68)" font-size="12.6" text-anchor="middle" fill="#474747" font-family="DejaVu Sans, sans-serif">Frequency</text>
<text transform="translate(313,758.49) scale(0.66,1)" font-size="10.7" text-anchor="start" fill="#474747" font-family="DejaVu Sans, sans-serif">0.005</text>
<text transform="translate(313,727.48) scale(0.66,1)" font-size="10.7" text-anchor="start" fill="#474747" font-family="DejaVu Sans, sans-serif">0.01</text>
<text transform="translate(313,696.47) scale(0.66,1)" font-size="10.7" text-anchor="start" fill="#474747" font-family="DejaVu Sans, sans-serif">0.015</text>
<text transform="translate(313,665.46) scale(0.66,1)" font-size="10.7" text-anchor="start" fill="#474747" font-family="DejaVu Sans, sans-serif">0.02</text>
<text transform="translate(313,634.45) scale(0.66,1)" font-size="10.7" text-anchor="start" fill="#474747" font-family="DejaVu Sans, sans-serif">0.025</text>
<text transform="translate(313,603.44) scale(0.66,1)" font-size="10.7" text-anchor="start" fill="#474747" font-family="DejaVu Sans, sans-serif">0.03</text>
<text transform="translate(313,572.43) scale(0.66,1)" font-size="10.7" text-anchor="start" fill="#474747" font-family="DejaVu Sans, sans-serif">0.035</text>
<text transform="translate(313,541.42) scale(0.66,1)" font-size="10.7" text-anchor="start" fill="#474747" font-family="DejaVu Sans, sans-serif">0.04</text>
<text transform="translate(313,510.41) scale(0.66,1)" font-size="10.7" text-anchor="start" fill="#474747" font-family="DejaVu Sans, sans-serif">0.045</text>
<text transform="translate(313,479.4) scale(0.66,1)" font-size="10.7" text-anchor="start" fill="#474747" font-family="DejaVu Sans, sans-serif">0.05</text>
<text x="528.6" y="451.7" font-size="26" font-weight="bold" font-family="Liberation Serif, serif" text-anchor="middle" fill="#000">D</text>
<text x="359" y="470.4" font-size="11" fill="#303030" font-weight="bold" font-family="DejaVu Sans, sans-serif" textLength="285.9" lengthAdjust="spacingAndGlyphs" text-anchor="start">Masked Time-Frequency Plot for Frequencies around 0.128</text>
<rect x="374.7" y="475.3" width="254.8" height="309.3" fill="#000094"/>
<g stroke-width="1"><path stroke="#3dcc8f" d="M375.5 699.6v6.1M376.5 699.6v3.1M380.5 709.9v1.0M381.5 706.8v1.0M382.5 699.6v1.0M386.5 699.6v3.1M386.5 706.8v5.1M388.5 709.9v2.0M391.5 709.9v2.0M392.5 700.6v4.1M392.5 705.8v6.1M393.5 699.6v12.3M395.5 699.6v4.1M396.5 702.7v1.0M397.5 700.6v7.2M398.5 709.9v1.0M403.5 699.6v4.1M404.5 699.6v7.2M404.5 707.8v2.0M405.5 700.6v1.0M405.5 706.8v1.0M405.5 708.8v1.0M422.5 704.7v1.0M423.5 699.6v6.1M440.5 703.7v4.1M441.5 709.9v1.0M442.5 708.8v3.1M447.5 706.8v5.1M448.5 700.6v1.0M449.5 699.6v1.0M450.5 708.8v1.0M450.5 710.9v1.0M452.5 702.7v7.2M453.5 699.6v7.2M454.5 699.6v4.1M460.5 707.8v1.0M461.5 707.8v2.0M461.5 710.9v1.0M462.5 699.6v1.0M462.5 705.8v1.0M462.5 707.8v1.0M463.5 702.7v9.2M492.5 699.6v1.0M495.5 704.7v5.1M508.5 699.6v1.0M509.5 708.8v3.1M514.5 703.7v1.0M514.5 705.8v2.0M515.5 699.6v12.3M518.5 699.6v1.0M520.5 700.6v6.1M521.5 699.6v1.0M521.5 701.6v8.2M521.5 710.9v1.0M522.5 699.6v4.1M523.5 699.6v4.1M524.5 707.8v1.0M524.5 709.9v1.0M525.5 700.6v7.2M542.5 702.7v1.0M542.5 706.8v1.0M542.5 708.8v1.0M542.5 710.9v1.0M549.5 708.8v3.1M550.5 700.6v1.0M550.5 706.8v1.0M551.5 701.6v3.1M551.5 705.8v3.1M551.5 710.9v1.0M552.5 708.8v3.1M553.5 699.6v2.0M554.5 703.7v3.1M554.5 707.8v4.1M555.5 699.6v12.3M556.5 699.6v1.0M556.5 702.7v1.0M556.5 705.8v1.0M556.5 707.8v4.1M557.5 706.8v5.1M558.5 699.6v4.1M558.5 704.7v1.0M558.5 706.8v1.0M558.5 708.8v3.1M559.5 699.6v1.0M559.5 701.6v6.1M560.5 708.8v1.0M561.5 699.6v2.0M562.5 700.6v1.0M562.5 705.8v1.0M562.5 707.8v4.1M563.5 707.8v3.1M568.5 699.6v4.1M568.5 705.8v6.1M581.5 708.8v3.1M582.5 706.8v4.1M583.5 699.6v5.1M583.5 706.8v1.0M584.5 701.6v1.0M585.5 710.9v1.0M596.5 703.7v5.1M596.5 709.9v1.0M597.5 700.6v6.1M598.5 699.6v6.1M598.5 706.8v1.0M598.5 709.9v2.0M599.5 699.6v8.2M600.5 708.8v1.0M600.5 710.9v1.0M608.5 699.6v12.3M609.5 703.7v1.0M609.5 706.8v4.1M619.5 709.9v1.0M620.5 703.7v8.2M621.5 701.6v10.2M622.5 700.6v1.0M622.5 702.7v4.1M623.5 699.6v7.2M624.5 699.6v4.1M625.5 708.8v3.1M626.5 703.7v8.2M627.5 700.6v7.2"/><path stroke="#1f6647" d="M375.5 705.8v1.0M377.5 707.8v1.0M380.5 710.9v1.0M382.5 700.6v2.0M386.5 703.7v1.0M386.5 705.8v1.0M392.5 699.6v1.0M404.5 706.8v1.0M405.5 699.6v1.0M440.5 707.8v1.0M440.5 709.9v1.0M449.5 700.6v1.0M449.5 706.8v1.0M451.5 700.6v1.0M453.5 706.8v1.0M462.5 706.8v1.0M463.5 701.6v1.0M491.5 702.7v1.0M493.5 703.7v1.0M494.5 706.8v1.0M495.5 709.9v1.0M521.5 709.9v1.0M524.5 708.8v1.0M543.5 704.7v2.0M543.5 708.8v3.1M554.5 706.8v1.0M557.5 704.7v1.0M558.5 703.7v1.0M562.5 704.7v1.0M571.5 710.9v1.0M583.5 704.7v2.0M584.5 699.6v2.0M596.5 708.8v1.0M596.5 710.9v1.0M597.5 699.6v1.0M597.5 706.8v1.0M598.5 707.8v2.0M609.5 704.7v1.0"/><path stroke="#ccb800" d="M375.5 706.8v1.0M375.5 708.8v3.1M376.5 702.7v7.2M376.5 710.9v1.0M436.5 702.7v1.0M436.5 704.7v3.1M437.5 703.7v5.1M461.5 699.6v3.1M461.5 706.8v1.0M462.5 708.8v1.0M465.5 702.7v1.0M465.5 704.7v1.0M471.5 708.8v3.1M483.5 703.7v2.0M483.5 706.8v1.0M484.5 708.8v3.1M485.5 702.7v2.0M485.5 705.8v4.1M486.5 700.6v2.0M504.5 699.6v4.1M505.5 699.6v2.0M505.5 702.7v1.0M507.5 710.9v1.0M522.5 704.7v1.0M533.5 702.7v1.0M533.5 705.8v1.0M533.5 710.9v1.0M534.5 707.8v4.1M536.5 708.8v1.0M563.5 699.6v5.1M564.5 700.6v2.0M566.5 707.8v4.1M580.5 704.7v2.0M609.5 700.6v1.0M609.5 702.7v1.0M610.5 701.6v2.0M611.5 706.8v5.1M612.5 699.6v3.1M613.5 702.7v2.0M613.5 708.8v1.0M613.5 710.9v1.0M614.5 704.7v2.0M614.5 707.8v2.0M614.5 710.9v1.0M615.5 701.6v6.1M627.5 707.8v2.0M629.5 700.6v1.0M629.5 702.7v1.0"/><path stroke="#8fcc3d" d="M375.5 707.8v1.0M377.5 700.6v7.2M378.5 699.6v3.1M389.5 699.6v3.1M390.5 704.7v7.2M391.5 700.6v7.2M407.5 709.9v2.0M408.5 703.7v1.0M408.5 705.8v6.1M409.5 703.7v8.2M459.5 699.6v3.1M460.5 699.6v5.1M460.5 705.8v1.0M460.5 708.8v1.0M461.5 702.7v3.1M461.5 709.9v1.0M463.5 699.6v2.0M464.5 703.7v8.2M465.5 699.6v2.0M465.5 703.7v1.0M465.5 705.8v6.1M481.5 706.8v5.1M482.5 699.6v9.2M482.5 709.9v1.0M483.5 699.6v4.1M483.5 705.8v1.0M483.5 707.8v4.1M484.5 699.6v1.0M484.5 701.6v1.0M485.5 710.9v1.0M486.5 702.7v3.1M486.5 706.8v5.1M487.5 699.6v8.2M488.5 699.6v4.1M491.5 699.6v3.1M492.5 701.6v1.0M492.5 703.7v4.1M493.5 699.6v3.1M493.5 704.7v7.2M494.5 709.9v2.0M501.5 699.6v4.1M502.5 699.6v12.3M503.5 699.6v2.0M503.5 702.7v9.2M504.5 703.7v8.2M505.5 704.7v2.0M507.5 709.9v1.0M508.5 700.6v8.2M509.5 702.7v1.0M509.5 704.7v4.1M511.5 699.6v1.0M520.5 699.6v1.0M522.5 705.8v6.1M523.5 703.7v5.1M523.5 709.9v2.0M524.5 699.6v4.1M525.5 699.6v1.0M532.5 703.7v8.2M533.5 699.6v3.1M533.5 703.7v2.0M533.5 706.8v2.0M551.5 708.8v1.0M558.5 705.8v1.0M558.5 707.8v1.0M569.5 707.8v4.1M570.5 700.6v6.1M570.5 707.8v1.0M570.5 709.9v2.0M571.5 703.7v7.2M572.5 700.6v1.0M609.5 701.6v1.0M609.5 705.8v1.0M610.5 703.7v8.2M611.5 699.6v7.2M613.5 699.6v1.0M614.5 703.7v1.0M614.5 709.9v1.0M616.5 707.8v4.1M627.5 709.9v2.0M628.5 699.6v9.2M629.5 699.6v1.0M629.5 704.7v7.2"/><path stroke="#47661f" d="M376.5 709.9v1.0M377.5 699.6v1.0M397.5 699.6v1.0M408.5 704.7v1.0M460.5 704.7v1.0M461.5 705.8v1.0M462.5 710.9v1.0M465.5 701.6v1.0M482.5 710.9v1.0M484.5 700.6v1.0M486.5 705.8v1.0M492.5 702.7v1.0M493.5 702.7v1.0M503.5 701.6v1.0M505.5 701.6v1.0M505.5 703.7v1.0M505.5 706.8v1.0M523.5 708.8v1.0M551.5 704.7v1.0M551.5 709.9v1.0M570.5 706.8v1.0M570.5 708.8v1.0M600.5 709.9v1.0M610.5 699.6v1.0M613.5 707.8v1.0M614.5 706.8v1.0M629.5 703.7v1.0"/><path stroke="#00008f" d="M377.5 708.8v2.0M379.5 699.6v1.0M379.5 701.6v7.2M410.5 704.7v1.0M410.5 706.8v2.0M429.5 699.6v2.0M429.5 702.7v9.2M431.5 707.8v4.1M432.5 701.6v7.2M433.5 702.7v1.0M433.5 704.7v7.2M443.5 707.8v4.1M444.5 703.7v8.2M445.5 701.6v1.0M445.5 703.7v8.2M446.5 699.6v1.0M447.5 699.6v1.0M455.5 702.7v1.0M477.5 710.9v1.0M478.5 701.6v7.2M479.5 702.7v5.1M479.5 708.8v3.1M505.5 707.8v2.0M506.5 699.6v1.0M506.5 701.6v10.2M507.5 699.6v8.2M508.5 708.8v1.0M511.5 704.7v2.0M512.5 705.8v1.0M514.5 699.6v3.1M518.5 700.6v3.1M518.5 705.8v2.0M519.5 705.8v5.1M520.5 706.8v5.1M535.5 707.8v4.1M536.5 699.6v9.2M537.5 704.7v7.2M541.5 707.8v1.0M545.5 707.8v4.1M546.5 700.6v7.2M546.5 708.8v1.0M547.5 703.7v1.0M547.5 705.8v2.0M547.5 708.8v2.0M548.5 699.6v2.0M551.5 699.6v2.0M552.5 699.6v3.1M552.5 703.7v1.0M552.5 706.8v2.0M553.5 701.6v10.2M554.5 699.6v2.0M554.5 702.7v1.0M573.5 707.8v1.0M587.5 706.8v2.0M588.5 701.6v4.1M588.5 706.8v1.0M589.5 701.6v1.0M589.5 703.7v8.2M590.5 699.6v2.0M590.5 704.7v1.0M590.5 707.8v4.1M591.5 700.6v2.0M591.5 703.7v2.0M592.5 699.6v7.2M592.5 708.8v1.0M592.5 710.9v1.0M593.5 702.7v1.0M593.5 706.8v1.0M593.5 708.8v3.1M595.5 699.6v2.0M599.5 707.8v2.0M600.5 699.6v7.2M601.5 699.6v1.0M601.5 702.7v5.1M602.5 709.9v2.0M617.5 699.6v1.0M618.5 704.7v1.0M618.5 706.8v1.0M619.5 700.6v1.0M619.5 702.7v1.0M619.5 704.7v1.0"/><path stroke="#000a66" d="M377.5 710.9v1.0M379.5 700.6v1.0M394.5 710.9v1.0M400.5 703.7v2.0M401.5 699.6v1.0M401.5 710.9v1.0M402.5 705.8v1.0M411.5 709.9v1.0M425.5 700.6v1.0M431.5 704.7v1.0M455.5 701.6v1.0M456.5 702.7v1.0M509.5 699.6v1.0M512.5 704.7v1.0M541.5 704.7v1.0M542.5 699.6v1.0M552.5 702.7v1.0M552.5 704.7v1.0M554.5 701.6v1.0M571.5 699.6v2.0M572.5 704.7v1.0M573.5 704.7v1.0M585.5 701.6v1.0M590.5 701.6v1.0M590.5 703.7v1.0M590.5 705.8v2.0M594.5 706.8v1.0M594.5 708.8v1.0M595.5 701.6v1.0M595.5 703.7v1.0M599.5 710.9v1.0M617.5 702.7v1.0M617.5 705.8v1.0M618.5 705.8v1.0M619.5 701.6v1.0"/><path stroke="#0014cc" d="M378.5 702.7v9.2M394.5 699.6v4.1M394.5 704.7v1.0M396.5 708.8v1.0M396.5 710.9v1.0M399.5 699.6v4.1M400.5 699.6v4.1M401.5 700.6v10.2M402.5 699.6v6.1M402.5 706.8v5.1M403.5 704.7v7.2M404.5 709.9v2.0M409.5 699.6v2.0M410.5 699.6v5.1M410.5 705.8v1.0M410.5 708.8v3.1M411.5 700.6v1.0M411.5 702.7v6.1M413.5 710.9v1.0M425.5 703.7v1.0M426.5 699.6v1.0M428.5 703.7v7.2M430.5 708.8v3.1M454.5 703.7v8.2M455.5 699.6v2.0M455.5 703.7v1.0M455.5 705.8v6.1M456.5 699.6v2.0M456.5 703.7v6.1M456.5 710.9v1.0M457.5 702.7v6.1M458.5 699.6v1.0M460.5 706.8v1.0M460.5 710.9v1.0M472.5 699.6v1.0M472.5 701.6v10.2M473.5 699.6v11.3M474.5 701.6v1.0M479.5 699.6v3.1M480.5 699.6v12.3M481.5 699.6v1.0M481.5 701.6v5.1M509.5 700.6v2.0M509.5 703.7v1.0M510.5 699.6v12.3M511.5 700.6v4.1M511.5 706.8v5.1M512.5 699.6v5.1M512.5 706.8v5.1M513.5 702.7v9.2M514.5 702.7v1.0M527.5 710.9v1.0M528.5 700.6v7.2M529.5 702.7v1.0M529.5 704.7v7.2M530.5 702.7v1.0M530.5 704.7v4.1M530.5 709.9v2.0M531.5 700.6v5.1M532.5 701.6v2.0M534.5 699.6v2.0M539.5 708.8v3.1M540.5 699.6v3.1M540.5 704.7v1.0M540.5 706.8v5.1M541.5 699.6v5.1M541.5 705.8v1.0M541.5 708.8v1.0M541.5 710.9v1.0M542.5 700.6v2.0M546.5 709.9v1.0M547.5 699.6v4.1M548.5 705.8v1.0M571.5 701.6v2.0M572.5 699.6v1.0M572.5 705.8v6.1M573.5 699.6v5.1M573.5 705.8v2.0M573.5 708.8v2.0M574.5 699.6v1.0M585.5 702.7v1.0M586.5 700.6v11.3M587.5 700.6v5.1M587.5 709.9v2.0M588.5 699.6v2.0M588.5 707.8v4.1M590.5 702.7v1.0M593.5 699.6v3.1M594.5 699.6v1.0M594.5 701.6v5.1M594.5 707.8v1.0M594.5 709.9v1.0M595.5 702.7v1.0M595.5 704.7v5.1M596.5 699.6v4.1M602.5 707.8v2.0M617.5 700.6v2.0M617.5 704.7v1.0M617.5 706.8v5.1M618.5 699.6v4.1M619.5 699.6v1.0M619.5 703.7v1.0M619.5 707.8v1.0M620.5 699.6v4.1M625.5 704.7v1.0"/><path stroke="#00b8cc" d="M379.5 708.8v3.1M380.5 699.6v9.2M381.5 700.6v6.1M386.5 704.7v1.0M387.5 699.6v8.2M388.5 703.7v6.1M392.5 704.7v1.0M396.5 699.6v3.1M396.5 703.7v5.1M396.5 709.9v1.0M405.5 701.6v5.1M422.5 705.8v5.1M423.5 705.8v3.1M424.5 707.8v2.0M424.5 710.9v1.0M439.5 708.8v3.1M440.5 710.9v1.0M441.5 705.8v3.1M446.5 701.6v3.1M446.5 705.8v1.0M447.5 700.6v4.1M448.5 701.6v10.2M449.5 701.6v1.0M449.5 703.7v3.1M450.5 706.8v2.0M451.5 706.8v1.0M451.5 708.8v1.0M452.5 709.9v2.0M453.5 707.8v4.1M458.5 701.6v7.2M462.5 700.6v5.1M464.5 699.6v4.1M475.5 708.8v2.0M476.5 700.6v1.0M476.5 702.7v1.0M494.5 699.6v7.2M494.5 707.8v2.0M495.5 703.7v1.0M495.5 710.9v1.0M496.5 710.9v1.0M513.5 699.6v3.1M514.5 704.7v1.0M514.5 707.8v4.1M516.5 708.8v3.1M517.5 699.6v5.1M517.5 710.9v1.0M519.5 699.6v5.1M524.5 703.7v4.1M526.5 699.6v3.1M539.5 705.8v3.1M542.5 704.7v2.0M542.5 707.8v1.0M542.5 709.9v1.0M543.5 703.7v1.0M543.5 706.8v1.0M544.5 699.6v3.1M550.5 701.6v3.1M550.5 705.8v1.0M556.5 700.6v2.0M556.5 703.7v2.0M557.5 699.6v5.1M557.5 705.8v1.0M559.5 707.8v4.1M560.5 699.6v1.0M560.5 701.6v1.0M560.5 704.7v1.0M560.5 710.9v1.0M561.5 703.7v1.0M561.5 710.9v1.0M562.5 702.7v2.0M563.5 704.7v3.1M568.5 703.7v2.0M569.5 699.6v7.2M570.5 699.6v1.0M580.5 710.9v1.0M582.5 703.7v3.1M583.5 707.8v3.1M585.5 703.7v1.0M595.5 709.9v1.0M597.5 707.8v4.1M615.5 707.8v2.0M616.5 701.6v1.0M616.5 703.7v1.0M616.5 705.8v1.0M621.5 699.6v1.0M622.5 699.6v1.0M622.5 701.6v1.0M622.5 708.8v3.1M628.5 708.8v3.1"/><path stroke="#005c66" d="M380.5 708.8v1.0M386.5 702.7v1.0M390.5 701.6v1.0M391.5 707.8v2.0M406.5 709.9v1.0M407.5 706.8v1.0M422.5 703.7v1.0M440.5 708.8v1.0M441.5 704.7v1.0M441.5 708.8v1.0M446.5 700.6v1.0M449.5 702.7v1.0M450.5 709.9v1.0M451.5 705.8v1.0M458.5 708.8v1.0M474.5 699.6v1.0M475.5 706.8v1.0M521.5 700.6v1.0M538.5 707.8v1.0M539.5 703.7v1.0M542.5 703.7v1.0M543.5 707.8v1.0M545.5 705.8v1.0M549.5 699.6v2.0M550.5 699.6v1.0M550.5 704.7v1.0M556.5 706.8v1.0M560.5 700.6v1.0M560.5 702.7v2.0M562.5 701.6v1.0M562.5 706.8v1.0M563.5 710.9v1.0M569.5 706.8v1.0M575.5 706.8v1.0M583.5 710.9v1.0M595.5 710.9v1.0M598.5 705.8v1.0M619.5 708.8v1.0M619.5 710.9v1.0M621.5 700.6v1.0M622.5 706.8v2.0M623.5 706.8v1.0M624.5 710.9v1.0M625.5 707.8v1.0"/><path stroke="#000047" d="M381.5 699.6v1.0M429.5 701.6v1.0M432.5 699.6v2.0M434.5 710.9v1.0M455.5 704.7v1.0M456.5 701.6v1.0M457.5 699.6v3.1M478.5 699.6v2.0M479.5 707.8v1.0M481.5 700.6v1.0M505.5 709.9v2.0M506.5 700.6v1.0M508.5 709.9v2.0M518.5 703.7v2.0M519.5 704.7v1.0M530.5 708.8v1.0M537.5 701.6v3.1M541.5 706.8v1.0M541.5 709.9v1.0M546.5 699.6v1.0M546.5 707.8v1.0M547.5 704.7v1.0M552.5 705.8v1.0M587.5 708.8v1.0M588.5 705.8v1.0M589.5 699.6v2.0M589.5 702.7v1.0M591.5 699.6v1.0M591.5 702.7v1.0M591.5 705.8v6.1M592.5 706.8v2.0M592.5 709.9v1.0M593.5 703.7v3.1M593.5 707.8v1.0M599.5 709.9v1.0M600.5 706.8v2.0M601.5 700.6v2.0M618.5 703.7v1.0M619.5 705.8v2.0"/><path stroke="#000010" d="M381.5 707.8v4.1M382.5 702.7v9.2M383.5 699.6v10.2M383.5 710.9v1.0M397.5 707.8v4.1M398.5 699.6v10.2M398.5 710.9v1.0M399.5 703.7v8.2M400.5 709.9v2.0M412.5 699.6v12.3M413.5 699.6v11.3M414.5 699.6v12.3M415.5 699.6v11.3M416.5 699.6v1.0M419.5 706.8v1.0M419.5 708.8v3.1M420.5 699.6v10.2M421.5 699.6v12.3M422.5 699.6v4.1M425.5 709.9v2.0M426.5 703.7v8.2M427.5 699.6v12.3M428.5 699.6v4.1M437.5 699.6v4.1M438.5 699.6v9.2M439.5 699.6v9.2M440.5 699.6v4.1M441.5 699.6v5.1M441.5 710.9v1.0M442.5 699.6v9.2M443.5 699.6v8.2M444.5 699.6v4.1M466.5 699.6v12.3M467.5 703.7v8.2M468.5 709.9v2.0M476.5 703.7v8.2M477.5 699.6v11.3M478.5 708.8v3.1M495.5 699.6v4.1M496.5 699.6v11.3M497.5 699.6v12.3M498.5 707.8v4.1M524.5 710.9v1.0M525.5 707.8v4.1M526.5 702.7v9.2M527.5 699.6v11.3M528.5 707.8v4.1M565.5 699.6v4.1M566.5 699.6v8.2M567.5 699.6v12.3M575.5 707.8v4.1M576.5 703.7v7.2M577.5 703.7v8.2M578.5 699.6v3.1M601.5 707.8v4.1M602.5 699.6v8.2M603.5 703.7v8.2M604.5 699.6v1.0M606.5 699.6v8.2M607.5 699.6v12.3M609.5 710.9v1.0"/><path stroke="#0066cc" d="M383.5 709.9v1.0M384.5 699.6v12.3M385.5 699.6v12.3M387.5 707.8v4.1M388.5 700.6v2.0M389.5 702.7v3.1M389.5 706.8v5.1M390.5 699.6v1.0M390.5 702.7v1.0M391.5 699.6v1.0M394.5 705.8v5.1M395.5 703.7v8.2M400.5 706.8v3.1M403.5 703.7v1.0M405.5 707.8v1.0M405.5 709.9v2.0M406.5 699.6v10.2M406.5 710.9v1.0M407.5 700.6v6.1M407.5 707.8v2.0M408.5 699.6v3.1M409.5 701.6v1.0M411.5 708.8v1.0M411.5 710.9v1.0M422.5 710.9v1.0M423.5 708.8v3.1M424.5 699.6v1.0M424.5 701.6v6.1M425.5 699.6v1.0M425.5 701.6v2.0M425.5 704.7v5.1M426.5 700.6v3.1M428.5 710.9v1.0M430.5 699.6v9.2M431.5 699.6v3.1M431.5 703.7v1.0M431.5 705.8v2.0M432.5 708.8v3.1M445.5 699.6v2.0M445.5 702.7v1.0M446.5 704.7v1.0M446.5 706.8v5.1M447.5 704.7v2.0M448.5 699.6v1.0M449.5 707.8v4.1M450.5 699.6v7.2M451.5 699.6v1.0M451.5 701.6v3.1M451.5 709.9v2.0M452.5 699.6v3.1M456.5 709.9v1.0M457.5 708.8v3.1M458.5 700.6v1.0M458.5 709.9v2.0M459.5 702.7v5.1M459.5 708.8v3.1M460.5 709.9v1.0M473.5 710.9v1.0M474.5 700.6v1.0M474.5 702.7v8.2M475.5 699.6v7.2M475.5 707.8v1.0M475.5 710.9v1.0M476.5 699.6v1.0M476.5 701.6v1.0M516.5 699.6v9.2M517.5 704.7v6.1M518.5 707.8v4.1M519.5 710.9v1.0M528.5 699.6v1.0M529.5 699.6v1.0M529.5 701.6v1.0M529.5 703.7v1.0M530.5 699.6v2.0M530.5 703.7v1.0M531.5 699.6v1.0M531.5 705.8v6.1M532.5 699.6v2.0M537.5 699.6v2.0M538.5 699.6v8.2M538.5 710.9v1.0M539.5 699.6v4.1M540.5 703.7v1.0M540.5 705.8v1.0M543.5 699.6v4.1M544.5 702.7v9.2M545.5 699.6v6.1M545.5 706.8v1.0M546.5 710.9v1.0M547.5 707.8v1.0M547.5 710.9v1.0M548.5 701.6v2.0M548.5 704.7v1.0M548.5 707.8v3.1M549.5 701.6v7.2M550.5 707.8v1.0M550.5 709.9v2.0M559.5 700.6v1.0M560.5 705.8v3.1M560.5 709.9v1.0M561.5 702.7v1.0M561.5 704.7v6.1M562.5 699.6v1.0M572.5 701.6v2.0M573.5 710.9v1.0M574.5 700.6v11.3M575.5 699.6v6.1M576.5 699.6v4.1M582.5 710.9v1.0M584.5 702.7v9.2M585.5 699.6v2.0M585.5 704.7v6.1M586.5 699.6v1.0M587.5 699.6v1.0M615.5 709.9v2.0M616.5 699.6v1.0M616.5 702.7v1.0M616.5 704.7v1.0M616.5 706.8v1.0M618.5 707.8v4.1M623.5 707.8v4.1M624.5 703.7v7.2M625.5 699.6v4.1M625.5 705.8v2.0M626.5 699.6v4.1M627.5 699.6v1.0"/><path stroke="#003366" d="M388.5 699.6v1.0M388.5 702.7v1.0M389.5 705.8v1.0M390.5 700.6v1.0M394.5 703.7v1.0M400.5 705.8v1.0M407.5 699.6v1.0M408.5 702.7v1.0M411.5 699.6v1.0M411.5 701.6v1.0M424.5 700.6v1.0M424.5 709.9v1.0M431.5 702.7v1.0M451.5 704.7v1.0M451.5 707.8v1.0M459.5 707.8v1.0M474.5 710.9v1.0M529.5 700.6v1.0M530.5 701.6v1.0M538.5 708.8v2.0M539.5 704.7v1.0M540.5 702.7v1.0M548.5 703.7v1.0M548.5 706.8v1.0M548.5 710.9v1.0M550.5 708.8v1.0M561.5 701.6v1.0M572.5 703.7v1.0M575.5 705.8v1.0M587.5 705.8v1.0M594.5 700.6v1.0M594.5 710.9v1.0M616.5 700.6v1.0M617.5 703.7v1.0M625.5 703.7v1.0"/><path stroke="#665c00" d="M390.5 703.7v1.0M409.5 702.7v1.0M436.5 703.7v1.0M462.5 709.9v1.0M470.5 699.6v1.0M482.5 708.8v1.0M484.5 707.8v1.0M485.5 704.7v1.0M485.5 709.9v1.0M486.5 699.6v1.0M492.5 700.6v1.0M507.5 707.8v2.0M522.5 703.7v1.0M564.5 699.6v1.0M565.5 709.9v2.0M580.5 707.8v1.0M609.5 699.6v1.0M610.5 700.6v1.0M613.5 709.9v1.0M614.5 700.6v1.0M615.5 700.6v1.0M629.5 701.6v1.0"/><path stroke="#cc1400" d="M415.5 710.9v1.0M416.5 704.7v2.0M416.5 709.9v1.0M417.5 703.7v3.1M418.5 709.9v1.0M419.5 705.8v1.0M419.5 707.8v1.0M433.5 701.6v1.0M433.5 703.7v1.0M435.5 699.6v9.2M436.5 710.9v1.0M468.5 699.6v1.0M468.5 705.8v4.1M469.5 703.7v8.2M470.5 708.8v3.1M487.5 707.8v4.1M488.5 703.7v8.2M489.5 702.7v1.0M489.5 704.7v3.1M489.5 708.8v1.0M490.5 700.6v3.1M492.5 707.8v1.0M492.5 709.9v2.0M498.5 701.6v6.1M499.5 703.7v1.0M500.5 699.6v2.0M500.5 703.7v1.0M500.5 705.8v6.1M534.5 701.6v3.1M577.5 699.6v3.1M578.5 707.8v1.0M578.5 709.9v1.0M579.5 702.7v1.0M579.5 704.7v7.2M580.5 699.6v5.1M603.5 699.6v4.1M605.5 703.7v1.0M605.5 705.8v2.0M605.5 709.9v1.0"/><path stroke="#8f0000" d="M416.5 700.6v2.0M416.5 703.7v1.0M416.5 710.9v1.0M417.5 699.6v4.1M417.5 706.8v1.0M417.5 708.8v3.1M418.5 710.9v1.0M498.5 699.6v1.0M499.5 699.6v4.1M499.5 704.7v1.0M499.5 706.8v5.1M501.5 703.7v8.2M577.5 702.7v1.0M578.5 702.7v5.1M579.5 699.6v2.0M604.5 700.6v6.1M604.5 710.9v1.0M605.5 699.6v4.1M605.5 704.7v1.0M605.5 707.8v1.0M605.5 710.9v1.0M606.5 707.8v4.1"/><path stroke="#660a00" d="M416.5 702.7v1.0M416.5 706.8v3.1M417.5 707.8v1.0M433.5 700.6v1.0M434.5 701.6v1.0M489.5 709.9v1.0M490.5 703.7v2.0M490.5 707.8v1.0M500.5 704.7v1.0M534.5 704.7v1.0M579.5 703.7v1.0M581.5 707.8v1.0M604.5 709.9v1.0"/><path stroke="#cc6600" d="M418.5 699.6v8.2M419.5 699.6v5.1M420.5 709.9v2.0M433.5 699.6v1.0M434.5 700.6v1.0M434.5 703.7v7.2M435.5 710.9v1.0M436.5 699.6v2.0M436.5 707.8v3.1M437.5 708.8v3.1M438.5 708.8v3.1M467.5 699.6v4.1M468.5 700.6v1.0M468.5 702.7v2.0M469.5 699.6v2.0M469.5 702.7v1.0M470.5 702.7v6.1M471.5 699.6v9.2M472.5 700.6v1.0M484.5 702.7v4.1M485.5 699.6v3.1M489.5 699.6v3.1M489.5 707.8v1.0M489.5 710.9v1.0M490.5 699.6v1.0M490.5 706.8v1.0M490.5 709.9v2.0M491.5 703.7v8.2M533.5 708.8v2.0M534.5 705.8v2.0M535.5 699.6v8.2M536.5 709.9v2.0M564.5 702.7v9.2M565.5 703.7v6.1M580.5 708.8v2.0M581.5 699.6v7.2M582.5 699.6v4.1M612.5 702.7v1.0M612.5 704.7v7.2M613.5 704.7v3.1M614.5 702.7v1.0M615.5 699.6v1.0"/><path stroke="#663300" d="M418.5 707.8v1.0M419.5 704.7v1.0M434.5 699.6v1.0M434.5 702.7v1.0M435.5 708.8v2.0M436.5 701.6v1.0M468.5 701.6v1.0M468.5 704.7v1.0M469.5 701.6v1.0M470.5 700.6v2.0M484.5 706.8v1.0M489.5 703.7v1.0M490.5 705.8v1.0M490.5 708.8v1.0M492.5 708.8v1.0M500.5 701.6v2.0M580.5 706.8v1.0M581.5 706.8v1.0M612.5 703.7v1.0M613.5 700.6v2.0M614.5 699.6v1.0M614.5 701.6v1.0"/><path stroke="#470000" d="M418.5 708.8v1.0M498.5 700.6v1.0M499.5 705.8v1.0M576.5 710.9v1.0M578.5 708.8v1.0M578.5 710.9v1.0M579.5 701.6v1.0M604.5 706.8v3.1M605.5 708.8v1.0"/><rect x="374.7" y="699" width="254.8" height="1" fill="#000" opacity="0.5"/><rect x="374.7" y="711.6" width="254.8" height="1" fill="#000" opacity="0.5"/></g>
<rect x="635.8" y="475.5" width="12.8" height="309.1" fill="url(#jg)"/>
<text transform="translate(371.3,789.7) scale(0.76,1)" font-size="10.7" text-anchor="end" fill="#474747" font-family="DejaVu Sans, sans-serif">0</text>
<text transform="translate(371.3,758.74) scale(0.76,1)" font-size="10.7" text-anchor="end" fill="#474747" font-family="DejaVu Sans, sans-serif">0.05</text>
<text transform="translate(371.3,727.78) scale(0.76,1)" font-size="10.7" text-anchor="end" fill="#474747" font-family="DejaVu Sans, sans-serif">0.1</text>
<text transform="translate(371.3,696.82) scale(0.76,1)" font-size="10.7" text-anchor="end" fill="#474747" font-family="DejaVu Sans, sans-serif">0.15</text>
<text transform="translate(371.3,665.86) scale(0.76,1)" font-size="10.7" text-anchor="end" fill="#474747" font-family="DejaVu Sans, sans-serif">0.2</text>
<text transform="translate(371.3,634.9) scale(0.76,1)" font-size="10.7" text-anchor="end" fill="#474747" font-family="DejaVu Sans, sans-serif">0.25</text>
<text transform="translate(371.3,603.94) scale(0.76,1)" font-size="10.7" text-anchor="end" fill="#474747" font-family="DejaVu Sans, sans-serif">0.3</text>
<text transform="translate(371.3,572.98) scale(0.76,1)" font-size="10.7" text-anchor="end" fill="#474747" font-family="DejaVu Sans, sans-serif">0.35</text>
<text transform="translate(371.3,542.02) scale(0.76,1)" font-size="10.7" text-anchor="end" fill="#474747" font-family="DejaVu Sans, sans-serif">0.4</text>
<text transform="translate(371.3,511.06) scale(0.76,1)" font-size="10.7" text-anchor="end" fill="#474747" font-family="DejaVu Sans, sans-serif">0.45</text>
<text transform="translate(371.3,480.1) scale(0.76,1)" font-size="10.7" text-anchor="end" fill="#474747" font-family="DejaVu Sans, sans-serif">0.5</text>
<text transform="translate(412.5,799.6) scale(0.76,1)" font-size="10.7" text-anchor="middle" fill="#474747" font-family="DejaVu Sans, sans-serif">200</text>
<text transform="translate(450.45,799.6) scale(0.76,1)" font-size="10.7" text-anchor="middle" fill="#474747" font-family="DejaVu Sans, sans-serif">400</text>
<text transform="translate(488.4,799.6) scale(0.76,1)" font-size="10.7" text-anchor="middle" fill="#474747" font-family="DejaVu Sans, sans-serif">600</text>
<text transform="translate(526.35,799.6) scale(0.76,1)" font-size="10.7" text-anchor="middle" fill="#474747" font-family="DejaVu Sans, sans-serif">800</text>
<text transform="translate(564.3,799.6) scale(0.76,1)" font-size="10.7" text-anchor="middle" fill="#474747" font-family="DejaVu Sans, sans-serif">1000</text>
<text transform="translate(602.25,799.6) scale(0.76,1)" font-size="10.7" text-anchor="middle" fill="#474747" font-family="DejaVu Sans, sans-serif">1200</text>
<text transform="translate(502.2,814.6) scale(0.71,1)" font-size="11.8" text-anchor="middle" fill="#474747" font-family="DejaVu Sans, sans-serif">Time</text>
<text transform="translate(349,630.4) rotate(-90) scale(1,0.66)" font-size="12.3" text-anchor="middle" fill="#474747" font-family="DejaVu Sans, sans-serif">Frequency</text>
<text transform="translate(652,789.2) scale(0.66,1)" font-size="10.7" text-anchor="start" fill="#474747" font-family="DejaVu Sans, sans-serif">0</text>
<text transform="translate(652,761.06) scale(0.66,1)" font-size="10.7" text-anchor="start" fill="#474747" font-family="DejaVu Sans, sans-serif">0.002</text>
<text transform="translate(652,732.92) scale(0.66,1)" font-size="10.7" text-anchor="start" fill="#474747" font-family="DejaVu Sans, sans-serif">0.004</text>
<text transform="translate(652,704.78) scale(0.66,1)" font-size="10.7" text-anchor="start" fill="#474747" font-family="DejaVu Sans, sans-serif">0.006</text>
<text transform="translate(652,676.64) scale(0.66,1)" font-size="10.7" text-anchor="start" fill="#474747" font-family="DejaVu Sans, sans-serif">0.008</text>
<text transform="translate(652,648.5) scale(0.66,1)" font-size="10.7" text-anchor="start" fill="#474747" font-family="DejaVu Sans, sans-serif">0.01</text>
<text transform="translate(652,620.36) scale(0.66,1)" font-size="10.7" text-anchor="start" fill="#474747" font-family="DejaVu Sans, sans-serif">0.012</text>
<text transform="translate(652,592.22) scale(0.66,1)" font-size="10.7" text-anchor="start" fill="#474747" font-family="DejaVu Sans, sans-serif">0.014</text>
<text transform="translate(652,564.08) scale(0.66,1)" font-size="10.7" text-anchor="start" fill="#474747" font-family="DejaVu Sans, sans-serif">0.016</text>
<text transform="translate(652,535.94) scale(0.66,1)" font-size="10.7" text-anchor="start" fill="#474747" font-family="DejaVu Sans, sans-serif">0.018</text>
<text transform="translate(652,507.8) scale(0.66,1)" font-size="10.7" text-anchor="start" fill="#474747" font-family="DejaVu Sans, sans-serif">0.02</text>
<rect x="43" y="47.4" width="243" height="332.6" fill="none" stroke="#000" stroke-width="0.7" stroke-opacity="0.55"/>
<rect x="292" y="47.4" width="14" height="332.6" fill="none" stroke="#000" stroke-width="0.7" stroke-opacity="0.55"/>
<rect x="384" y="51.4" width="257.6" height="326.3" fill="none" stroke="#000" stroke-width="0.7" stroke-opacity="0.55"/>
<rect x="644.6" y="51.4" width="14.1" height="326.3" fill="none" stroke="#000" stroke-width="0.7" stroke-opacity="0.55"/>
<rect x="38.5" y="475.3" width="252.5" height="309.7" fill="none" stroke="#000" stroke-width="0.7" stroke-opacity="0.55"/>
<rect x="297.5" y="475.5" width="12.5" height="309.5" fill="none" stroke="#000" stroke-width="0.7" stroke-opacity="0.55"/>
<rect x="374.7" y="475.3" width="254.8" height="309.3" fill="none" stroke="#000" stroke-width="0.7" stroke-opacity="0.55"/>
<rect x="635.8" y="475.5" width="12.8" height="309.1" fill="none" stroke="#000" stroke-width="0.7" stroke-opacity="0.55"/>
<clipPath id="ce"><rect x="68" y="854.6" width="253.6" height="299.8"/></clipPath>
<g>
<rect x="68" y="854.6" width="253.6" height="299.8" fill="none" stroke="#8a8a8a" stroke-width="1"/>
<path d="M68 1154.4v-2.6M68 854.6v2.6M118.7 1154.4v-2.6M118.7 854.6v2.6M169.4 1154.4v-2.6M169.4 854.6v2.6M220.2 1154.4v-2.6M220.2 854.6v2.6M270.9 1154.4v-2.6M270.9 854.6v2.6M321.6 1154.4v-2.6M321.6 854.6v2.6M68 1154.4h2.6M321.6 1154.4h-2.6M68 1054.5h2.6M321.6 1054.5h-2.6M68 954.5h2.6M321.6 954.5h-2.6M68 854.6h2.6M321.6 854.6h-2.6" stroke="#8a8a8a" stroke-width="0.9" fill="none"/>
<polyline clip-path="url(#ce)" fill="none" stroke="#5b9fd6" stroke-width="0.75" stroke-opacity="0.75" points="69,834.8 70,1096.7 71,1103.1 72.1,869.8 73.1,905 74.1,1129.8 75.1,1086.2 76.1,897.4 77.1,949.9 78.1,1130.7 79.2,1107.5 80.2,938.5 81.2,967.5 82.2,1154.4 83.2,998 84.2,976.4 85.2,1123.9 86.3,1123.9 87.3,1003.9 88.3,1002.7 89.3,1124.9 90.3,1134.2 91.3,1051 92.3,1037.4 93.4,1125 94.4,1145.4 95.4,1090.9 96.4,1073.1 97.4,1130.9 98.4,1149.7 99.4,1116.9 100.5,1105.8 101.5,1141.5 102.5,1150.4 103.5,1133.4 104.5,1132.1 105.5,1154.1 106.5,1147.3 107.6,1144.7 108.6,1152.9 109.6,1153.5 110.6,1150.4 111.6,1151.3 112.6,1154.2 113.6,1154.3 114.7,1154.1 115.7,1154.2 116.7,1154.3 117.7,1154.4 118.7,1153.3 119.7,1151.9 120.7,1152.1 121.8,1154.2 122.8,1152 123.8,1147.1 124.8,1150.6 125.8,1154.4 126.8,1146.4 127.8,1141.6 128.9,1150.2 129.9,1153.8 130.9,1141.4 131.9,1137.5 132.9,1150.1 133.9,1152.9 135,1137.9 136,1136 137,1150.9 138,1151.6 139,1137.1 140,1137.9 141,1152.3 142.1,1151.1 143.1,1140 144.1,1142.6 145.1,1153.5 146.1,1151.1 147.1,1143.5 148.1,1146.8 149.2,1154.1 150.2,1151.8 151.2,1147.6 152.2,1150.4 153.2,1154.4 154.2,1152.8 155.2,1151 156.3,1152.7 157.3,1154.4 158.3,1154 159.3,1153.7 160.3,1154.1 161.3,1154.4 162.3,1153.8 163.4,1153.5 164.4,1154.1 165.4,1154.4 166.4,1151.9 167.4,1151.2 168.4,1153.6 169.4,1154.1 170.5,1148.5 171.5,1147.8 172.5,1153.2 173.5,1152.9 174.5,1145.5 175.5,1146 176.5,1153.3 177.6,1151.7 178.6,1142.5 179.6,1144.7 180.6,1153.7 181.6,1150.3 182.6,1140.7 183.6,1144.9 184.7,1154.1 185.7,1148.8 186.7,1139.5 187.7,1145.6 188.7,1154.3 189.7,1147.9 190.7,1140.5 191.8,1147.6 192.8,1154.4 193.8,1147.5 194.8,1142 195.8,1149.4 196.8,1154.2 197.8,1148.2 198.9,1145 199.9,1151.4 200.9,1154 201.9,1149.6 202.9,1148.2 203.9,1152.8 204.9,1153.8 206,1151.8 207,1151.5 208,1153.9 209,1154.2 210,1153.4 211,1153.5 212,1154.3 213.1,1154.2 214.1,1153.4 215.1,1153.6 216.1,1154.3 217.1,1153.1 218.1,1150.3 219.1,1151.5 220.2,1154.3 221.2,1151.3 222.2,1146.2 223.2,1149.6 224.2,1154.4 225.2,1148.7 226.2,1142.2 227.3,1148.4 228.3,1154.4 229.3,1145.4 230.3,1138.3 231.3,1147.9 232.3,1154.2 233.3,1142.8 234.4,1136.9 235.4,1148.8 236.4,1153.6 237.4,1140.3 238.4,1136.3 239.4,1149.9 240.4,1152.7 241.5,1138.8 242.5,1137.3 243.5,1151.3 244.5,1152 245.5,1139.9 246.5,1140.8 247.5,1152.7 248.6,1152 249.6,1144 250.6,1146 251.6,1153.8 252.6,1152.5 253.6,1148 254.6,1150 255.7,1154.3 256.7,1153.4 257.7,1151.8 258.7,1152.9 259.7,1154.4 260.7,1153.7 261.8,1152.9 262.8,1153.7 263.8,1154.4 264.8,1148 265.8,1143.1 266.8,1152.5 267.8,1145.8 268.9,1129.7 269.9,1145.6 270.9,1153.3 271.9,1109.5 272.9,1100.4 273.9,1138.4 274.9,1152.5 276,1100 277,1068 278,1115.9 279,1154.3 280,1090.5 281,1031.2 282,1095.3 283.1,1154.2 284.1,1066.2 285.1,998 286.1,1088 287.1,1153.4 288.1,1047 289.1,970.6 290.2,1118.4 291.2,1095.5 292.2,943.9 293.2,1045.1 294.2,1154.1 295.2,1041.3 296.2,900.3 297.3,1011.2 298.3,1154 299.3,1020.1 300.3,874.6 301.3,1009.1 302.3,1154 303.3,1030.5"/>
<line x1="68" y1="1125.3" x2="303.3" y2="1125.3" stroke="#ff7070" stroke-width="1.1"/>
<ellipse cx="72.1" cy="869.8" rx="2.4" ry="3.0" fill="#00ff00"/>
<ellipse cx="76.1" cy="897.4" rx="2.4" ry="3.0" fill="#00ff00"/>
<ellipse cx="80.2" cy="938.5" rx="2.4" ry="3.0" fill="#00ff00"/>
<ellipse cx="84.2" cy="976.4" rx="2.4" ry="3.0" fill="#00ff00"/>
<ellipse cx="88.3" cy="1002.7" rx="2.4" ry="3.0" fill="#00ff00"/>
<ellipse cx="92.3" cy="1037.4" rx="2.4" ry="3.0" fill="#00ff00"/>
<ellipse cx="96.4" cy="1073.1" rx="2.4" ry="3.0" fill="#00ff00"/>
<ellipse cx="100.5" cy="1105.8" rx="2.4" ry="3.0" fill="#00ff00"/>
<ellipse cx="104.5" cy="1132.1" rx="2.4" ry="3.0" fill="#00ff00"/>
<ellipse cx="107.6" cy="1144.7" rx="2.4" ry="3.0" fill="#00ff00"/>
<ellipse cx="110.6" cy="1150.4" rx="2.4" ry="3.0" fill="#00ff00"/>
<ellipse cx="114.7" cy="1154.1" rx="2.4" ry="3.0" fill="#00ff00"/>
<ellipse cx="119.7" cy="1151.9" rx="2.4" ry="3.0" fill="#00ff00"/>
<ellipse cx="123.8" cy="1147.1" rx="2.4" ry="3.0" fill="#00ff00"/>
<ellipse cx="127.8" cy="1141.6" rx="2.4" ry="3.0" fill="#00ff00"/>
<ellipse cx="131.9" cy="1137.5" rx="2.4" ry="3.0" fill="#00ff00"/>
<ellipse cx="136" cy="1136" rx="2.4" ry="3.0" fill="#00ff00"/>
<ellipse cx="139" cy="1137.1" rx="2.4" ry="3.0" fill="#00ff00"/>
<ellipse cx="143.1" cy="1140" rx="2.4" ry="3.0" fill="#00ff00"/>
<ellipse cx="147.1" cy="1143.5" rx="2.4" ry="3.0" fill="#00ff00"/>
<ellipse cx="151.2" cy="1147.6" rx="2.4" ry="3.0" fill="#00ff00"/>
<ellipse cx="155.2" cy="1151" rx="2.4" ry="3.0" fill="#00ff00"/>
<ellipse cx="159.3" cy="1153.7" rx="2.4" ry="3.0" fill="#00ff00"/>
<ellipse cx="163.4" cy="1153.5" rx="2.4" ry="3.0" fill="#00ff00"/>
<ellipse cx="167.4" cy="1151.2" rx="2.4" ry="3.0" fill="#00ff00"/>
<ellipse cx="171.5" cy="1147.8" rx="2.4" ry="3.0" fill="#00ff00"/>
<ellipse cx="174.5" cy="1145.5" rx="2.4" ry="3.0" fill="#00ff00"/>
<ellipse cx="178.6" cy="1142.5" rx="2.4" ry="3.0" fill="#00ff00"/>
<ellipse cx="182.6" cy="1140.7" rx="2.4" ry="3.0" fill="#00ff00"/>
<ellipse cx="186.7" cy="1139.5" rx="2.4" ry="3.0" fill="#00ff00"/>
<ellipse cx="190.7" cy="1140.5" rx="2.4" ry="3.0" fill="#00ff00"/>
<ellipse cx="194.8" cy="1142" rx="2.4" ry="3.0" fill="#00ff00"/>
<ellipse cx="198.9" cy="1145" rx="2.4" ry="3.0" fill="#00ff00"/>
<ellipse cx="202.9" cy="1148.2" rx="2.4" ry="3.0" fill="#00ff00"/>
<ellipse cx="207" cy="1151.5" rx="2.4" ry="3.0" fill="#00ff00"/>
<ellipse cx="210" cy="1153.4" rx="2.4" ry="3.0" fill="#00ff00"/>
<ellipse cx="214.1" cy="1153.4" rx="2.4" ry="3.0" fill="#00ff00"/>
<ellipse cx="218.1" cy="1150.3" rx="2.4" ry="3.0" fill="#00ff00"/>
<ellipse cx="222.2" cy="1146.2" rx="2.4" ry="3.0" fill="#00ff00"/>
<ellipse cx="226.2" cy="1142.2" rx="2.4" ry="3.0" fill="#00ff00"/>
<ellipse cx="230.3" cy="1138.3" rx="2.4" ry="3.0" fill="#00ff00"/>
<ellipse cx="234.4" cy="1136.9" rx="2.4" ry="3.0" fill="#00ff00"/>
<ellipse cx="238.4" cy="1136.3" rx="2.4" ry="3.0" fill="#00ff00"/>
<ellipse cx="242.5" cy="1137.3" rx="2.4" ry="3.0" fill="#00ff00"/>
<ellipse cx="245.5" cy="1139.9" rx="2.4" ry="3.0" fill="#00ff00"/>
<ellipse cx="249.6" cy="1144" rx="2.4" ry="3.0" fill="#00ff00"/>
<ellipse cx="253.6" cy="1148" rx="2.4" ry="3.0" fill="#00ff00"/>
<ellipse cx="257.7" cy="1151.8" rx="2.4" ry="3.0" fill="#00ff00"/>
<ellipse cx="261.8" cy="1152.9" rx="2.4" ry="3.0" fill="#00ff00"/>
<ellipse cx="265.8" cy="1143.1" rx="2.4" ry="3.0" fill="#00ff00"/>
<ellipse cx="268.9" cy="1129.7" rx="2.4" ry="3.0" fill="#00ff00"/>
<ellipse cx="272.9" cy="1100.4" rx="2.4" ry="3.0" fill="#00ff00"/>
<ellipse cx="277" cy="1068" rx="2.4" ry="3.0" fill="#00ff00"/>
<ellipse cx="281" cy="1031.2" rx="2.4" ry="3.0" fill="#00ff00"/>
<ellipse cx="285.1" cy="998" rx="2.4" ry="3.0" fill="#00ff00"/>
<ellipse cx="289.1" cy="970.6" rx="2.4" ry="3.0" fill="#00ff00"/>
<ellipse cx="292.2" cy="943.9" rx="2.4" ry="3.0" fill="#00ff00"/>
<ellipse cx="296.2" cy="900.3" rx="2.4" ry="3.0" fill="#00ff00"/>
<ellipse cx="300.3" cy="874.6" rx="2.4" ry="3.0" fill="#00ff00"/>
<rect x="266.5" y="864.2" width="49.2" height="42.1" fill="#fff" stroke="#8a8a8a" stroke-width="1"/>
<line x1="269.1" y1="872.1" x2="292.5" y2="872.1" stroke="#a9cdee" stroke-width="1.3"/>
<line x1="269.1" y1="884.8" x2="292.5" y2="884.8" stroke="#ff9a9a" stroke-width="1.3"/>
<ellipse cx="281.3" cy="897.7" rx="2.4" ry="3.1" fill="#00ff00"/>
<text transform="translate(294.3,876.2) scale(0.66,1)" font-size="10.2" text-anchor="start" fill="#333333" font-family="Liberation Sans, sans-serif">data1</text>
<text transform="translate(294.3,888.8) scale(0.66,1)" font-size="10.2" text-anchor="start" fill="#333333" font-family="Liberation Sans, sans-serif">data2</text>
<text transform="translate(294.3,901.5) scale(0.66,1)" font-size="10.2" text-anchor="start" fill="#333333" font-family="Liberation Sans, sans-serif">Peaks</text>
</g>
<text transform="translate(68,1169.8) scale(0.7,1)" font-size="10.4" text-anchor="middle" fill="#333333" font-family="Liberation Sans, sans-serif">0</text>
<text transform="translate(118.7,1169.8) scale(0.7,1)" font-size="10.4" text-anchor="middle" fill="#333333" font-family="Liberation Sans, sans-serif">50</text>
<text transform="translate(169.4,1169.8) scale(0.7,1)" font-size="10.4" text-anchor="middle" fill="#333333" font-family="Liberation Sans, sans-serif">100</text>
<text transform="translate(220.2,1169.8) scale(0.7,1)" font-size="10.4" text-anchor="middle" fill="#333333" font-family="Liberation Sans, sans-serif">150</text>
<text transform="translate(270.9,1169.8) scale(0.7,1)" font-size="10.4" text-anchor="middle" fill="#333333" font-family="Liberation Sans, sans-serif">200</text>
<text transform="translate(321.6,1169.8) scale(0.7,1)" font-size="10.4" text-anchor="middle" fill="#333333" font-family="Liberation Sans, sans-serif">250</text>
<text transform="translate(64.8,1158.2) scale(0.7,1)" font-size="10.4" text-anchor="end" fill="#333333" font-family="Liberation Sans, sans-serif">0</text>
<text transform="translate(64.8,1058.3) scale(0.7,1)" font-size="10.4" text-anchor="end" fill="#333333" font-family="Liberation Sans, sans-serif">0.5</text>
<text transform="translate(64.8,958.3) scale(0.7,1)" font-size="10.4" text-anchor="end" fill="#333333" font-family="Liberation Sans, sans-serif">1</text>
<text transform="translate(64.8,858.4) scale(0.7,1)" font-size="10.4" text-anchor="end" fill="#333333" font-family="Liberation Sans, sans-serif">1.5</text>
<text transform="translate(68.3,851.8) scale(0.7,1)" font-size="11" fill="#333333" font-family="Liberation Sans, sans-serif"><tspan fill="#777">×</tspan>10</text>
<text transform="translate(80.6,847.4) scale(0.7,1)" font-size="9" fill="#333333" font-family="Liberation Sans, sans-serif">-3</text>
<text transform="translate(194.8,1184.8) scale(0.7,1)" font-size="11.8" text-anchor="middle" fill="#333" font-family="Liberation Sans, sans-serif">Aminoacids location</text>
<text transform="translate(50.6,1005) rotate(-90) scale(1,0.8)" font-size="12.2" text-anchor="middle" fill="#333" font-family="Liberation Sans, sans-serif">Energy at the Characteristic Frequency</text>
<rect x="359.6" y="855.6" width="271.4" height="298.6" fill="none" stroke="#8a8a8a" stroke-width="1"/>
<path d="M359.6 1154.2v-2.6M359.6 855.6v2.6M398.4 1154.2v-2.6M398.4 855.6v2.6M437.1 1154.2v-2.6M437.1 855.6v2.6M475.9 1154.2v-2.6M475.9 855.6v2.6M514.7 1154.2v-2.6M514.7 855.6v2.6M553.5 1154.2v-2.6M553.5 855.6v2.6M592.2 1154.2v-2.6M592.2 855.6v2.6M631 1154.2v-2.6M631 855.6v2.6M359.6 1154.2h2.6M631 1154.2h-2.6M359.6 1124.3h2.6M631 1124.3h-2.6M359.6 1094.5h2.6M631 1094.5h-2.6M359.6 1064.6h2.6M631 1064.6h-2.6M359.6 1034.8h2.6M631 1034.8h-2.6M359.6 1004.9h2.6M631 1004.9h-2.6M359.6 975h2.6M631 975h-2.6M359.6 945.2h2.6M631 945.2h-2.6M359.6 915.3h2.6M631 915.3h-2.6M359.6 885.5h2.6M631 885.5h-2.6M359.6 855.6h2.6M631 855.6h-2.6" stroke="#8a8a8a" stroke-width="0.9" fill="none"/>
<polyline fill="none" stroke="#1f6fb8" stroke-width="0.7" stroke-opacity="0.85" points="359.8,966.2 360,867.6 360.2,1059.3 360.4,1142.4 360.6,955.1 360.8,891.4 361,1084.5 361.2,1132.6 361.3,956.5 361.5,927.3 361.7,1107.9 361.9,1122.5 362.1,969.9 362.3,969.9 362.5,1126.8 362.7,1123.4 362.9,1003.5 363.1,1022.9 363.3,1141.2 363.5,1122 363.7,1032.7 363.9,1062.1 364.1,1149 364.3,1123.6 364.4,1061.7 364.6,1093.5 364.8,1152.8 365,1129 365.2,1091.6 365.4,1118.9 365.6,1154.1 365.8,1136.3 366,1116.9 366.2,1136.3 366.4,1154.1 366.6,1144 366.8,1136.2 367,1146.9 367.2,1153.9 367.4,1146.8 367.5,1142.9 367.7,1150.5 367.9,1153.7 368.1,1150.8 368.3,1149.7 368.5,1153 368.7,1153.8 368.9,1152.5 369.1,1152.3 369.3,1153.8 369.5,1153.9 369.7,1153.3 369.9,1153.3 370.1,1154.1 370.3,1153.4 370.5,1150.5 370.6,1150.9 370.8,1153.9 371,1152.2 371.2,1146.7 371.4,1148.5 371.6,1153.9 371.8,1151 372,1144.6 372.2,1147.9 372.4,1154.1 372.6,1149.5 372.8,1142.6 373,1147.6 373.2,1154.2 373.4,1148.6 373.6,1142.6 373.8,1148.6 373.9,1154.2 374.1,1148.8 374.3,1144.6 374.5,1150.4 374.7,1154.1 374.9,1149.3 375.1,1146.7 375.3,1151.7 375.5,1153.9 375.7,1150.1 375.9,1148.7 376.1,1152.7 376.3,1153.8 376.5,1151.2 376.7,1150.7 376.9,1153.5 377,1153.7 377.2,1152.7 377.4,1152.7 377.6,1154 377.8,1154.2 378,1154.2 378.2,1154.2 378.4,1154.2 378.6,1153.9 378.8,1153 379,1153.3 379.2,1154.1 379.4,1153.4 379.6,1151.8 379.8,1152.6 380,1154.2 380.1,1152.8 380.3,1150.6 380.5,1152.2 380.7,1154.2 380.9,1152 381.1,1149.5 381.3,1152 381.5,1154.2 381.7,1151.2 381.9,1148.8 382.1,1152 382.3,1154.1 382.5,1150.2 382.7,1148.1 382.9,1152.2 383.1,1153.9 383.3,1150.1 383.4,1148.8 383.6,1152.8 383.8,1153.8 384,1150.4 384.2,1149.8 384.4,1153.3 384.6,1153.6 384.8,1150.9 385,1150.9 385.2,1153.7 385.4,1153.7 385.6,1151.7 385.8,1152 386,1154 386.2,1153.8 386.4,1152.6 386.5,1153 386.7,1154.1 386.9,1154 387.1,1153.5 387.3,1153.7 387.5,1154.2 387.7,1154.1 387.9,1154 388.1,1154.1 388.3,1154.2 388.5,1153.6 388.7,1153 388.9,1153.6 389.1,1154.2 389.3,1152.9 389.5,1152 389.6,1153.3 389.8,1154.2 390,1152.1 390.2,1151 390.4,1153.1 390.6,1154.1 390.8,1151.5 391,1150.7 391.2,1153.3 391.4,1153.9 391.6,1151.5 391.8,1151.1 392,1153.6 392.2,1153.8 392.4,1151.4 392.6,1151.4 392.7,1153.8 392.9,1153.7 393.1,1151.8 393.3,1152.1 393.5,1154 393.7,1153.7 393.9,1152.3 394.1,1152.7 394.3,1154.1 394.5,1153.8 394.7,1152.9 394.9,1153.3 395.1,1154.2 395.3,1153.9 395.5,1153.5 395.7,1153.8 395.9,1154.2 396,1154.1 396.2,1154.1 396.4,1154.1 396.6,1154.2 396.8,1154 397,1153.9 397.2,1154.1 397.4,1154.2 397.6,1153.8 397.8,1153.5 398,1154 398.2,1154.2 398.4,1153.4 398.6,1153.1 398.8,1153.9 399,1154.1 399.1,1153 399.3,1152.8 399.5,1153.9 399.7,1154 399.9,1152.4 400.1,1152.4 400.3,1153.9 400.5,1153.8 400.7,1152.1 400.9,1152.4 401.1,1154 401.3,1153.6 401.5,1151.9 401.7,1152.5 401.9,1154.1 402.1,1153.6 402.2,1152.3 402.4,1152.9 402.6,1154.2 402.8,1153.6 403,1152.7 403.2,1153.3 403.4,1154.2 403.6,1153.6 403.8,1153.1 404,1153.6 404.2,1154.2 404.4,1153.8 404.6,1153.4 404.8,1153.9 405,1154.2 405.2,1153.9 405.4,1153.8 405.5,1154.1 405.7,1154.2 405.9,1154.2 406.1,1154.2 406.3,1154.2 406.5,1154.2 406.7,1154 406.9,1154 407.1,1154.2 407.3,1154.2 407.5,1153.7 407.7,1153.7 407.9,1154.1 408.1,1154.1 408.3,1153.5 408.5,1153.6 408.6,1154.1 408.8,1154 409,1153.3 409.2,1153.5 409.4,1154.2 409.6,1153.8 409.8,1153.1 410,1153.5 410.2,1154.2 410.4,1153.6 410.6,1152.8 410.8,1153.4 411,1154.2 411.2,1153.4 411.4,1152.6 411.6,1153.4 411.7,1154.2 411.9,1153.2 412.1,1152.5 412.3,1153.5 412.5,1154.2 412.7,1153.2 412.9,1152.7 413.1,1153.7 413.3,1154.1 413.5,1153.2 413.7,1152.9 413.9,1153.9 414.1,1154.1 414.3,1153.3 414.5,1153.2 414.7,1154 414.8,1154.1 415,1153.4 415.2,1153.4 415.4,1154.1 415.6,1154.1 415.8,1153.6 416,1153.7 416.2,1154.1 416.4,1154.1 416.6,1153.8 416.8,1153.9 417,1154.2 417.2,1154.2 417.4,1154.1 417.6,1154.1 417.8,1154.2 418,1154.2 418.1,1154.1 418.3,1154.2 418.5,1154.2 418.7,1154.1 418.9,1154 419.1,1154.1 419.3,1154.2 419.5,1154 419.7,1153.9 419.9,1154.1 420.1,1154.2 420.3,1153.9 420.5,1153.8 420.7,1154.1 420.9,1154.2 421.1,1153.8 421.2,1153.7 421.4,1154.1 421.6,1154.2 421.8,1153.6 422,1153.5 422.2,1154.1 422.4,1154.1 422.6,1153.4 422.8,1153.4 423,1154.1 423.2,1154 423.4,1153.3 423.6,1153.4 423.8,1154.1 424,1153.9 424.2,1153.2 424.3,1153.5 424.5,1154.2 424.7,1153.8 424.9,1153.1 425.1,1153.5 425.3,1154.2 425.5,1153.7 425.7,1153 425.9,1153.5 426.1,1154.2 426.3,1153.7 426.5,1153.2 426.7,1153.7 426.9,1154.2 427.1,1153.7 427.3,1153.3 427.5,1153.8 427.6,1154.2 427.8,1153.7 428,1153.4 428.2,1153.9 428.4,1154.2 428.6,1153.7 428.8,1153.5 429,1154 429.2,1154.1 429.4,1153.7 429.6,1153.6 429.8,1154.1 430,1154.1 430.2,1153.8 430.4,1153.8 430.6,1154.1 430.7,1154.1 430.9,1153.8 431.1,1153.9 431.3,1154.2 431.5,1154.1 431.7,1154 431.9,1154 432.1,1154.2 432.3,1154.2 432.5,1154.1 432.7,1154.1 432.9,1154.2 433.1,1154.2 433.3,1154.2 433.5,1154.2 433.7,1154.2 433.8,1154.2 434,1154.2 434.2,1154.2 434.4,1154.2 434.6,1154.2 434.8,1154.2 435,1154.2 435.2,1154.2 435.4,1154.2 435.6,1154.2 435.8,1154.2 436,1154.2 436.2,1154.2 436.4,1154.2 436.6,1154.2 436.8,1154.2 436.9,1154.1 437.1,1154.1 437.3,1154.2 437.5,1154.2 437.7,1154.1 437.9,1154.1 438.1,1154.2 438.3,1154.2 438.5,1154.1 438.7,1154.1 438.9,1154.2 439.1,1154.2 439.3,1154.1 439.5,1154.1 439.7,1154.2 439.9,1154.2 440.1,1154.1 440.2,1154.1 440.4,1154.2 440.6,1154.2 440.8,1154.1 441,1154.1 441.2,1154.2 441.4,1154.1 441.6,1154.1 441.8,1154.1 442,1154.2 442.2,1154.1 442.4,1154.1 442.6,1154.1 442.8,1154.2 443,1154.1 443.2,1154 443.3,1154.1 443.5,1154.2 443.7,1154.1 443.9,1154 444.1,1154.2 444.3,1154.2 444.5,1154 444.7,1154 444.9,1154.2 445.1,1154.2 445.3,1154 445.5,1154 445.7,1154.2 445.9,1154.2 446.1,1154 446.3,1154 446.4,1154.2 446.6,1154.1 446.8,1154 447,1154 447.2,1154.2 447.4,1154.1 447.6,1154 447.8,1154.1 448,1154.2 448.2,1154.1 448.4,1154 448.6,1154.1 448.8,1154.2 449,1154.1 449.2,1153.9 449.4,1154.1 449.5,1154.2 449.7,1154.1 449.9,1153.9 450.1,1154.1 450.3,1154.2 450.5,1154 450.7,1153.9 450.9,1154.1 451.1,1154.2 451.3,1154 451.5,1153.9 451.7,1154.1 451.9,1154.2 452.1,1153.9 452.3,1153.9 452.5,1154.1 452.7,1154.2 452.8,1153.9 453,1153.9 453.2,1154.2 453.4,1154.1 453.6,1153.9 453.8,1153.9 454,1154.2 454.2,1154.1 454.4,1153.9 454.6,1153.9 454.8,1154.2 455,1154.1 455.2,1153.9 455.4,1154 455.6,1154.2 455.8,1154.1 455.9,1153.8 456.1,1154 456.3,1154.2 456.5,1154 456.7,1153.8 456.9,1154 457.1,1154.2 457.3,1154 457.5,1153.8 457.7,1154 457.9,1154.2 458.1,1153.9 458.3,1153.8 458.5,1154.1 458.7,1154.2 458.9,1153.9 459,1153.8 459.2,1154.1 459.4,1154.2 459.6,1153.8 459.8,1153.8 460,1154.1 460.2,1154.1 460.4,1153.8 460.6,1153.8 460.8,1154.1 461,1154.1 461.2,1153.8 461.4,1153.8 461.6,1154.2 461.8,1154.1 462,1153.7 462.2,1153.9 462.3,1154.2 462.5,1154 462.7,1153.7 462.9,1153.9 463.1,1154.2 463.3,1154 463.5,1153.7 463.7,1153.9 463.9,1154.2 464.1,1154 464.3,1153.7 464.5,1154 464.7,1154.2 464.9,1153.9 465.1,1153.7 465.3,1154 465.4,1154.2 465.6,1153.9 465.8,1153.7 466,1154 466.2,1154.2 466.4,1153.8 466.6,1153.7 466.8,1154.1 467,1154.2 467.2,1153.7 467.4,1153.7 467.6,1154.1 467.8,1154.1 468,1153.6 468.2,1153.6 468.4,1154.1 468.5,1154.1 468.7,1153.6 468.9,1153.7 469.1,1154.2 469.3,1154 469.5,1153.6 469.7,1153.8 469.9,1154.2 470.1,1154 470.3,1153.6 470.5,1153.8 470.7,1154.2 470.9,1154 471.1,1153.6 471.3,1153.9 471.5,1154.2 471.6,1153.9 471.8,1153.6 472,1153.9 472.2,1154.2 472.4,1153.8 472.6,1153.6 472.8,1153.9 473,1154.2 473.2,1153.8 473.4,1153.6 473.6,1154 473.8,1154.2 474,1153.7 474.2,1153.5 474.4,1154 474.6,1154.1 474.8,1153.6 474.9,1153.5 475.1,1154.1 475.3,1154.1 475.5,1153.5 475.7,1153.5 475.9,1154.1 476.1,1154.1 476.3,1153.5 476.5,1153.6 476.7,1154.1 476.9,1154 477.1,1153.5 477.3,1153.7 477.5,1154.2 477.7,1154 477.9,1153.5 478,1153.7 478.2,1154.2 478.4,1153.9 478.6,1153.5 478.8,1153.8 479,1154.2 479.2,1153.8 479.4,1153.5 479.6,1153.8 479.8,1154.2 480,1153.8 480.2,1153.5 480.4,1153.9 480.6,1154.2 480.8,1153.7 481,1153.4 481.1,1153.9 481.3,1154.2 481.5,1153.6 481.7,1153.4 481.9,1154 482.1,1154.1 482.3,1153.5 482.5,1153.4 482.7,1154 482.9,1154.1 483.1,1153.4 483.3,1153.4 483.5,1154.1 483.7,1154 483.9,1153.4 484.1,1153.5 484.3,1154.1 484.4,1154 484.6,1153.4 484.8,1153.6 485,1154.2 485.2,1153.9 485.4,1153.4 485.6,1153.7 485.8,1154.2 486,1153.9 486.2,1153.4 486.4,1153.7 486.6,1154.2 486.8,1153.8 487,1153.3 487.2,1153.8 487.4,1154.2 487.5,1153.7 487.7,1153.3 487.9,1153.9 488.1,1154.2 488.3,1153.6 488.5,1153.3 488.7,1153.9 488.9,1154.2 489.1,1153.5 489.3,1153.3 489.5,1154 489.7,1154.1 489.9,1153.4 490.1,1153.3 490.3,1154 490.5,1154.1 490.6,1153.3 490.8,1153.3 491,1154.1 491.2,1154 491.4,1153.3 491.6,1153.4 491.8,1154.1 492,1154 492.2,1153.3 492.4,1153.6 492.6,1154.2 492.8,1153.9 493,1153.4 493.2,1153.6 493.4,1154.2 493.6,1153.9 493.7,1153.4 493.9,1153.7 494.1,1154.2 494.3,1153.8 494.5,1153.4 494.7,1153.8 494.9,1154.2 495.1,1153.7 495.3,1153.4 495.5,1153.9 495.7,1154.2 495.9,1153.7 496.1,1153.4 496.3,1153.9 496.5,1154.2 496.7,1153.6 496.9,1153.4 497,1154 497.2,1154.1 497.4,1153.5 497.6,1153.4 497.8,1154 498,1154.1 498.2,1153.4 498.4,1153.4 498.6,1154.1 498.8,1154 499,1153.5 499.2,1153.6 499.4,1154.1 499.6,1154 499.8,1153.5 500,1153.6 500.1,1154.2 500.3,1154 500.5,1153.5 500.7,1153.7 500.9,1154.2 501.1,1153.9 501.3,1153.5 501.5,1153.8 501.7,1154.2 501.9,1153.9 502.1,1153.5 502.3,1153.9 502.5,1154.2 502.7,1153.8 502.9,1153.5 503.1,1153.9 503.2,1154.2 503.4,1153.8 503.6,1153.5 503.8,1154 504,1154.2 504.2,1153.7 504.4,1153.5 504.6,1154 504.8,1154.1 505,1153.6 505.2,1153.6 505.4,1154.1 505.6,1154.1 505.8,1153.6 506,1153.6 506.2,1154.1 506.3,1154.1 506.5,1153.6 506.7,1153.7 506.9,1154.1 507.1,1154 507.3,1153.6 507.5,1153.7 507.7,1154.2 507.9,1154 508.1,1153.6 508.3,1153.8 508.5,1154.2 508.7,1154 508.9,1153.6 509.1,1153.9 509.3,1154.2 509.5,1153.9 509.6,1153.6 509.8,1153.9 510,1154.2 510.2,1153.9 510.4,1153.6 510.6,1154 510.8,1154.2 511,1153.8 511.2,1153.7 511.4,1154 511.6,1154.2 511.8,1153.8 512,1153.7 512.2,1154.1 512.4,1154.2 512.6,1153.7 512.7,1153.7 512.9,1154.1 513.1,1154.1 513.3,1153.7 513.5,1153.7 513.7,1154.1 513.9,1154.1 514.1,1153.7 514.3,1153.8 514.5,1154.2 514.7,1154.1 514.9,1153.7 515.1,1153.8 515.3,1154.2 515.5,1154 515.7,1153.7 515.8,1153.9 516,1154.2 516.2,1154 516.4,1153.7 516.6,1153.9 516.8,1154.2 517,1154 517.2,1153.7 517.4,1154 517.6,1154.2 517.8,1154 518,1153.8 518.2,1154 518.4,1154.2 518.6,1153.9 518.8,1153.8 519,1154.1 519.1,1154.2 519.3,1153.9 519.5,1153.8 519.7,1154.1 519.9,1154.2 520.1,1153.8 520.3,1153.8 520.5,1154.1 520.7,1154.1 520.9,1153.8 521.1,1153.8 521.3,1154.1 521.5,1154.1 521.7,1153.8 521.9,1153.9 522.1,1154.2 522.2,1154.1 522.4,1153.8 522.6,1153.9 522.8,1154.2 523,1154.1 523.2,1153.8 523.4,1154 523.6,1154.2 523.8,1154.1 524,1153.9 524.2,1154 524.4,1154.2 524.6,1154 524.8,1153.9 525,1154 525.2,1154.2 525.3,1154 525.5,1153.9 525.7,1154.1 525.9,1154.2 526.1,1154 526.3,1153.9 526.5,1154.1 526.7,1154.2 526.9,1154 527.1,1153.9 527.3,1154.1 527.5,1154.2 527.7,1154 527.9,1153.9 528.1,1154.1 528.3,1154.2 528.4,1153.9 528.6,1153.9 528.8,1154.2 529,1154.1 529.2,1153.9 529.4,1154 529.6,1154.2 529.8,1154.1 530,1154 530.2,1154 530.4,1154.2 530.6,1154.1 530.8,1154 531,1154 531.2,1154.2 531.4,1154.1 531.6,1154 531.7,1154.1 531.9,1154.2 532.1,1154.1 532.3,1154 532.5,1154.1 532.7,1154.2 532.9,1154.1 533.1,1154 533.3,1154.1 533.5,1154.2 533.7,1154.1 533.9,1154 534.1,1154.1 534.3,1154.2 534.5,1154.1 534.7,1154 534.8,1154.2 535,1154.2 535.2,1154.1 535.4,1154 535.6,1154.2 535.8,1154.2 536,1154 536.2,1154 536.4,1154.2 536.6,1154.2 536.8,1154.1 537,1154.1 537.2,1154.2 537.4,1154.2 537.6,1154.1 537.8,1154.1 537.9,1154.2 538.1,1154.2 538.3,1154.1 538.5,1154.1 538.7,1154.2 538.9,1154.2 539.1,1154.1 539.3,1154.1 539.5,1154.2 539.7,1154.2 539.9,1154.1 540.1,1154.2 540.3,1154.2 540.5,1154.2 540.7,1154.1 540.9,1154.2 541.1,1154.2 541.2,1154.2 541.4,1154.1 541.6,1154.2 541.8,1154.2 542,1154.2 542.2,1154.1 542.4,1154.2 542.6,1154.2 542.8,1154.2 543,1154.2 543.2,1154.2 543.4,1154.2 543.6,1154.2 543.8,1154.2 544,1154.2 544.2,1154.2 544.3,1154.2 544.5,1154.2 544.7,1154.2 544.9,1154.2 545.1,1154.2 545.3,1154.2 545.5,1154.2 545.7,1154.2 545.9,1154.2 546.1,1154.2 546.3,1154.2 546.5,1154.1 546.7,1154 546.9,1154.1 547.1,1154.2 547.3,1154.1 547.4,1153.9 547.6,1154.1 547.8,1154.2 548,1154 548.2,1153.8 548.4,1154 548.6,1154.2 548.8,1153.9 549,1153.7 549.2,1154 549.4,1154.2 549.6,1153.7 549.8,1153.6 550,1154 550.2,1154.1 550.4,1153.5 550.5,1153.4 550.7,1154 550.9,1154.1 551.1,1153.4 551.3,1153.4 551.5,1154.1 551.7,1154 551.9,1153.2 552.1,1153.4 552.3,1154.1 552.5,1153.9 552.7,1153.1 552.9,1153.4 553.1,1154.2 553.3,1153.8 553.5,1153 553.7,1153.4 553.8,1154.2 554,1153.8 554.2,1153.1 554.4,1153.6 554.6,1154.2 554.8,1153.7 555,1153.3 555.2,1153.7 555.4,1154.2 555.6,1153.7 555.8,1153.4 556,1153.9 556.2,1154.2 556.4,1153.7 556.6,1153.5 556.8,1154 556.9,1154.2 557.1,1153.8 557.3,1153.6 557.5,1154 557.7,1154.2 557.9,1153.8 558.1,1153.7 558.3,1154.1 558.5,1154.1 558.7,1153.8 558.9,1153.8 559.1,1154.1 559.3,1154.1 559.5,1153.9 559.7,1154 559.9,1154.2 560,1154.2 560.2,1154.1 560.4,1154.1 560.6,1154.2 560.8,1154.2 561,1154.2 561.2,1154.2 561.4,1154.2 561.6,1154.1 561.8,1154 562,1154.1 562.2,1154.2 562.4,1154 562.6,1153.8 562.8,1154 563,1154.2 563.1,1153.8 563.3,1153.5 563.5,1153.9 563.7,1154.2 563.9,1153.6 564.1,1153.3 564.3,1153.9 564.5,1154.2 564.7,1153.3 564.9,1153.1 565.1,1153.9 565.3,1154.1 565.5,1153 565.7,1152.8 565.9,1153.9 566.1,1154 566.3,1152.6 566.4,1152.6 566.6,1154 566.8,1153.8 567,1152.4 567.2,1152.6 567.4,1154 567.6,1153.8 567.8,1152.7 568,1153 568.2,1154.1 568.4,1153.8 568.6,1152.9 568.8,1153.3 569,1154.2 569.2,1153.8 569.4,1153.1 569.5,1153.6 569.7,1154.2 569.9,1153.8 570.1,1153.4 570.3,1153.8 570.5,1154.2 570.7,1153.9 570.9,1153.6 571.1,1154 571.3,1154.2 571.5,1154 571.7,1153.9 571.9,1154.1 572.1,1154.2 572.3,1154.1 572.5,1154.1 572.6,1154.2 572.8,1154.2 573,1154 573.2,1154 573.4,1154.2 573.6,1154.1 573.8,1153.7 574,1153.7 574.2,1154.1 574.4,1154 574.6,1153.3 574.8,1153.4 575,1154.1 575.2,1153.9 575.4,1152.9 575.6,1153.2 575.8,1154.1 575.9,1153.7 576.1,1152.6 576.3,1153.1 576.5,1154.2 576.7,1153.4 576.9,1152.2 577.1,1153.1 577.3,1154.2 577.5,1153.1 577.7,1151.8 577.9,1153.1 578.1,1154.2 578.3,1153.1 578.5,1152.2 578.7,1153.4 578.9,1154.2 579,1153.1 579.2,1152.6 579.4,1153.7 579.6,1154.1 579.8,1153.3 580,1153 580.2,1153.9 580.4,1154.1 580.6,1153.5 580.8,1153.4 581,1154 581.2,1154.1 581.4,1153.6 581.6,1153.6 581.8,1154.1 582,1154.2 582.1,1154 582.3,1154.1 582.5,1154.2 582.7,1154.1 582.9,1153.9 583.1,1154 583.3,1154.2 583.5,1153.9 583.7,1153.3 583.9,1153.6 584.1,1154.2 584.3,1153.6 584.5,1152.7 584.7,1153.3 584.9,1154.2 585.1,1153.2 585.2,1152.1 585.4,1153.2 585.6,1154.2 585.8,1152.8 586,1151.6 586.2,1153.2 586.4,1154.2 586.6,1152.3 586.8,1151.2 587,1153.2 587.2,1154.1 587.4,1151.7 587.6,1150.8 587.8,1153.3 588,1153.9 588.2,1151 588.4,1150.5 588.5,1153.4 588.7,1153.8 588.9,1151.3 589.1,1151.3 589.3,1153.8 589.5,1153.8 589.7,1152.3 589.9,1152.5 590.1,1154 590.3,1153.9 590.5,1153.3 590.7,1153.5 590.9,1154.2 591.1,1154.2 591.3,1154.2 591.5,1154.2 591.6,1154.2 591.8,1153.8 592,1153.2 592.2,1153.7 592.4,1154.2 592.6,1153.3 592.8,1152.3 593,1153.3 593.2,1154.2 593.4,1152.6 593.6,1151.4 593.8,1153.1 594,1154.2 594.2,1151.7 594.4,1150.3 594.6,1152.9 594.7,1154 594.9,1150.4 595.1,1149.2 595.3,1152.9 595.5,1153.8 595.7,1148.9 595.9,1148.1 596.1,1153 596.3,1153.4 596.5,1148.5 596.7,1148.5 596.9,1153.4 597.1,1153.1 597.3,1149 597.5,1149.7 597.7,1153.8 597.9,1153 598,1149.8 598.2,1150.9 598.4,1154 598.6,1153.1 598.8,1151 599,1152.1 599.2,1154.2 599.4,1153.4 599.6,1152.2 599.8,1153.1 600,1154.2 600.2,1153.8 600.4,1153.4 600.6,1153.8 600.8,1154.2 601,1153.9 601.1,1153.6 601.3,1154 601.5,1154.2 601.7,1152.5 601.9,1151.6 602.1,1153.3 602.3,1154.1 602.5,1150.7 602.7,1149.6 602.9,1153 603.1,1153.8 603.3,1148.5 603.5,1147.6 603.7,1152.9 603.9,1153 604.1,1146.1 604.2,1146.1 604.4,1153 604.6,1152.1 604.8,1144 605,1145.3 605.2,1153.3 605.4,1150.9 605.6,1141.9 605.8,1144.9 606,1153.7 606.2,1150.6 606.4,1143.2 606.6,1147 606.8,1154 607,1150.6 607.2,1145.3 607.3,1149.2 607.5,1154.2 607.7,1151.2 607.9,1147.9 608.1,1151.2 608.3,1154.2 608.5,1152.7 608.7,1151.6 608.9,1153.1 609.1,1154.2 609.3,1153.7 609.5,1153.4 609.7,1153.9 609.9,1154.2 610.1,1151.7 610.3,1150.9 610.5,1153.3 610.6,1153.9 610.8,1147 611,1146 611.2,1152.5 611.4,1152.2 611.6,1140.9 611.8,1140.9 612,1152.2 612.2,1149.4 612.4,1130.6 612.6,1133.6 612.8,1152.2 613,1142.3 613.2,1109.3 613.4,1120.2 613.6,1152.3 613.7,1130.5 613.9,1082.6 614.1,1107.3 614.3,1153.1 614.5,1113.4 614.7,1052.9 614.9,1097.1 615.1,1154 615.3,1092 615.5,1024.5 615.7,1092 615.9,1154 616.1,1061.7 616.3,990.1 616.5,1088.1 616.7,1151.8 616.8,1017.8 617,946.3 617.2,1085.3 617.4,1145.7 617.6,967.1 617.8,907.2 618,1088.7 618.2,1133.9 618.4,913.4 618.6,877.9 618.8,1097.8 619,1115.6 619.2,894.3"/>
<line x1="359.6" y1="1149.5" x2="619.2" y2="1149.5" stroke="#ff7070" stroke-width="1.1"/>
<ellipse cx="360" cy="867.6" rx="2.4" ry="3.0" fill="#00ff00"/>
<ellipse cx="360.8" cy="891.4" rx="2.4" ry="3.0" fill="#00ff00"/>
<ellipse cx="361.5" cy="927.3" rx="2.4" ry="3.0" fill="#00ff00"/>
<ellipse cx="362.3" cy="969.9" rx="2.4" ry="3.0" fill="#00ff00"/>
<ellipse cx="362.9" cy="1003.5" rx="2.4" ry="3.0" fill="#00ff00"/>
<ellipse cx="363.7" cy="1032.7" rx="2.4" ry="3.0" fill="#00ff00"/>
<ellipse cx="364.4" cy="1061.7" rx="2.4" ry="3.0" fill="#00ff00"/>
<ellipse cx="365.2" cy="1091.6" rx="2.4" ry="3.0" fill="#00ff00"/>
<ellipse cx="366" cy="1116.9" rx="2.4" ry="3.0" fill="#00ff00"/>
<ellipse cx="366.8" cy="1136.2" rx="2.4" ry="3.0" fill="#00ff00"/>
<ellipse cx="367.5" cy="1142.9" rx="2.4" ry="3.0" fill="#00ff00"/>
<ellipse cx="368.3" cy="1149.7" rx="2.4" ry="3.0" fill="#00ff00"/>
<ellipse cx="369.1" cy="1152.3" rx="2.4" ry="3.0" fill="#00ff00"/>
<ellipse cx="369.9" cy="1153.3" rx="2.4" ry="3.0" fill="#00ff00"/>
<ellipse cx="370.5" cy="1150.5" rx="2.4" ry="3.0" fill="#00ff00"/>
<ellipse cx="371.2" cy="1146.7" rx="2.4" ry="3.0" fill="#00ff00"/>
<ellipse cx="372" cy="1144.6" rx="2.4" ry="3.0" fill="#00ff00"/>
<ellipse cx="372.8" cy="1142.6" rx="2.4" ry="3.0" fill="#00ff00"/>
<ellipse cx="373.6" cy="1142.6" rx="2.4" ry="3.0" fill="#00ff00"/>
<ellipse cx="374.3" cy="1144.6" rx="2.4" ry="3.0" fill="#00ff00"/>
<ellipse cx="375.1" cy="1146.7" rx="2.4" ry="3.0" fill="#00ff00"/>
<ellipse cx="375.9" cy="1148.7" rx="2.4" ry="3.0" fill="#00ff00"/>
<ellipse cx="376.7" cy="1150.7" rx="2.4" ry="3.0" fill="#00ff00"/>
<ellipse cx="377.4" cy="1152.7" rx="2.4" ry="3.0" fill="#00ff00"/>
<ellipse cx="378.8" cy="1153" rx="2.4" ry="3.0" fill="#00ff00"/>
<ellipse cx="379.6" cy="1151.8" rx="2.4" ry="3.0" fill="#00ff00"/>
<ellipse cx="380.3" cy="1150.6" rx="2.4" ry="3.0" fill="#00ff00"/>
<ellipse cx="381.1" cy="1149.5" rx="2.4" ry="3.0" fill="#00ff00"/>
<ellipse cx="381.9" cy="1148.8" rx="2.4" ry="3.0" fill="#00ff00"/>
<ellipse cx="382.7" cy="1148.1" rx="2.4" ry="3.0" fill="#00ff00"/>
<ellipse cx="383.4" cy="1148.8" rx="2.4" ry="3.0" fill="#00ff00"/>
<ellipse cx="384.2" cy="1149.8" rx="2.4" ry="3.0" fill="#00ff00"/>
<ellipse cx="385" cy="1150.9" rx="2.4" ry="3.0" fill="#00ff00"/>
<ellipse cx="385.6" cy="1151.7" rx="2.4" ry="3.0" fill="#00ff00"/>
<ellipse cx="386.4" cy="1152.6" rx="2.4" ry="3.0" fill="#00ff00"/>
<ellipse cx="387.1" cy="1153.5" rx="2.4" ry="3.0" fill="#00ff00"/>
<ellipse cx="387.9" cy="1154" rx="2.4" ry="3.0" fill="#00ff00"/>
<ellipse cx="388.7" cy="1153" rx="2.4" ry="3.0" fill="#00ff00"/>
<ellipse cx="389.5" cy="1152" rx="2.4" ry="3.0" fill="#00ff00"/>
<ellipse cx="390.2" cy="1151" rx="2.4" ry="3.0" fill="#00ff00"/>
<ellipse cx="391" cy="1150.7" rx="2.4" ry="3.0" fill="#00ff00"/>
<ellipse cx="391.8" cy="1151.1" rx="2.4" ry="3.0" fill="#00ff00"/>
<ellipse cx="392.4" cy="1151.4" rx="2.4" ry="3.0" fill="#00ff00"/>
<ellipse cx="393.1" cy="1151.8" rx="2.4" ry="3.0" fill="#00ff00"/>
<ellipse cx="393.9" cy="1152.3" rx="2.4" ry="3.0" fill="#00ff00"/>
<ellipse cx="394.7" cy="1152.9" rx="2.4" ry="3.0" fill="#00ff00"/>
<ellipse cx="395.5" cy="1153.5" rx="2.4" ry="3.0" fill="#00ff00"/>
<ellipse cx="396.2" cy="1154.1" rx="2.4" ry="3.0" fill="#00ff00"/>
<ellipse cx="397" cy="1153.9" rx="2.4" ry="3.0" fill="#00ff00"/>
<ellipse cx="397.8" cy="1153.5" rx="2.4" ry="3.0" fill="#00ff00"/>
<ellipse cx="398.6" cy="1153.1" rx="2.4" ry="3.0" fill="#00ff00"/>
<ellipse cx="399.3" cy="1152.8" rx="2.4" ry="3.0" fill="#00ff00"/>
<ellipse cx="400.1" cy="1152.4" rx="2.4" ry="3.0" fill="#00ff00"/>
<ellipse cx="400.7" cy="1152.1" rx="2.4" ry="3.0" fill="#00ff00"/>
<ellipse cx="401.5" cy="1151.9" rx="2.4" ry="3.0" fill="#00ff00"/>
<ellipse cx="402.2" cy="1152.3" rx="2.4" ry="3.0" fill="#00ff00"/>
<ellipse cx="403" cy="1152.7" rx="2.4" ry="3.0" fill="#00ff00"/>
<ellipse cx="403.8" cy="1153.1" rx="2.4" ry="3.0" fill="#00ff00"/>
<ellipse cx="404.6" cy="1153.4" rx="2.4" ry="3.0" fill="#00ff00"/>
<ellipse cx="405.4" cy="1153.8" rx="2.4" ry="3.0" fill="#00ff00"/>
<ellipse cx="406.9" cy="1154" rx="2.4" ry="3.0" fill="#00ff00"/>
<ellipse cx="407.7" cy="1153.7" rx="2.4" ry="3.0" fill="#00ff00"/>
<ellipse cx="408.3" cy="1153.5" rx="2.4" ry="3.0" fill="#00ff00"/>
<ellipse cx="409" cy="1153.3" rx="2.4" ry="3.0" fill="#00ff00"/>
<ellipse cx="409.8" cy="1153.1" rx="2.4" ry="3.0" fill="#00ff00"/>
<ellipse cx="410.6" cy="1152.8" rx="2.4" ry="3.0" fill="#00ff00"/>
<ellipse cx="411.4" cy="1152.6" rx="2.4" ry="3.0" fill="#00ff00"/>
<ellipse cx="412.1" cy="1152.5" rx="2.4" ry="3.0" fill="#00ff00"/>
<ellipse cx="412.9" cy="1152.7" rx="2.4" ry="3.0" fill="#00ff00"/>
<ellipse cx="413.7" cy="1152.9" rx="2.4" ry="3.0" fill="#00ff00"/>
<ellipse cx="414.5" cy="1153.2" rx="2.4" ry="3.0" fill="#00ff00"/>
<ellipse cx="415.2" cy="1153.4" rx="2.4" ry="3.0" fill="#00ff00"/>
<ellipse cx="415.8" cy="1153.6" rx="2.4" ry="3.0" fill="#00ff00"/>
<ellipse cx="416.6" cy="1153.8" rx="2.4" ry="3.0" fill="#00ff00"/>
<ellipse cx="417.4" cy="1154.1" rx="2.4" ry="3.0" fill="#00ff00"/>
<ellipse cx="418.1" cy="1154.1" rx="2.4" ry="3.0" fill="#00ff00"/>
<ellipse cx="418.9" cy="1154" rx="2.4" ry="3.0" fill="#00ff00"/>
<ellipse cx="419.7" cy="1153.9" rx="2.4" ry="3.0" fill="#00ff00"/>
<ellipse cx="420.5" cy="1153.8" rx="2.4" ry="3.0" fill="#00ff00"/>
<ellipse cx="421.2" cy="1153.7" rx="2.4" ry="3.0" fill="#00ff00"/>
<ellipse cx="422" cy="1153.5" rx="2.4" ry="3.0" fill="#00ff00"/>
<ellipse cx="422.8" cy="1153.4" rx="2.4" ry="3.0" fill="#00ff00"/>
<ellipse cx="423.4" cy="1153.3" rx="2.4" ry="3.0" fill="#00ff00"/>
<ellipse cx="424.2" cy="1153.2" rx="2.4" ry="3.0" fill="#00ff00"/>
<ellipse cx="424.9" cy="1153.1" rx="2.4" ry="3.0" fill="#00ff00"/>
<ellipse cx="425.7" cy="1153" rx="2.4" ry="3.0" fill="#00ff00"/>
<ellipse cx="426.5" cy="1153.2" rx="2.4" ry="3.0" fill="#00ff00"/>
<ellipse cx="427.3" cy="1153.3" rx="2.4" ry="3.0" fill="#00ff00"/>
<ellipse cx="428" cy="1153.4" rx="2.4" ry="3.0" fill="#00ff00"/>
<ellipse cx="428.8" cy="1153.5" rx="2.4" ry="3.0" fill="#00ff00"/>
<ellipse cx="429.6" cy="1153.6" rx="2.4" ry="3.0" fill="#00ff00"/>
<ellipse cx="430.4" cy="1153.8" rx="2.4" ry="3.0" fill="#00ff00"/>
<ellipse cx="430.9" cy="1153.8" rx="2.4" ry="3.0" fill="#00ff00"/>
<ellipse cx="431.7" cy="1154" rx="2.4" ry="3.0" fill="#00ff00"/>
<ellipse cx="432.5" cy="1154.1" rx="2.4" ry="3.0" fill="#00ff00"/>
<ellipse cx="434" cy="1154.2" rx="2.4" ry="3.0" fill="#00ff00"/>
<ellipse cx="434.8" cy="1154.2" rx="2.4" ry="3.0" fill="#00ff00"/>
<ellipse cx="435.6" cy="1154.2" rx="2.4" ry="3.0" fill="#00ff00"/>
<ellipse cx="436.4" cy="1154.2" rx="2.4" ry="3.0" fill="#00ff00"/>
<ellipse cx="437.1" cy="1154.1" rx="2.4" ry="3.0" fill="#00ff00"/>
<ellipse cx="437.9" cy="1154.1" rx="2.4" ry="3.0" fill="#00ff00"/>
<ellipse cx="438.5" cy="1154.1" rx="2.4" ry="3.0" fill="#00ff00"/>
<ellipse cx="439.3" cy="1154.1" rx="2.4" ry="3.0" fill="#00ff00"/>
<ellipse cx="440.1" cy="1154.1" rx="2.4" ry="3.0" fill="#00ff00"/>
<ellipse cx="440.8" cy="1154.1" rx="2.4" ry="3.0" fill="#00ff00"/>
<ellipse cx="441.6" cy="1154.1" rx="2.4" ry="3.0" fill="#00ff00"/>
<ellipse cx="442.4" cy="1154.1" rx="2.4" ry="3.0" fill="#00ff00"/>
<ellipse cx="443.2" cy="1154" rx="2.4" ry="3.0" fill="#00ff00"/>
<ellipse cx="443.9" cy="1154" rx="2.4" ry="3.0" fill="#00ff00"/>
<ellipse cx="444.7" cy="1154" rx="2.4" ry="3.0" fill="#00ff00"/>
<ellipse cx="445.3" cy="1154" rx="2.4" ry="3.0" fill="#00ff00"/>
<ellipse cx="446.1" cy="1154" rx="2.4" ry="3.0" fill="#00ff00"/>
<ellipse cx="446.8" cy="1154" rx="2.4" ry="3.0" fill="#00ff00"/>
<ellipse cx="447.6" cy="1154" rx="2.4" ry="3.0" fill="#00ff00"/>
<ellipse cx="448.4" cy="1154" rx="2.4" ry="3.0" fill="#00ff00"/>
<ellipse cx="449.2" cy="1153.9" rx="2.4" ry="3.0" fill="#00ff00"/>
<ellipse cx="449.9" cy="1153.9" rx="2.4" ry="3.0" fill="#00ff00"/>
<ellipse cx="450.7" cy="1153.9" rx="2.4" ry="3.0" fill="#00ff00"/>
<ellipse cx="451.5" cy="1153.9" rx="2.4" ry="3.0" fill="#00ff00"/>
<ellipse cx="452.3" cy="1153.9" rx="2.4" ry="3.0" fill="#00ff00"/>
<ellipse cx="453" cy="1153.9" rx="2.4" ry="3.0" fill="#00ff00"/>
<ellipse cx="453.6" cy="1153.9" rx="2.4" ry="3.0" fill="#00ff00"/>
<ellipse cx="454.4" cy="1153.9" rx="2.4" ry="3.0" fill="#00ff00"/>
<ellipse cx="455.2" cy="1153.9" rx="2.4" ry="3.0" fill="#00ff00"/>
<ellipse cx="455.9" cy="1153.8" rx="2.4" ry="3.0" fill="#00ff00"/>
<ellipse cx="456.7" cy="1153.8" rx="2.4" ry="3.0" fill="#00ff00"/>
<ellipse cx="457.5" cy="1153.8" rx="2.4" ry="3.0" fill="#00ff00"/>
<ellipse cx="458.3" cy="1153.8" rx="2.4" ry="3.0" fill="#00ff00"/>
<ellipse cx="459" cy="1153.8" rx="2.4" ry="3.0" fill="#00ff00"/>
<ellipse cx="459.8" cy="1153.8" rx="2.4" ry="3.0" fill="#00ff00"/>
<ellipse cx="460.4" cy="1153.8" rx="2.4" ry="3.0" fill="#00ff00"/>
<ellipse cx="461.2" cy="1153.8" rx="2.4" ry="3.0" fill="#00ff00"/>
<ellipse cx="462" cy="1153.7" rx="2.4" ry="3.0" fill="#00ff00"/>
<ellipse cx="462.7" cy="1153.7" rx="2.4" ry="3.0" fill="#00ff00"/>
<ellipse cx="463.5" cy="1153.7" rx="2.4" ry="3.0" fill="#00ff00"/>
<ellipse cx="464.3" cy="1153.7" rx="2.4" ry="3.0" fill="#00ff00"/>
<ellipse cx="465.1" cy="1153.7" rx="2.4" ry="3.0" fill="#00ff00"/>
<ellipse cx="465.8" cy="1153.7" rx="2.4" ry="3.0" fill="#00ff00"/>
<ellipse cx="466.6" cy="1153.7" rx="2.4" ry="3.0" fill="#00ff00"/>
<ellipse cx="467.4" cy="1153.7" rx="2.4" ry="3.0" fill="#00ff00"/>
<ellipse cx="468" cy="1153.6" rx="2.4" ry="3.0" fill="#00ff00"/>
<ellipse cx="468.7" cy="1153.6" rx="2.4" ry="3.0" fill="#00ff00"/>
<ellipse cx="469.5" cy="1153.6" rx="2.4" ry="3.0" fill="#00ff00"/>
<ellipse cx="470.3" cy="1153.6" rx="2.4" ry="3.0" fill="#00ff00"/>
<ellipse cx="471.1" cy="1153.6" rx="2.4" ry="3.0" fill="#00ff00"/>
<ellipse cx="471.8" cy="1153.6" rx="2.4" ry="3.0" fill="#00ff00"/>
<ellipse cx="472.6" cy="1153.6" rx="2.4" ry="3.0" fill="#00ff00"/>
<ellipse cx="473.4" cy="1153.6" rx="2.4" ry="3.0" fill="#00ff00"/>
<ellipse cx="474.2" cy="1153.5" rx="2.4" ry="3.0" fill="#00ff00"/>
<ellipse cx="474.9" cy="1153.5" rx="2.4" ry="3.0" fill="#00ff00"/>
<ellipse cx="475.5" cy="1153.5" rx="2.4" ry="3.0" fill="#00ff00"/>
<ellipse cx="476.3" cy="1153.5" rx="2.4" ry="3.0" fill="#00ff00"/>
<ellipse cx="477.1" cy="1153.5" rx="2.4" ry="3.0" fill="#00ff00"/>
<ellipse cx="477.9" cy="1153.5" rx="2.4" ry="3.0" fill="#00ff00"/>
<ellipse cx="478.6" cy="1153.5" rx="2.4" ry="3.0" fill="#00ff00"/>
<ellipse cx="479.4" cy="1153.5" rx="2.4" ry="3.0" fill="#00ff00"/>
<ellipse cx="480.2" cy="1153.5" rx="2.4" ry="3.0" fill="#00ff00"/>
<ellipse cx="481" cy="1153.4" rx="2.4" ry="3.0" fill="#00ff00"/>
<ellipse cx="481.7" cy="1153.4" rx="2.4" ry="3.0" fill="#00ff00"/>
<ellipse cx="482.5" cy="1153.4" rx="2.4" ry="3.0" fill="#00ff00"/>
<ellipse cx="483.1" cy="1153.4" rx="2.4" ry="3.0" fill="#00ff00"/>
<ellipse cx="483.9" cy="1153.4" rx="2.4" ry="3.0" fill="#00ff00"/>
<ellipse cx="484.6" cy="1153.4" rx="2.4" ry="3.0" fill="#00ff00"/>
<ellipse cx="485.4" cy="1153.4" rx="2.4" ry="3.0" fill="#00ff00"/>
<ellipse cx="486.2" cy="1153.4" rx="2.4" ry="3.0" fill="#00ff00"/>
<ellipse cx="487" cy="1153.3" rx="2.4" ry="3.0" fill="#00ff00"/>
<ellipse cx="487.7" cy="1153.3" rx="2.4" ry="3.0" fill="#00ff00"/>
<ellipse cx="488.5" cy="1153.3" rx="2.4" ry="3.0" fill="#00ff00"/>
<ellipse cx="489.3" cy="1153.3" rx="2.4" ry="3.0" fill="#00ff00"/>
<ellipse cx="490.1" cy="1153.3" rx="2.4" ry="3.0" fill="#00ff00"/>
<ellipse cx="490.6" cy="1153.3" rx="2.4" ry="3.0" fill="#00ff00"/>
<ellipse cx="491.4" cy="1153.3" rx="2.4" ry="3.0" fill="#00ff00"/>
<ellipse cx="492.2" cy="1153.3" rx="2.4" ry="3.0" fill="#00ff00"/>
<ellipse cx="493" cy="1153.4" rx="2.4" ry="3.0" fill="#00ff00"/>
<ellipse cx="493.7" cy="1153.4" rx="2.4" ry="3.0" fill="#00ff00"/>
<ellipse cx="494.5" cy="1153.4" rx="2.4" ry="3.0" fill="#00ff00"/>
<ellipse cx="495.3" cy="1153.4" rx="2.4" ry="3.0" fill="#00ff00"/>
<ellipse cx="496.1" cy="1153.4" rx="2.4" ry="3.0" fill="#00ff00"/>
<ellipse cx="496.9" cy="1153.4" rx="2.4" ry="3.0" fill="#00ff00"/>
<ellipse cx="497.6" cy="1153.4" rx="2.4" ry="3.0" fill="#00ff00"/>
<ellipse cx="498.2" cy="1153.4" rx="2.4" ry="3.0" fill="#00ff00"/>
<ellipse cx="499" cy="1153.5" rx="2.4" ry="3.0" fill="#00ff00"/>
<ellipse cx="499.8" cy="1153.5" rx="2.4" ry="3.0" fill="#00ff00"/>
<ellipse cx="500.5" cy="1153.5" rx="2.4" ry="3.0" fill="#00ff00"/>
<ellipse cx="501.3" cy="1153.5" rx="2.4" ry="3.0" fill="#00ff00"/>
<ellipse cx="502.1" cy="1153.5" rx="2.4" ry="3.0" fill="#00ff00"/>
<ellipse cx="502.9" cy="1153.5" rx="2.4" ry="3.0" fill="#00ff00"/>
<ellipse cx="503.6" cy="1153.5" rx="2.4" ry="3.0" fill="#00ff00"/>
<ellipse cx="504.4" cy="1153.5" rx="2.4" ry="3.0" fill="#00ff00"/>
<ellipse cx="505.2" cy="1153.6" rx="2.4" ry="3.0" fill="#00ff00"/>
<ellipse cx="505.8" cy="1153.6" rx="2.4" ry="3.0" fill="#00ff00"/>
<ellipse cx="506.5" cy="1153.6" rx="2.4" ry="3.0" fill="#00ff00"/>
<ellipse cx="507.3" cy="1153.6" rx="2.4" ry="3.0" fill="#00ff00"/>
<ellipse cx="508.1" cy="1153.6" rx="2.4" ry="3.0" fill="#00ff00"/>
<ellipse cx="508.9" cy="1153.6" rx="2.4" ry="3.0" fill="#00ff00"/>
<ellipse cx="509.6" cy="1153.6" rx="2.4" ry="3.0" fill="#00ff00"/>
<ellipse cx="510.4" cy="1153.6" rx="2.4" ry="3.0" fill="#00ff00"/>
<ellipse cx="511.2" cy="1153.7" rx="2.4" ry="3.0" fill="#00ff00"/>
<ellipse cx="512" cy="1153.7" rx="2.4" ry="3.0" fill="#00ff00"/>
<ellipse cx="512.7" cy="1153.7" rx="2.4" ry="3.0" fill="#00ff00"/>
<ellipse cx="513.3" cy="1153.7" rx="2.4" ry="3.0" fill="#00ff00"/>
<ellipse cx="514.1" cy="1153.7" rx="2.4" ry="3.0" fill="#00ff00"/>
<ellipse cx="514.9" cy="1153.7" rx="2.4" ry="3.0" fill="#00ff00"/>
<ellipse cx="515.7" cy="1153.7" rx="2.4" ry="3.0" fill="#00ff00"/>
<ellipse cx="516.4" cy="1153.7" rx="2.4" ry="3.0" fill="#00ff00"/>
<ellipse cx="517.2" cy="1153.7" rx="2.4" ry="3.0" fill="#00ff00"/>
<ellipse cx="518" cy="1153.8" rx="2.4" ry="3.0" fill="#00ff00"/>
<ellipse cx="518.8" cy="1153.8" rx="2.4" ry="3.0" fill="#00ff00"/>
<ellipse cx="519.5" cy="1153.8" rx="2.4" ry="3.0" fill="#00ff00"/>
<ellipse cx="520.3" cy="1153.8" rx="2.4" ry="3.0" fill="#00ff00"/>
<ellipse cx="520.9" cy="1153.8" rx="2.4" ry="3.0" fill="#00ff00"/>
<ellipse cx="521.7" cy="1153.8" rx="2.4" ry="3.0" fill="#00ff00"/>
<ellipse cx="522.4" cy="1153.8" rx="2.4" ry="3.0" fill="#00ff00"/>
<ellipse cx="523.2" cy="1153.8" rx="2.4" ry="3.0" fill="#00ff00"/>
<ellipse cx="524" cy="1153.9" rx="2.4" ry="3.0" fill="#00ff00"/>
<ellipse cx="524.8" cy="1153.9" rx="2.4" ry="3.0" fill="#00ff00"/>
<ellipse cx="525.5" cy="1153.9" rx="2.4" ry="3.0" fill="#00ff00"/>
<ellipse cx="526.3" cy="1153.9" rx="2.4" ry="3.0" fill="#00ff00"/>
<ellipse cx="527.1" cy="1153.9" rx="2.4" ry="3.0" fill="#00ff00"/>
<ellipse cx="527.9" cy="1153.9" rx="2.4" ry="3.0" fill="#00ff00"/>
<ellipse cx="528.4" cy="1153.9" rx="2.4" ry="3.0" fill="#00ff00"/>
<ellipse cx="529.2" cy="1153.9" rx="2.4" ry="3.0" fill="#00ff00"/>
<ellipse cx="530" cy="1154" rx="2.4" ry="3.0" fill="#00ff00"/>
<ellipse cx="530.8" cy="1154" rx="2.4" ry="3.0" fill="#00ff00"/>
<ellipse cx="531.6" cy="1154" rx="2.4" ry="3.0" fill="#00ff00"/>
<ellipse cx="532.3" cy="1154" rx="2.4" ry="3.0" fill="#00ff00"/>
<ellipse cx="533.1" cy="1154" rx="2.4" ry="3.0" fill="#00ff00"/>
<ellipse cx="533.9" cy="1154" rx="2.4" ry="3.0" fill="#00ff00"/>
<ellipse cx="534.7" cy="1154" rx="2.4" ry="3.0" fill="#00ff00"/>
<ellipse cx="535.4" cy="1154" rx="2.4" ry="3.0" fill="#00ff00"/>
<ellipse cx="536" cy="1154" rx="2.4" ry="3.0" fill="#00ff00"/>
<ellipse cx="536.8" cy="1154.1" rx="2.4" ry="3.0" fill="#00ff00"/>
<ellipse cx="537.6" cy="1154.1" rx="2.4" ry="3.0" fill="#00ff00"/>
<ellipse cx="538.3" cy="1154.1" rx="2.4" ry="3.0" fill="#00ff00"/>
<ellipse cx="539.1" cy="1154.1" rx="2.4" ry="3.0" fill="#00ff00"/>
<ellipse cx="539.9" cy="1154.1" rx="2.4" ry="3.0" fill="#00ff00"/>
<ellipse cx="540.7" cy="1154.1" rx="2.4" ry="3.0" fill="#00ff00"/>
<ellipse cx="541.4" cy="1154.1" rx="2.4" ry="3.0" fill="#00ff00"/>
<ellipse cx="542.2" cy="1154.1" rx="2.4" ry="3.0" fill="#00ff00"/>
<ellipse cx="543" cy="1154.2" rx="2.4" ry="3.0" fill="#00ff00"/>
<ellipse cx="543.6" cy="1154.2" rx="2.4" ry="3.0" fill="#00ff00"/>
<ellipse cx="544.3" cy="1154.2" rx="2.4" ry="3.0" fill="#00ff00"/>
<ellipse cx="545.1" cy="1154.2" rx="2.4" ry="3.0" fill="#00ff00"/>
<ellipse cx="545.9" cy="1154.2" rx="2.4" ry="3.0" fill="#00ff00"/>
<ellipse cx="546.7" cy="1154" rx="2.4" ry="3.0" fill="#00ff00"/>
<ellipse cx="547.4" cy="1153.9" rx="2.4" ry="3.0" fill="#00ff00"/>
<ellipse cx="548.2" cy="1153.8" rx="2.4" ry="3.0" fill="#00ff00"/>
<ellipse cx="549" cy="1153.7" rx="2.4" ry="3.0" fill="#00ff00"/>
<ellipse cx="549.8" cy="1153.6" rx="2.4" ry="3.0" fill="#00ff00"/>
<ellipse cx="550.5" cy="1153.4" rx="2.4" ry="3.0" fill="#00ff00"/>
<ellipse cx="551.1" cy="1153.4" rx="2.4" ry="3.0" fill="#00ff00"/>
<ellipse cx="551.9" cy="1153.2" rx="2.4" ry="3.0" fill="#00ff00"/>
<ellipse cx="552.7" cy="1153.1" rx="2.4" ry="3.0" fill="#00ff00"/>
<ellipse cx="553.5" cy="1153" rx="2.4" ry="3.0" fill="#00ff00"/>
<ellipse cx="554.2" cy="1153.1" rx="2.4" ry="3.0" fill="#00ff00"/>
<ellipse cx="555" cy="1153.3" rx="2.4" ry="3.0" fill="#00ff00"/>
<ellipse cx="555.8" cy="1153.4" rx="2.4" ry="3.0" fill="#00ff00"/>
<ellipse cx="556.6" cy="1153.5" rx="2.4" ry="3.0" fill="#00ff00"/>
<ellipse cx="557.3" cy="1153.6" rx="2.4" ry="3.0" fill="#00ff00"/>
<ellipse cx="558.1" cy="1153.7" rx="2.4" ry="3.0" fill="#00ff00"/>
<ellipse cx="558.7" cy="1153.8" rx="2.4" ry="3.0" fill="#00ff00"/>
<ellipse cx="559.5" cy="1153.9" rx="2.4" ry="3.0" fill="#00ff00"/>
<ellipse cx="560.2" cy="1154.1" rx="2.4" ry="3.0" fill="#00ff00"/>
<ellipse cx="561" cy="1154.2" rx="2.4" ry="3.0" fill="#00ff00"/>
<ellipse cx="561.8" cy="1154" rx="2.4" ry="3.0" fill="#00ff00"/>
<ellipse cx="562.6" cy="1153.8" rx="2.4" ry="3.0" fill="#00ff00"/>
<ellipse cx="563.3" cy="1153.5" rx="2.4" ry="3.0" fill="#00ff00"/>
<ellipse cx="564.1" cy="1153.3" rx="2.4" ry="3.0" fill="#00ff00"/>
<ellipse cx="564.9" cy="1153.1" rx="2.4" ry="3.0" fill="#00ff00"/>
<ellipse cx="565.7" cy="1152.8" rx="2.4" ry="3.0" fill="#00ff00"/>
<ellipse cx="566.3" cy="1152.6" rx="2.4" ry="3.0" fill="#00ff00"/>
<ellipse cx="567" cy="1152.4" rx="2.4" ry="3.0" fill="#00ff00"/>
<ellipse cx="567.8" cy="1152.7" rx="2.4" ry="3.0" fill="#00ff00"/>
<ellipse cx="568.6" cy="1152.9" rx="2.4" ry="3.0" fill="#00ff00"/>
<ellipse cx="569.4" cy="1153.1" rx="2.4" ry="3.0" fill="#00ff00"/>
<ellipse cx="570.1" cy="1153.4" rx="2.4" ry="3.0" fill="#00ff00"/>
<ellipse cx="570.9" cy="1153.6" rx="2.4" ry="3.0" fill="#00ff00"/>
<ellipse cx="571.7" cy="1153.9" rx="2.4" ry="3.0" fill="#00ff00"/>
<ellipse cx="572.5" cy="1154.1" rx="2.4" ry="3.0" fill="#00ff00"/>
<ellipse cx="573.2" cy="1154" rx="2.4" ry="3.0" fill="#00ff00"/>
<ellipse cx="573.8" cy="1153.7" rx="2.4" ry="3.0" fill="#00ff00"/>
<ellipse cx="574.6" cy="1153.3" rx="2.4" ry="3.0" fill="#00ff00"/>
<ellipse cx="575.4" cy="1152.9" rx="2.4" ry="3.0" fill="#00ff00"/>
<ellipse cx="576.1" cy="1152.6" rx="2.4" ry="3.0" fill="#00ff00"/>
<ellipse cx="576.9" cy="1152.2" rx="2.4" ry="3.0" fill="#00ff00"/>
<ellipse cx="577.7" cy="1151.8" rx="2.4" ry="3.0" fill="#00ff00"/>
<ellipse cx="578.5" cy="1152.2" rx="2.4" ry="3.0" fill="#00ff00"/>
<ellipse cx="579.2" cy="1152.6" rx="2.4" ry="3.0" fill="#00ff00"/>
<ellipse cx="580" cy="1153" rx="2.4" ry="3.0" fill="#00ff00"/>
<ellipse cx="580.8" cy="1153.4" rx="2.4" ry="3.0" fill="#00ff00"/>
<ellipse cx="581.4" cy="1153.6" rx="2.4" ry="3.0" fill="#00ff00"/>
<ellipse cx="582.1" cy="1154" rx="2.4" ry="3.0" fill="#00ff00"/>
<ellipse cx="582.9" cy="1153.9" rx="2.4" ry="3.0" fill="#00ff00"/>
<ellipse cx="583.7" cy="1153.3" rx="2.4" ry="3.0" fill="#00ff00"/>
<ellipse cx="584.5" cy="1152.7" rx="2.4" ry="3.0" fill="#00ff00"/>
<ellipse cx="585.2" cy="1152.1" rx="2.4" ry="3.0" fill="#00ff00"/>
<ellipse cx="586" cy="1151.6" rx="2.4" ry="3.0" fill="#00ff00"/>
<ellipse cx="586.8" cy="1151.2" rx="2.4" ry="3.0" fill="#00ff00"/>
<ellipse cx="587.6" cy="1150.8" rx="2.4" ry="3.0" fill="#00ff00"/>
<ellipse cx="588.4" cy="1150.5" rx="2.4" ry="3.0" fill="#00ff00"/>
<ellipse cx="588.9" cy="1151.3" rx="2.4" ry="3.0" fill="#00ff00"/>
<ellipse cx="589.7" cy="1152.3" rx="2.4" ry="3.0" fill="#00ff00"/>
<ellipse cx="590.5" cy="1153.3" rx="2.4" ry="3.0" fill="#00ff00"/>
<ellipse cx="591.3" cy="1154.2" rx="2.4" ry="3.0" fill="#00ff00"/>
<ellipse cx="592" cy="1153.2" rx="2.4" ry="3.0" fill="#00ff00"/>
<ellipse cx="592.8" cy="1152.3" rx="2.4" ry="3.0" fill="#00ff00"/>
<ellipse cx="593.6" cy="1151.4" rx="2.4" ry="3.0" fill="#00ff00"/>
<ellipse cx="594.4" cy="1150.3" rx="2.4" ry="3.0" fill="#00ff00"/>
<ellipse cx="595.1" cy="1149.2" rx="2.4" ry="3.0" fill="#00ff00"/>
<ellipse cx="595.9" cy="1148.1" rx="2.4" ry="3.0" fill="#00ff00"/>
<ellipse cx="596.7" cy="1148.5" rx="2.4" ry="3.0" fill="#00ff00"/>
<ellipse cx="597.3" cy="1149" rx="2.4" ry="3.0" fill="#00ff00"/>
<ellipse cx="598" cy="1149.8" rx="2.4" ry="3.0" fill="#00ff00"/>
<ellipse cx="598.8" cy="1151" rx="2.4" ry="3.0" fill="#00ff00"/>
<ellipse cx="599.6" cy="1152.2" rx="2.4" ry="3.0" fill="#00ff00"/>
<ellipse cx="600.4" cy="1153.4" rx="2.4" ry="3.0" fill="#00ff00"/>
<ellipse cx="601.1" cy="1153.6" rx="2.4" ry="3.0" fill="#00ff00"/>
<ellipse cx="601.9" cy="1151.6" rx="2.4" ry="3.0" fill="#00ff00"/>
<ellipse cx="602.7" cy="1149.6" rx="2.4" ry="3.0" fill="#00ff00"/>
<ellipse cx="603.5" cy="1147.6" rx="2.4" ry="3.0" fill="#00ff00"/>
<ellipse cx="604.1" cy="1146.1" rx="2.4" ry="3.0" fill="#00ff00"/>
<ellipse cx="604.8" cy="1144" rx="2.4" ry="3.0" fill="#00ff00"/>
<ellipse cx="605.6" cy="1141.9" rx="2.4" ry="3.0" fill="#00ff00"/>
<ellipse cx="606.4" cy="1143.2" rx="2.4" ry="3.0" fill="#00ff00"/>
<ellipse cx="607.2" cy="1145.3" rx="2.4" ry="3.0" fill="#00ff00"/>
<ellipse cx="607.9" cy="1147.9" rx="2.4" ry="3.0" fill="#00ff00"/>
<ellipse cx="608.7" cy="1151.6" rx="2.4" ry="3.0" fill="#00ff00"/>
<ellipse cx="609.5" cy="1153.4" rx="2.4" ry="3.0" fill="#00ff00"/>
<ellipse cx="610.3" cy="1150.9" rx="2.4" ry="3.0" fill="#00ff00"/>
<ellipse cx="611" cy="1146" rx="2.4" ry="3.0" fill="#00ff00"/>
<ellipse cx="611.6" cy="1140.9" rx="2.4" ry="3.0" fill="#00ff00"/>
<ellipse cx="612.4" cy="1130.6" rx="2.4" ry="3.0" fill="#00ff00"/>
<ellipse cx="613.2" cy="1109.3" rx="2.4" ry="3.0" fill="#00ff00"/>
<ellipse cx="613.9" cy="1082.6" rx="2.4" ry="3.0" fill="#00ff00"/>
<ellipse cx="614.7" cy="1052.9" rx="2.4" ry="3.0" fill="#00ff00"/>
<ellipse cx="615.5" cy="1024.5" rx="2.4" ry="3.0" fill="#00ff00"/>
<ellipse cx="616.3" cy="990.1" rx="2.4" ry="3.0" fill="#00ff00"/>
<ellipse cx="617" cy="946.3" rx="2.4" ry="3.0" fill="#00ff00"/>
<ellipse cx="617.8" cy="907.2" rx="2.4" ry="3.0" fill="#00ff00"/>
<ellipse cx="618.6" cy="877.9" rx="2.4" ry="3.0" fill="#00ff00"/>
<rect x="572.4" y="865.3" width="52.4" height="41.4" fill="#fff" stroke="#8a8a8a" stroke-width="1"/>
<line x1="575" y1="873.2" x2="598.4" y2="873.2" stroke="#a9cdee" stroke-width="1.3"/>
<line x1="575" y1="885.9" x2="598.4" y2="885.9" stroke="#ff9a9a" stroke-width="1.3"/>
<ellipse cx="587.2" cy="898.8" rx="2.4" ry="3.1" fill="#00ff00"/>
<text transform="translate(600.2,877.3) scale(0.66,1)" font-size="10.2" text-anchor="start" fill="#333333" font-family="Liberation Sans, sans-serif">data1</text>
<text transform="translate(600.2,889.9) scale(0.66,1)" font-size="10.2" text-anchor="start" fill="#333333" font-family="Liberation Sans, sans-serif">data2</text>
<text transform="translate(600.2,902.6) scale(0.66,1)" font-size="10.2" text-anchor="start" fill="#333333" font-family="Liberation Sans, sans-serif">Peaks</text>
<text transform="translate(359.6,1169.8) scale(0.7,1)" font-size="10.4" text-anchor="middle" fill="#333333" font-family="Liberation Sans, sans-serif">0</text>
<text transform="translate(398.4,1169.8) scale(0.7,1)" font-size="10.4" text-anchor="middle" fill="#333333" font-family="Liberation Sans, sans-serif">200</text>
<text transform="translate(437.1,1169.8) scale(0.7,1)" font-size="10.4" text-anchor="middle" fill="#333333" font-family="Liberation Sans, sans-serif">400</text>
<text transform="translate(475.9,1169.8) scale(0.7,1)" font-size="10.4" text-anchor="middle" fill="#333333" font-family="Liberation Sans, sans-serif">600</text>
<text transform="translate(514.7,1169.8) scale(0.7,1)" font-size="10.4" text-anchor="middle" fill="#333333" font-family="Liberation Sans, sans-serif">800</text>
<text transform="translate(553.5,1169.8) scale(0.7,1)" font-size="10.4" text-anchor="middle" fill="#333333" font-family="Liberation Sans, sans-serif">1000</text>
<text transform="translate(592.2,1169.8) scale(0.7,1)" font-size="10.4" text-anchor="middle" fill="#333333" font-family="Liberation Sans, sans-serif">1200</text>
<text transform="translate(631,1169.8) scale(0.7,1)" font-size="10.4" text-anchor="middle" fill="#333333" font-family="Liberation Sans, sans-serif">1400</text>
<text transform="translate(356,1158) scale(0.7,1)" font-size="10.4" text-anchor="end" fill="#333333" font-family="Liberation Sans, sans-serif">0</text>
<text transform="translate(356,1128.1) scale(0.7,1)" font-size="10.4" text-anchor="end" fill="#333333" font-family="Liberation Sans, sans-serif">0.02</text>
<text transform="translate(356,1098.3) scale(0.7,1)" font-size="10.4" text-anchor="end" fill="#333333" font-family="Liberation Sans, sans-serif">0.04</text>
<text transform="translate(356,1068.4) scale(0.7,1)" font-size="10.4" text-anchor="end" fill="#333333" font-family="Liberation Sans, sans-serif">0.06</text>
<text transform="translate(356,1038.6) scale(0.7,1)" font-size="10.4" text-anchor="end" fill="#333333" font-family="Liberation Sans, sans-serif">0.08</text>
<text transform="translate(356,1008.7) scale(0.7,1)" font-size="10.4" text-anchor="end" fill="#333333" font-family="Liberation Sans, sans-serif">0.1</text>
<text transform="translate(356,978.8) scale(0.7,1)" font-size="10.4" text-anchor="end" fill="#333333" font-family="Liberation Sans, sans-serif">0.12</text>
<text transform="translate(356,949) scale(0.7,1)" font-size="10.4" text-anchor="end" fill="#333333" font-family="Liberation Sans, sans-serif">0.14</text>
<text transform="translate(356,919.1) scale(0.7,1)" font-size="10.4" text-anchor="end" fill="#333333" font-family="Liberation Sans, sans-serif">0.16</text>
<text transform="translate(356,889.3) scale(0.7,1)" font-size="10.4" text-anchor="end" fill="#333333" font-family="Liberation Sans, sans-serif">0.18</text>
<text transform="translate(356,859.4) scale(0.7,1)" font-size="10.4" text-anchor="end" fill="#333333" font-family="Liberation Sans, sans-serif">0.2</text>
<text transform="translate(494.7,1184.8) scale(0.745,1)" font-size="11.8" text-anchor="middle" fill="#333" font-family="Liberation Sans, sans-serif">Aminoacids location</text>
<text transform="translate(335.2,1007) rotate(-90) scale(1,0.8)" font-size="12" text-anchor="middle" fill="#333" font-family="Liberation Sans, sans-serif">Energy at the Characteristic Frequency</text></svg>
</body></html>
